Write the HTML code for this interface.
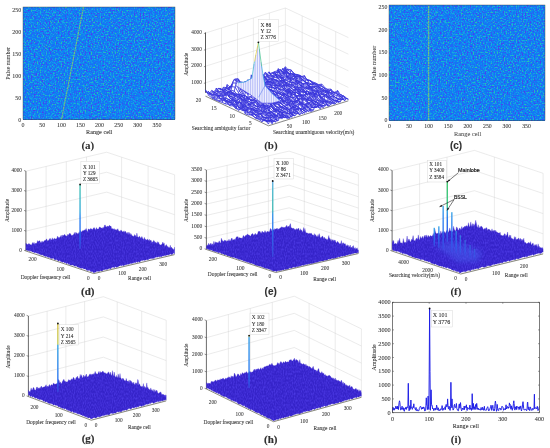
<!DOCTYPE html><html><head><meta charset="utf-8"><style>html,body{margin:0;padding:0;background:#fff}svg{display:block}</style></head><body>
<svg width="550" height="448" viewBox="0 0 550 448">
<defs>
<filter id="hm" x="0" y="0" width="100%" height="100%" color-interpolation-filters="sRGB">
<feTurbulence type="fractalNoise" baseFrequency="0.67" numOctaves="2" seed="3" result="n"/>
<feColorMatrix in="n" type="matrix" values="1 0 0 0 0  1 0 0 0 0  1 0 0 0 0  0 0 0 0 1"/>
<feComponentTransfer><feFuncR type="linear" slope="1.9" intercept="-0.45"/><feFuncG type="linear" slope="1.9" intercept="-0.45"/><feFuncB type="linear" slope="1.9" intercept="-0.45"/></feComponentTransfer>
<feComponentTransfer>
<feFuncR type="table" tableValues="0.30 0.25 0.15 0.09 0.07 0.07 0.07 0.08 0.10 0.18"/>
<feFuncG type="table" tableValues="0.24 0.30 0.40 0.45 0.48 0.52 0.57 0.63 0.70 0.76"/>
<feFuncB type="table" tableValues="0.93 0.95 0.96 0.96 0.96 0.95 0.93 0.90 0.84 0.66"/>
</feComponentTransfer>
<feGaussianBlur stdDeviation="0.5"/>
</filter>
<filter id="sf" x="0" y="0" width="100%" height="100%" color-interpolation-filters="sRGB">
<feTurbulence type="fractalNoise" baseFrequency="0.9 0.45" numOctaves="1" seed="5" result="n"/>
<feColorMatrix in="n" type="matrix" values="1.9 0 0 0 -0.7  1.9 0 0 0 -0.7  1.9 0 0 0 -0.7  0 0 0 0 1"/>
<feComponentTransfer>
<feFuncR type="table" tableValues="0.21 0.26 0.31"/>
<feFuncG type="table" tableValues="0.14 0.185 0.25"/>
<feFuncB type="table" tableValues="0.79 0.85 0.91"/>
</feComponentTransfer>
<feComposite in2="SourceGraphic" operator="in"/>
</filter>
<filter id="bl" x="-50%" y="-50%" width="200%" height="200%"><feGaussianBlur stdDeviation="2.5"/></filter>
</defs>
<rect width="550" height="448" fill="#fff"/>
<rect x="23" y="7" width="152" height="112.5" filter="url(#hm)" fill="#1e78f0"/>
<polyline points="61.5,119.5 83.5,7" fill="none" stroke="#78c878" stroke-width="1.15" stroke-dasharray="2.6 0.6 1.4 0.5" opacity="0.9"/>
<rect x="23" y="7" width="152" height="112.5" fill="none" stroke="#3a3a3a" stroke-width="0.4"/>
<text x="23.1" y="126.9" font-size="6.0" text-anchor="middle" font-family="'Liberation Serif','Times New Roman',serif" font-weight="normal" fill="#303030" stroke="#303030" stroke-width="0.06">0</text>
<text x="42.2" y="126.9" font-size="6.0" text-anchor="middle" font-family="'Liberation Serif','Times New Roman',serif" font-weight="normal" fill="#303030" stroke="#303030" stroke-width="0.06">50</text>
<text x="61.4" y="126.9" font-size="6.0" text-anchor="middle" font-family="'Liberation Serif','Times New Roman',serif" font-weight="normal" fill="#303030" stroke="#303030" stroke-width="0.06">100</text>
<text x="80.5" y="126.9" font-size="6.0" text-anchor="middle" font-family="'Liberation Serif','Times New Roman',serif" font-weight="normal" fill="#303030" stroke="#303030" stroke-width="0.06">150</text>
<text x="99.6" y="126.9" font-size="6.0" text-anchor="middle" font-family="'Liberation Serif','Times New Roman',serif" font-weight="normal" fill="#303030" stroke="#303030" stroke-width="0.06">200</text>
<text x="118.7" y="126.9" font-size="6.0" text-anchor="middle" font-family="'Liberation Serif','Times New Roman',serif" font-weight="normal" fill="#303030" stroke="#303030" stroke-width="0.06">250</text>
<text x="137.8" y="126.9" font-size="6.0" text-anchor="middle" font-family="'Liberation Serif','Times New Roman',serif" font-weight="normal" fill="#303030" stroke="#303030" stroke-width="0.06">300</text>
<text x="157" y="126.9" font-size="6.0" text-anchor="middle" font-family="'Liberation Serif','Times New Roman',serif" font-weight="normal" fill="#303030" stroke="#303030" stroke-width="0.06">350</text>
<text x="21.3" y="121.5" font-size="6.0" text-anchor="end" font-family="'Liberation Serif','Times New Roman',serif" font-weight="normal" fill="#303030" stroke="#303030" stroke-width="0.06">0</text>
<text x="21.3" y="99.5" font-size="6.0" text-anchor="end" font-family="'Liberation Serif','Times New Roman',serif" font-weight="normal" fill="#303030" stroke="#303030" stroke-width="0.06">50</text>
<text x="21.3" y="77.5" font-size="6.0" text-anchor="end" font-family="'Liberation Serif','Times New Roman',serif" font-weight="normal" fill="#303030" stroke="#303030" stroke-width="0.06">100</text>
<text x="21.3" y="55.6" font-size="6.0" text-anchor="end" font-family="'Liberation Serif','Times New Roman',serif" font-weight="normal" fill="#303030" stroke="#303030" stroke-width="0.06">150</text>
<text x="21.3" y="33.6" font-size="6.0" text-anchor="end" font-family="'Liberation Serif','Times New Roman',serif" font-weight="normal" fill="#303030" stroke="#303030" stroke-width="0.06">200</text>
<text x="21.3" y="11.6" font-size="6.0" text-anchor="end" font-family="'Liberation Serif','Times New Roman',serif" font-weight="normal" fill="#303030" stroke="#303030" stroke-width="0.06">250</text>
<text x="99.2" y="134.2" font-size="6.2" text-anchor="middle" font-family="'Liberation Serif','Times New Roman',serif" font-weight="normal" fill="#303030" stroke="#303030" stroke-width="0.06">Range cell</text>
<text x="7.6" y="65.3" font-size="6.0" text-anchor="middle" font-family="'Liberation Serif','Times New Roman',serif" font-weight="normal" fill="#303030" stroke="#303030" stroke-width="0.06" transform="rotate(-90 7.6 63.3)">Pulse number</text>
<text x="87.8" y="149.1" font-size="11" text-anchor="middle" font-family="'Liberation Serif','Times New Roman',serif" font-weight="bold" fill="#303030" stroke="#303030" stroke-width="0.06">(a)</text>
<rect x="389" y="5" width="156" height="115.5" filter="url(#hm)" fill="#1e78f0"/>
<polyline points="428.6,120.5 428.6,5" fill="none" stroke="#78c878" stroke-width="1.4" stroke-dasharray="2.6 0.6 1.4 0.5" opacity="0.9"/>
<rect x="389" y="5" width="156" height="115.5" fill="none" stroke="#3a3a3a" stroke-width="0.4"/>
<text x="389.5" y="128.2" font-size="5.8" text-anchor="middle" font-family="'Liberation Serif','Times New Roman',serif" font-weight="normal" fill="#303030" stroke="#303030" stroke-width="0.06">0</text>
<text x="409.1" y="128.2" font-size="5.8" text-anchor="middle" font-family="'Liberation Serif','Times New Roman',serif" font-weight="normal" fill="#303030" stroke="#303030" stroke-width="0.06">50</text>
<text x="428.6" y="128.2" font-size="5.8" text-anchor="middle" font-family="'Liberation Serif','Times New Roman',serif" font-weight="normal" fill="#303030" stroke="#303030" stroke-width="0.06">100</text>
<text x="448.2" y="128.2" font-size="5.8" text-anchor="middle" font-family="'Liberation Serif','Times New Roman',serif" font-weight="normal" fill="#303030" stroke="#303030" stroke-width="0.06">150</text>
<text x="467.8" y="128.2" font-size="5.8" text-anchor="middle" font-family="'Liberation Serif','Times New Roman',serif" font-weight="normal" fill="#303030" stroke="#303030" stroke-width="0.06">200</text>
<text x="487.4" y="128.2" font-size="5.8" text-anchor="middle" font-family="'Liberation Serif','Times New Roman',serif" font-weight="normal" fill="#303030" stroke="#303030" stroke-width="0.06">250</text>
<text x="506.9" y="128.2" font-size="5.8" text-anchor="middle" font-family="'Liberation Serif','Times New Roman',serif" font-weight="normal" fill="#303030" stroke="#303030" stroke-width="0.06">300</text>
<text x="526.5" y="128.2" font-size="5.8" text-anchor="middle" font-family="'Liberation Serif','Times New Roman',serif" font-weight="normal" fill="#303030" stroke="#303030" stroke-width="0.06">350</text>
<text x="387.3" y="122.2" font-size="5.8" text-anchor="end" font-family="'Liberation Serif','Times New Roman',serif" font-weight="normal" fill="#303030" stroke="#303030" stroke-width="0.06">0</text>
<text x="387.3" y="99.6" font-size="5.8" text-anchor="end" font-family="'Liberation Serif','Times New Roman',serif" font-weight="normal" fill="#303030" stroke="#303030" stroke-width="0.06">50</text>
<text x="387.3" y="77" font-size="5.8" text-anchor="end" font-family="'Liberation Serif','Times New Roman',serif" font-weight="normal" fill="#303030" stroke="#303030" stroke-width="0.06">100</text>
<text x="387.3" y="54.4" font-size="5.8" text-anchor="end" font-family="'Liberation Serif','Times New Roman',serif" font-weight="normal" fill="#303030" stroke="#303030" stroke-width="0.06">150</text>
<text x="387.3" y="31.8" font-size="5.8" text-anchor="end" font-family="'Liberation Serif','Times New Roman',serif" font-weight="normal" fill="#303030" stroke="#303030" stroke-width="0.06">200</text>
<text x="387.3" y="9.2" font-size="5.8" text-anchor="end" font-family="'Liberation Serif','Times New Roman',serif" font-weight="normal" fill="#303030" stroke="#303030" stroke-width="0.06">250</text>
<text x="467.6" y="135.7" font-size="6.4" text-anchor="middle" font-family="'Liberation Serif','Times New Roman',serif" font-weight="normal" fill="#555" stroke="#555" stroke-width="0.06">Range cell</text>
<text x="373.7" y="65" font-size="6.3" text-anchor="middle" font-family="'Liberation Serif','Times New Roman',serif" font-weight="normal" fill="#303030" stroke="#303030" stroke-width="0.06" transform="rotate(-90 373.7 62.9)">Pulse number</text>
<text x="456" y="148.6" font-size="10" text-anchor="middle" font-family="'Liberation Sans',Arial,sans-serif" font-weight="bold" fill="#303030" stroke="#303030" stroke-width="0.1">(c)</text>
<polyline points="25.9,231.1 106.7,212.1 174.6,234.7" fill="none" stroke="#d2d2d2" stroke-width="0.45"/>
<polyline points="25.9,211.1 106.7,192.1 174.6,214.7" fill="none" stroke="#d2d2d2" stroke-width="0.45"/>
<polyline points="25.9,191.2 106.7,172.2 174.6,194.8" fill="none" stroke="#d2d2d2" stroke-width="0.45"/>
<polyline points="25.9,171.2 106.7,152.2 174.6,174.8" fill="none" stroke="#d2d2d2" stroke-width="0.45"/>
<line x1="46.1" y1="246.2" x2="46.1" y2="166.4" stroke="#d2d2d2" stroke-width="0.45"/>
<line x1="66.3" y1="241.5" x2="66.3" y2="161.7" stroke="#d2d2d2" stroke-width="0.45"/>
<line x1="86.5" y1="236.8" x2="86.5" y2="156.9" stroke="#d2d2d2" stroke-width="0.45"/>
<line x1="174.6" y1="254.6" x2="174.6" y2="174.8" stroke="#d2d2d2" stroke-width="0.45"/>
<line x1="148.1" y1="245.8" x2="148.1" y2="166" stroke="#d2d2d2" stroke-width="0.45"/>
<line x1="121.6" y1="237" x2="121.6" y2="157.2" stroke="#d2d2d2" stroke-width="0.45"/>
<line x1="114" y1="268.9" x2="46.1" y2="246.2" stroke="#d2d2d2" stroke-width="0.45"/>
<line x1="134.2" y1="264.1" x2="66.3" y2="241.5" stroke="#d2d2d2" stroke-width="0.45"/>
<line x1="154.4" y1="259.4" x2="86.5" y2="236.8" stroke="#d2d2d2" stroke-width="0.45"/>
<line x1="93.8" y1="273.6" x2="174.6" y2="254.6" stroke="#d2d2d2" stroke-width="0.45"/>
<line x1="67.3" y1="264.8" x2="148.1" y2="245.8" stroke="#d2d2d2" stroke-width="0.45"/>
<line x1="40.8" y1="256" x2="121.6" y2="237" stroke="#d2d2d2" stroke-width="0.45"/>
<line x1="25.9" y1="251" x2="25.9" y2="171.2" stroke="#3a3a3a" stroke-width="0.75"/>
<line x1="24.1" y1="250.3" x2="25.9" y2="251" stroke="#3a3a3a" stroke-width="0.55"/>
<text x="22" y="251.8" font-size="5.3" text-anchor="end" font-family="'Liberation Serif','Times New Roman',serif" font-weight="normal" fill="#303030" stroke="#303030" stroke-width="0.06">0</text>
<line x1="24.1" y1="230.4" x2="25.9" y2="231.1" stroke="#3a3a3a" stroke-width="0.55"/>
<text x="22" y="231.9" font-size="5.3" text-anchor="end" font-family="'Liberation Serif','Times New Roman',serif" font-weight="normal" fill="#303030" stroke="#303030" stroke-width="0.06">1000</text>
<line x1="24.1" y1="210.4" x2="25.9" y2="211.1" stroke="#3a3a3a" stroke-width="0.55"/>
<text x="22" y="211.9" font-size="5.3" text-anchor="end" font-family="'Liberation Serif','Times New Roman',serif" font-weight="normal" fill="#303030" stroke="#303030" stroke-width="0.06">2000</text>
<line x1="24.1" y1="190.5" x2="25.9" y2="191.2" stroke="#3a3a3a" stroke-width="0.55"/>
<text x="22" y="192" font-size="5.3" text-anchor="end" font-family="'Liberation Serif','Times New Roman',serif" font-weight="normal" fill="#303030" stroke="#303030" stroke-width="0.06">3000</text>
<line x1="24.1" y1="170.5" x2="25.9" y2="171.2" stroke="#3a3a3a" stroke-width="0.55"/>
<text x="22" y="172" font-size="5.3" text-anchor="end" font-family="'Liberation Serif','Times New Roman',serif" font-weight="normal" fill="#303030" stroke="#303030" stroke-width="0.06">4000</text>
<polygon points="25.9,250.2 26.5,249.9 27.1,249.9 27.8,250.9 28.4,250.9 29,250.1 29.6,251.5 30.2,251.6 30.8,250.7 31.5,251.3 32.1,251.9 32.7,251.9 33.3,251.9 33.9,252.6 34.5,253 35.2,252.3 35.8,252.7 36.4,253.1 37,252.9 37.6,253.5 38.2,253.1 38.9,254.4 39.5,254.1 40.1,254.4 40.7,254.8 41.3,254.7 41.9,255.3 42.6,254.8 43.2,254.9 43.8,256.1 44.4,255.9 45,256.3 45.7,256.8 46.3,255.9 46.9,256.7 47.5,257.3 48.1,256.8 48.7,257.7 49.4,256.9 50,258 50.6,258.5 51.2,258.5 51.8,258.5 52.4,258.5 53.1,258.1 53.7,258.6 54.3,259.3 54.9,260 55.5,260 56.1,259 56.8,260 57.4,259.9 58,260.9 58.6,261.2 59.2,260.3 59.8,260.8 60.5,261.4 61.1,261.6 61.7,262.1 62.3,262.2 62.9,262.6 63.6,261.7 64.2,262.4 64.8,263.1 65.4,262.5 66,263.4 66.6,263.8 67.3,263.3 67.9,263.1 68.5,264.5 69.1,263.6 69.7,264.7 70.3,265 71,265.3 71.6,265.1 72.2,264.8 72.8,265.3 73.4,265 74,266.1 74.7,266.1 75.3,266.4 75.9,265.6 76.5,265.9 77.1,266.9 77.8,267 78.4,267.4 79,267 79.6,268.1 80.2,268.3 80.8,268.1 81.5,268.5 82.1,267.9 82.7,268.2 83.3,268.7 83.9,268.7 84.5,268.9 85.2,269 85.8,269 86.4,270.3 87,269.8 87.6,270.7 88.2,270.5 88.9,270.2 89.5,270.3 90.1,270.7 90.7,271.8 91.3,271.6 91.9,272.1 92.6,271.2 93.2,272.5 93.8,272.7 94.5,272.4 95.3,272.1 96,272.3 96.7,271.1 97.5,271.2 98.2,271.7 98.9,271 99.7,271.4 100.4,270.5 101.1,270.9 101.9,271 102.6,270.7 103.3,269.9 104.1,269.6 104.8,269.9 105.6,269.3 106.3,269.5 107,269.6 107.8,269.2 108.5,268.9 109.2,268.1 110,269 110.7,268.8 111.4,268 112.2,267.3 112.9,267.2 113.6,267.3 114.4,268 115.1,266.8 115.8,266.8 116.6,267.4 117.3,266.8 118,267.2 118.8,266 119.5,265.9 120.2,265.6 121,265.5 121.7,266 122.4,265.1 123.2,265.7 123.9,265.7 124.7,265.1 125.4,264.8 126.1,264.9 126.9,264.3 127.6,264.2 128.3,264.5 129.1,263.8 129.8,264 130.5,263.3 131.3,263.7 132,262.9 132.7,263.2 133.5,262.9 134.2,262.5 134.9,262.6 135.7,262.7 136.4,261.6 137.1,262.6 137.9,262.1 138.6,261.6 139.3,262.2 140.1,261.8 140.8,260.8 141.5,260.6 142.3,260.7 143,260.1 143.7,260.2 144.5,260.6 145.2,260 146,260.2 146.7,259.5 147.4,259.8 148.2,259.9 148.9,258.8 149.6,258.9 150.4,258.6 151.1,258.7 151.8,258.2 152.6,258.5 153.3,258.2 154,258.7 154.8,257.8 155.5,257.3 156.2,257.3 157,257 157.7,257.2 158.4,256.5 159.2,257.4 159.9,256.2 160.6,256.7 161.4,256.9 162.1,256 162.8,256.1 163.6,255.9 164.3,255.2 165.1,256 165.8,255.2 166.5,255.3 167.3,254.9 168,254.8 168.7,255.1 169.5,254.4 170.2,253.8 170.9,254.6 171.7,254.6 172.4,254.4 173.1,253.6 173.9,252.8 174.6,253.9 174.6,247.1 174,249.8 173.4,249.4 172.7,248.3 172.1,248.9 171.5,247.1 170.9,248.1 170.3,245.2 169.7,247.8 169,247.4 168.4,247.3 167.8,246.2 167.2,246.7 166.6,244.8 166,244.7 165.3,246.2 164.7,246.2 164.1,242.9 163.5,244.2 162.9,242 162.3,243.6 161.6,244.4 161,244.9 160.4,244.9 159.8,244.6 159.2,243.9 158.6,241.9 157.9,243.5 157.3,241.6 156.7,243.6 156.1,242.6 155.5,242.2 154.8,242.2 154.2,240.8 153.6,240.4 153,241.9 152.4,242 151.8,242.5 151.1,240.2 150.5,240.3 149.9,241.2 149.3,239.3 148.7,240.3 148.1,240.5 147.4,238.9 146.8,240.1 146.2,240 145.6,239.2 145,239.6 144.4,237.3 143.7,239.3 143.1,239.6 142.5,237.9 141.9,236.4 141.3,237.4 140.6,238.5 140,236.7 139.4,236.2 138.8,237.3 138.2,237.2 137.6,236.9 136.9,233.1 136.3,237.3 135.7,235.3 135.1,236.2 134.5,234.5 133.9,236.5 133.2,236.3 132.6,236 132,235.6 131.4,234.4 130.8,233.4 130.2,235.3 129.5,232.5 128.9,234.5 128.3,232.2 127.7,233.8 127.1,232.2 126.5,233.8 125.8,231.9 125.2,231.1 124.6,232.6 124,230.7 123.4,231.7 122.7,232.1 122.1,231.3 121.5,230.6 120.9,229.9 120.3,231.3 119.7,231.1 119,231.5 118.4,230.3 117.8,228.7 117.2,229.5 116.6,230.6 116,229.3 115.3,230.1 114.7,229.6 114.1,228.5 113.5,229.2 112.9,228.9 112.3,228.4 111.6,228.7 111,226.1 110.4,226.3 109.8,225.6 109.2,225.6 108.6,226.8 107.9,226.1 107.3,226.2 106.7,227.5 106.7,226.5 106,227.3 105.2,224.9 104.5,225.2 103.8,228 103,227.2 102.3,228.5 101.6,228.1 100.8,228 100.1,226.9 99.4,227 98.6,229.1 97.9,229 97.2,229.2 96.4,227.6 95.7,230 94.9,228.8 94.2,227.6 93.5,228 92.7,229.7 92,228.8 91.3,229.1 90.5,228.4 89.8,230.1 89.1,229.1 88.3,228.9 87.6,231.8 86.9,230.8 86.1,228.4 85.4,229.9 84.7,229.8 83.9,230.7 83.2,230.5 82.5,230.7 81.7,231.9 81,231.7 80.3,230.5 79.5,232.7 78.8,232.4 78.1,234.1 77.3,233.4 76.6,233.1 75.8,232.3 75.1,234.8 74.4,232.4 73.6,234.8 72.9,234.8 72.2,235.6 71.4,235.4 70.7,234 70,233.3 69.2,233.7 68.5,235.2 67.8,234.3 67,236.3 66.3,236 65.6,235.8 64.8,234.5 64.1,234.8 63.4,235.8 62.6,235.1 61.9,237.8 61.2,235.2 60.4,236.6 59.7,238 59,236.9 58.2,238 57.5,236 56.8,239 56,238.5 55.3,239.3 54.5,238.2 53.8,238.8 53.1,239.9 52.3,237.8 51.6,239.9 50.9,239.8 50.1,238.2 49.4,239.3 48.7,240 47.9,241.2 47.2,240.2 46.5,238.8 45.7,240.5 45,240.3 44.3,240.8 43.5,241.7 42.8,242.5 42.1,240.9 41.3,242.4 40.6,242.8 39.9,240.9 39.1,240.7 38.4,241.8 37.7,240.6 36.9,242.7 36.2,243.5 35.4,243.3 34.7,244.3 34,242.3 33.2,244.1 32.5,242.5 31.8,244.7 31,244.8 30.3,244.8 29.6,243.9 28.8,243.4 28.1,244.2 27.4,244.6 26.6,244 25.9,243.2" fill="#4530d8" stroke="#4530d8" stroke-width="0.3" stroke-linejoin="round" filter="url(#sf)"/>
<line x1="93.8" y1="273.6" x2="25.9" y2="251" stroke="#6e6e60" stroke-width="0.8"/>
<line x1="93.8" y1="273.6" x2="174.6" y2="254.6" stroke="#6e6e60" stroke-width="0.8"/>
<defs><linearGradient id="pk801" x1="0" y1="0" x2="0" y2="1"><stop offset="0" stop-color="#40c4ae"/><stop offset="0.42" stop-color="#2aa6da"/><stop offset="0.5" stop-color="#1d80f0"/><stop offset="0.85" stop-color="#2462f0"/><stop offset="1" stop-color="#3a48e0"/></linearGradient></defs>
<rect x="79.4" y="184.5" width="1.3" height="64.5" fill="url(#pk801)"/>
<rect x="80.9" y="161.3" width="18.8" height="22.2" fill="#fff" fill-opacity="0.9" stroke="#d0d0d0" stroke-width="0.4"/>
<text x="82.9" y="168.8" font-size="5.2" text-anchor="start" font-family="'Liberation Serif','Times New Roman',serif" font-weight="normal" fill="#222" stroke="#222" stroke-width="0.06">X 101</text>
<text x="82.9" y="174.8" font-size="5.2" text-anchor="start" font-family="'Liberation Serif','Times New Roman',serif" font-weight="normal" fill="#222" stroke="#222" stroke-width="0.06">Y 129</text>
<text x="82.9" y="180.8" font-size="5.2" text-anchor="start" font-family="'Liberation Serif','Times New Roman',serif" font-weight="normal" fill="#222" stroke="#222" stroke-width="0.06">Z 3665</text>
<circle cx="80.1" cy="184.5" r="0.9" fill="#111"/>
<text x="32.6" y="261" font-size="5.3" text-anchor="middle" font-family="'Liberation Serif','Times New Roman',serif" font-weight="normal" fill="#303030" stroke="#303030" stroke-width="0.06">200</text>
<text x="60.5" y="271.1" font-size="5.3" text-anchor="middle" font-family="'Liberation Serif','Times New Roman',serif" font-weight="normal" fill="#303030" stroke="#303030" stroke-width="0.06">100</text>
<text x="88.3" y="279.9" font-size="5.3" text-anchor="middle" font-family="'Liberation Serif','Times New Roman',serif" font-weight="normal" fill="#303030" stroke="#303030" stroke-width="0.06">0</text>
<text x="99.2" y="279.9" font-size="5.3" text-anchor="middle" font-family="'Liberation Serif','Times New Roman',serif" font-weight="normal" fill="#303030" stroke="#303030" stroke-width="0.06">0</text>
<text x="122.3" y="275.3" font-size="5.3" text-anchor="middle" font-family="'Liberation Serif','Times New Roman',serif" font-weight="normal" fill="#303030" stroke="#303030" stroke-width="0.06">100</text>
<text x="142.8" y="270.8" font-size="5.3" text-anchor="middle" font-family="'Liberation Serif','Times New Roman',serif" font-weight="normal" fill="#303030" stroke="#303030" stroke-width="0.06">200</text>
<text x="163.2" y="265.9" font-size="5.3" text-anchor="middle" font-family="'Liberation Serif','Times New Roman',serif" font-weight="normal" fill="#303030" stroke="#303030" stroke-width="0.06">300</text>
<text x="45.5" y="278.9" font-size="5.4" text-anchor="middle" font-family="'Liberation Serif','Times New Roman',serif" font-weight="normal" fill="#303030" stroke="#303030" stroke-width="0.06">Doppler frequency cell</text>
<text x="139.5" y="279.6" font-size="5.4" text-anchor="middle" font-family="'Liberation Serif','Times New Roman',serif" font-weight="normal" fill="#303030" stroke="#303030" stroke-width="0.06">Range cell</text>
<text x="7.4" y="212.3" font-size="5.4" text-anchor="middle" font-family="'Liberation Serif','Times New Roman',serif" font-weight="normal" fill="#303030" stroke="#303030" stroke-width="0.06" transform="rotate(-90 7.4 210.5)">Amplitude</text>
<text x="87.8" y="295.4" font-size="11" text-anchor="middle" font-family="'Liberation Serif','Times New Roman',serif" font-weight="bold" fill="#303030" stroke="#303030" stroke-width="0.18">(d)</text>
<polyline points="206.4,238.2 289.1,219.2 358.4,242.2" fill="none" stroke="#d2d2d2" stroke-width="0.45"/>
<polyline points="206.4,226.8 289.1,207.8 358.4,230.8" fill="none" stroke="#d2d2d2" stroke-width="0.45"/>
<polyline points="206.4,215.4 289.1,196.4 358.4,219.4" fill="none" stroke="#d2d2d2" stroke-width="0.45"/>
<polyline points="206.4,204.1 289.1,185.1 358.4,208.1" fill="none" stroke="#d2d2d2" stroke-width="0.45"/>
<polyline points="206.4,192.8 289.1,173.8 358.4,196.8" fill="none" stroke="#d2d2d2" stroke-width="0.45"/>
<polyline points="206.4,181.4 289.1,162.4 358.4,185.4" fill="none" stroke="#d2d2d2" stroke-width="0.45"/>
<polyline points="206.4,170.1 289.1,151.1 358.4,174.1" fill="none" stroke="#d2d2d2" stroke-width="0.45"/>
<line x1="227.1" y1="244.8" x2="227.1" y2="165.3" stroke="#d2d2d2" stroke-width="0.45"/>
<line x1="247.7" y1="240" x2="247.7" y2="160.6" stroke="#d2d2d2" stroke-width="0.45"/>
<line x1="268.4" y1="235.2" x2="268.4" y2="155.8" stroke="#d2d2d2" stroke-width="0.45"/>
<line x1="358.4" y1="253.5" x2="358.4" y2="174.1" stroke="#d2d2d2" stroke-width="0.45"/>
<line x1="331.4" y1="244.5" x2="331.4" y2="165.1" stroke="#d2d2d2" stroke-width="0.45"/>
<line x1="304.3" y1="235.6" x2="304.3" y2="156.1" stroke="#d2d2d2" stroke-width="0.45"/>
<line x1="296.4" y1="267.8" x2="227.1" y2="244.8" stroke="#d2d2d2" stroke-width="0.45"/>
<line x1="317" y1="263" x2="247.7" y2="240" stroke="#d2d2d2" stroke-width="0.45"/>
<line x1="337.7" y1="258.2" x2="268.4" y2="235.2" stroke="#d2d2d2" stroke-width="0.45"/>
<line x1="275.7" y1="272.5" x2="358.4" y2="253.5" stroke="#d2d2d2" stroke-width="0.45"/>
<line x1="248.7" y1="263.5" x2="331.4" y2="244.5" stroke="#d2d2d2" stroke-width="0.45"/>
<line x1="221.6" y1="254.6" x2="304.3" y2="235.6" stroke="#d2d2d2" stroke-width="0.45"/>
<line x1="206.4" y1="249.5" x2="206.4" y2="170.1" stroke="#3a3a3a" stroke-width="0.75"/>
<line x1="204.6" y1="248.8" x2="206.4" y2="249.5" stroke="#3a3a3a" stroke-width="0.55"/>
<text x="202.2" y="250.4" font-size="5.5" text-anchor="end" font-family="'Liberation Serif','Times New Roman',serif" font-weight="normal" fill="#303030" stroke="#303030" stroke-width="0.06">0</text>
<line x1="204.6" y1="237.5" x2="206.4" y2="238.2" stroke="#3a3a3a" stroke-width="0.55"/>
<text x="202.2" y="239.1" font-size="5.5" text-anchor="end" font-family="'Liberation Serif','Times New Roman',serif" font-weight="normal" fill="#303030" stroke="#303030" stroke-width="0.06">500</text>
<line x1="204.6" y1="226.1" x2="206.4" y2="226.8" stroke="#3a3a3a" stroke-width="0.55"/>
<text x="202.2" y="227.7" font-size="5.5" text-anchor="end" font-family="'Liberation Serif','Times New Roman',serif" font-weight="normal" fill="#303030" stroke="#303030" stroke-width="0.06">1000</text>
<line x1="204.6" y1="214.8" x2="206.4" y2="215.4" stroke="#3a3a3a" stroke-width="0.55"/>
<text x="202.2" y="216.4" font-size="5.5" text-anchor="end" font-family="'Liberation Serif','Times New Roman',serif" font-weight="normal" fill="#303030" stroke="#303030" stroke-width="0.06">1500</text>
<line x1="204.6" y1="203.4" x2="206.4" y2="204.1" stroke="#3a3a3a" stroke-width="0.55"/>
<text x="202.2" y="205" font-size="5.5" text-anchor="end" font-family="'Liberation Serif','Times New Roman',serif" font-weight="normal" fill="#303030" stroke="#303030" stroke-width="0.06">2000</text>
<line x1="204.6" y1="192.1" x2="206.4" y2="192.8" stroke="#3a3a3a" stroke-width="0.55"/>
<text x="202.2" y="193.7" font-size="5.5" text-anchor="end" font-family="'Liberation Serif','Times New Roman',serif" font-weight="normal" fill="#303030" stroke="#303030" stroke-width="0.06">2500</text>
<line x1="204.6" y1="180.7" x2="206.4" y2="181.4" stroke="#3a3a3a" stroke-width="0.55"/>
<text x="202.2" y="182.3" font-size="5.5" text-anchor="end" font-family="'Liberation Serif','Times New Roman',serif" font-weight="normal" fill="#303030" stroke="#303030" stroke-width="0.06">3000</text>
<line x1="204.6" y1="169.4" x2="206.4" y2="170.1" stroke="#3a3a3a" stroke-width="0.55"/>
<text x="202.2" y="171" font-size="5.5" text-anchor="end" font-family="'Liberation Serif','Times New Roman',serif" font-weight="normal" fill="#303030" stroke="#303030" stroke-width="0.06">3500</text>
<polygon points="206.4,248.8 207,248.4 207.7,249.3 208.3,249.5 208.9,249.6 209.6,249.9 210.2,249.7 210.8,250.4 211.4,249.9 212.1,250.2 212.7,251.1 213.3,250.9 214,251.5 214.6,251.5 215.2,251.6 215.8,251.8 216.5,252 217.1,251.8 217.7,252.6 218.4,252.9 219,252.6 219.6,252.6 220.3,252.8 220.9,253.1 221.5,254 222.2,253.4 222.8,253.9 223.4,253.9 224,254.5 224.7,254.9 225.3,254.6 225.9,254.9 226.6,255 227.2,255.8 227.8,256 228.4,255.7 229.1,256.6 229.7,255.9 230.3,256.9 231,256.7 231.6,257 232.2,257.3 232.9,257.7 233.5,257.3 234.1,257.4 234.8,257.8 235.4,258.1 236,258.2 236.6,258.6 237.3,258.8 237.9,258.7 238.5,259.5 239.2,259.7 239.8,259.3 240.4,259.5 241.1,260.1 241.7,260 242.3,260.3 242.9,260.3 243.6,261.3 244.2,260.8 244.8,261.4 245.5,261.6 246.1,261.6 246.7,261.9 247.3,262.2 248,262.6 248.6,262.2 249.2,262.5 249.9,263.4 250.5,263.3 251.1,263.2 251.8,263.3 252.4,263.4 253,264.3 253.6,263.9 254.3,264.3 254.9,265.1 255.5,265.2 256.2,265.4 256.8,265.7 257.4,265.4 258.1,265.9 258.7,265.8 259.3,266.5 259.9,266 260.6,266.4 261.2,266.5 261.8,266.9 262.5,267.2 263.1,267.7 263.7,267.2 264.4,268.2 265,268 265.6,268.6 266.2,268.8 266.9,268.5 267.5,268.5 268.1,269.1 268.8,269 269.4,269.2 270,269.7 270.7,269.7 271.3,270.3 271.9,270.7 272.6,270.8 273.2,271.2 273.8,271.4 274.4,271 275.1,271 275.7,271.2 276.5,271.8 277.2,271.1 278,270.8 278.7,270.7 279.5,270.7 280.2,270.6 281,270.2 281.7,270.4 282.5,269.8 283.2,270.1 284,270.1 284.7,269.1 285.5,269.7 286.2,269.5 287,269.4 287.7,269.3 288.5,269 289.2,268.1 290,268.1 290.7,268.2 291.5,268.4 292.2,267.5 293,267.6 293.7,267.1 294.5,267.3 295.2,267.5 296,267.3 296.8,266.5 297.5,266.8 298.3,266.7 299,266.3 299.8,266.3 300.5,266.1 301.3,265.5 302,265.6 302.8,264.9 303.5,265.6 304.3,265.2 305,264.5 305.8,264.7 306.5,264.3 307.3,264.4 308,264.3 308.8,263.7 309.5,264 310.3,263.6 311,263.4 311.8,263.7 312.5,263.5 313.3,263.2 314,263.2 314.8,262.5 315.5,262.4 316.3,262.4 317,262.2 317.8,262.3 318.6,261.8 319.3,261.3 320.1,261.8 320.8,261.1 321.6,260.9 322.3,261.1 323.1,260.9 323.8,260.8 324.6,260.3 325.3,260.3 326.1,260.4 326.8,260 327.6,259.9 328.3,259.1 329.1,259.2 329.8,259.2 330.6,259 331.3,258.7 332.1,258.2 332.8,258.6 333.6,258.7 334.3,258.4 335.1,258.4 335.8,258.1 336.6,257.5 337.3,257.7 338.1,257 338.9,256.7 339.6,257.3 340.4,256.5 341.1,256.4 341.9,256 342.6,256.5 343.4,255.8 344.1,256 344.9,256 345.6,255.8 346.4,255 347.1,255.2 347.9,255.1 348.6,254.5 349.4,254.4 350.1,254.1 350.9,254.8 351.6,253.7 352.4,253.8 353.1,253.4 353.9,253.4 354.6,253.1 355.4,252.9 356.1,253 356.9,253.3 357.6,252.6 358.4,253 358.4,249.9 357.8,249.8 357.1,247.8 356.5,248.5 355.9,249.5 355.2,247.5 354.6,248.3 354,248.7 353.4,245.6 352.7,246.2 352.1,248.4 351.5,246.9 350.8,247.8 350.2,245.1 349.6,246.4 348.9,247.3 348.3,245.3 347.7,246 347.1,244.6 346.4,246.2 345.8,245.4 345.2,243.6 344.5,244.1 343.9,243.6 343.3,242.7 342.6,243.2 342,245 341.4,240.6 340.8,243 340.1,244 339.5,244 338.9,242.6 338.2,242.7 337.6,241.2 337,242.1 336.3,243.2 335.7,241.5 335.1,240.1 334.5,240.1 333.8,241.6 333.2,239.8 332.6,240.4 331.9,239.2 331.3,241.5 330.7,240 330,238.4 329.4,238.5 328.8,235.5 328.2,238.3 327.5,239.8 326.9,239.9 326.3,238.8 325.6,238.7 325,239.1 324.4,237 323.8,239 323.1,237 322.5,236.1 321.9,236.6 321.2,237.5 320.6,237.9 320,236.8 319.3,233.6 318.7,237.2 318.1,234.5 317.4,236.8 316.8,236.4 316.2,236.1 315.6,234.5 314.9,236 314.3,233.6 313.7,235.6 313,235.1 312.4,235 311.8,234.1 311.1,232.9 310.5,233.6 309.9,233.9 309.3,232.9 308.6,233.8 308,233.6 307.4,233 306.7,232.9 306.1,232.7 305.5,231.4 304.9,228.4 304.2,231.4 303.6,227.5 303,231.7 302.3,231.7 301.7,229.8 301.1,231 300.4,228.7 299.8,231 299.2,230.1 298.6,228 297.9,228.8 297.3,229.8 296.7,228.4 296,229.7 295.4,229.4 294.8,229.4 294.1,228.8 293.5,228.2 292.9,228.2 292.2,228.5 291.6,227.8 291,227.8 290.4,223.6 289.7,225.3 289.1,226.7 289.1,227.4 288.3,226 287.6,227.5 286.8,225.3 286.1,226.2 285.3,227.2 284.6,227.6 283.8,227.2 283.1,227.8 282.3,227.1 281.6,226.8 280.8,228 280.1,227.7 279.3,229.1 278.6,228.9 277.8,229.6 277.1,228.1 276.3,229 275.6,229.3 274.8,228.6 274.1,229.9 273.3,229.6 272.6,231 271.8,231.1 271.1,229.1 270.3,228.6 269.6,231.8 268.8,231.5 268,232.2 267.3,231 266.5,232.5 265.8,232.5 265,230.6 264.3,232.4 263.5,232.6 262.8,231.8 262,231.2 261.3,233.5 260.5,232.4 259.8,231 259,231.8 258.3,231.3 257.5,234.1 256.8,234.6 256,234.8 255.3,233.3 254.5,234.5 253.8,235.5 253,234 252.3,233.5 251.5,234.3 250.8,236.1 250,236.2 249.3,235.1 248.5,235.1 247.7,234.2 247,234.4 246.2,235.6 245.5,235.5 244.7,237.2 244,236.1 243.2,235.6 242.5,238.2 241.7,238.2 241,237.9 240.2,237.9 239.5,237.5 238.7,238.7 238,236.6 237.2,237.1 236.5,236.8 235.7,238.5 235,239.9 234.2,239.1 233.5,239.7 232.7,240.4 232,238 231.2,238.8 230.5,240.7 229.7,241.1 229,239.2 228.2,241.2 227.5,240.6 226.7,241.7 225.9,240.2 225.2,241.1 224.4,239.9 223.7,241.6 222.9,241.2 222.2,240.3 221.4,238.2 220.7,243.2 219.9,242.4 219.2,240.8 218.4,242.7 217.7,243.1 216.9,242.1 216.2,242.9 215.4,241.7 214.7,244.4 213.9,241.3 213.2,244.9 212.4,243.7 211.7,244.9 210.9,243.1 210.2,244.3 209.4,245 208.7,243.2 207.9,245.5 207.2,244.9 206.4,246.2" fill="#4530d8" stroke="#4530d8" stroke-width="0.3" stroke-linejoin="round" filter="url(#sf)"/>
<line x1="275.7" y1="272.5" x2="206.4" y2="249.5" stroke="#6e6e60" stroke-width="0.8"/>
<line x1="275.7" y1="272.5" x2="358.4" y2="253.5" stroke="#6e6e60" stroke-width="0.8"/>
<defs><linearGradient id="pk2727" x1="0" y1="0" x2="0" y2="1"><stop offset="0" stop-color="#5aa8e2"/><stop offset="0.12" stop-color="#44b4cc"/><stop offset="0.38" stop-color="#3cb8b0"/><stop offset="0.44" stop-color="#2c92e6"/><stop offset="0.6" stop-color="#2a78f0"/><stop offset="1" stop-color="#3a48e0"/></linearGradient></defs>
<rect x="272.1" y="181" width="1.3" height="76" fill="url(#pk2727)"/>
<rect x="274" y="158.2" width="19.2" height="20.8" fill="#fff" fill-opacity="0.9" stroke="#d0d0d0" stroke-width="0.4"/>
<text x="275.9" y="164.8" font-size="5.2" text-anchor="start" font-family="'Liberation Serif','Times New Roman',serif" font-weight="normal" fill="#222" stroke="#222" stroke-width="0.06">X 100</text>
<text x="275.9" y="170.8" font-size="5.2" text-anchor="start" font-family="'Liberation Serif','Times New Roman',serif" font-weight="normal" fill="#222" stroke="#222" stroke-width="0.06">Y 86</text>
<text x="275.9" y="177.2" font-size="5.2" text-anchor="start" font-family="'Liberation Serif','Times New Roman',serif" font-weight="normal" fill="#222" stroke="#222" stroke-width="0.06">Z 3471</text>
<circle cx="272.7" cy="181" r="0.9" fill="#111"/>
<text x="212.8" y="261.4" font-size="5.5" text-anchor="middle" font-family="'Liberation Serif','Times New Roman',serif" font-weight="normal" fill="#303030" stroke="#303030" stroke-width="0.06">200</text>
<text x="240.4" y="270.3" font-size="5.5" text-anchor="middle" font-family="'Liberation Serif','Times New Roman',serif" font-weight="normal" fill="#303030" stroke="#303030" stroke-width="0.06">100</text>
<text x="269.8" y="278.1" font-size="5.5" text-anchor="middle" font-family="'Liberation Serif','Times New Roman',serif" font-weight="normal" fill="#303030" stroke="#303030" stroke-width="0.06">0</text>
<text x="280.5" y="278.6" font-size="5.5" text-anchor="middle" font-family="'Liberation Serif','Times New Roman',serif" font-weight="normal" fill="#303030" stroke="#303030" stroke-width="0.06">0</text>
<text x="304" y="274.6" font-size="5.5" text-anchor="middle" font-family="'Liberation Serif','Times New Roman',serif" font-weight="normal" fill="#303030" stroke="#303030" stroke-width="0.06">100</text>
<text x="325" y="269.5" font-size="5.5" text-anchor="middle" font-family="'Liberation Serif','Times New Roman',serif" font-weight="normal" fill="#303030" stroke="#303030" stroke-width="0.06">200</text>
<text x="345.9" y="265" font-size="5.5" text-anchor="middle" font-family="'Liberation Serif','Times New Roman',serif" font-weight="normal" fill="#303030" stroke="#303030" stroke-width="0.06">300</text>
<text x="232.7" y="276.4" font-size="5.4" text-anchor="middle" font-family="'Liberation Serif','Times New Roman',serif" font-weight="normal" fill="#303030" stroke="#303030" stroke-width="0.06">Doppler frequency cell</text>
<text x="324.6" y="281.3" font-size="5.4" text-anchor="middle" font-family="'Liberation Serif','Times New Roman',serif" font-weight="normal" fill="#303030" stroke="#303030" stroke-width="0.06">Range cell</text>
<text x="186.2" y="212.2" font-size="5.4" text-anchor="middle" font-family="'Liberation Serif','Times New Roman',serif" font-weight="normal" fill="#303030" stroke="#303030" stroke-width="0.06" transform="rotate(-90 186.2 210.4)">Amplitude</text>
<text x="270.7" y="295.1" font-size="10" text-anchor="middle" font-family="'Liberation Sans',Arial,sans-serif" font-weight="bold" fill="#303030" stroke="#303030" stroke-width="0.1">(e)</text>
<polyline points="28.4,376.5 103.4,357.2 166.2,380.8" fill="none" stroke="#d2d2d2" stroke-width="0.45"/>
<polyline points="28.4,356.3 103.4,337 166.2,360.6" fill="none" stroke="#d2d2d2" stroke-width="0.45"/>
<polyline points="28.4,336.2 103.4,316.9 166.2,340.4" fill="none" stroke="#d2d2d2" stroke-width="0.45"/>
<polyline points="28.4,316 103.4,296.7 166.2,320.3" fill="none" stroke="#d2d2d2" stroke-width="0.45"/>
<line x1="47.1" y1="391.8" x2="47.1" y2="311.2" stroke="#d2d2d2" stroke-width="0.45"/>
<line x1="65.9" y1="386.9" x2="65.9" y2="306.4" stroke="#d2d2d2" stroke-width="0.45"/>
<line x1="84.6" y1="382.1" x2="84.6" y2="301.5" stroke="#d2d2d2" stroke-width="0.45"/>
<line x1="166.2" y1="400.9" x2="166.2" y2="320.3" stroke="#d2d2d2" stroke-width="0.45"/>
<line x1="141.7" y1="391.7" x2="141.7" y2="311.1" stroke="#d2d2d2" stroke-width="0.45"/>
<line x1="117.2" y1="382.5" x2="117.2" y2="301.9" stroke="#d2d2d2" stroke-width="0.45"/>
<line x1="110" y1="415.4" x2="47.1" y2="391.8" stroke="#d2d2d2" stroke-width="0.45"/>
<line x1="128.7" y1="410.5" x2="65.9" y2="386.9" stroke="#d2d2d2" stroke-width="0.45"/>
<line x1="147.4" y1="405.7" x2="84.6" y2="382.1" stroke="#d2d2d2" stroke-width="0.45"/>
<line x1="91.2" y1="420.2" x2="166.2" y2="400.9" stroke="#d2d2d2" stroke-width="0.45"/>
<line x1="66.7" y1="411" x2="141.7" y2="391.7" stroke="#d2d2d2" stroke-width="0.45"/>
<line x1="42.2" y1="401.8" x2="117.2" y2="382.5" stroke="#d2d2d2" stroke-width="0.45"/>
<line x1="28.4" y1="396.6" x2="28.4" y2="316" stroke="#3a3a3a" stroke-width="0.75"/>
<line x1="26.6" y1="395.9" x2="28.4" y2="396.6" stroke="#3a3a3a" stroke-width="0.55"/>
<text x="24.6" y="397.4" font-size="5.3" text-anchor="end" font-family="'Liberation Serif','Times New Roman',serif" font-weight="normal" fill="#303030" stroke="#303030" stroke-width="0.06">0</text>
<line x1="26.6" y1="375.8" x2="28.4" y2="376.5" stroke="#3a3a3a" stroke-width="0.55"/>
<text x="24.6" y="377.3" font-size="5.3" text-anchor="end" font-family="'Liberation Serif','Times New Roman',serif" font-weight="normal" fill="#303030" stroke="#303030" stroke-width="0.06">1000</text>
<line x1="26.6" y1="355.6" x2="28.4" y2="356.3" stroke="#3a3a3a" stroke-width="0.55"/>
<text x="24.6" y="357.1" font-size="5.3" text-anchor="end" font-family="'Liberation Serif','Times New Roman',serif" font-weight="normal" fill="#303030" stroke="#303030" stroke-width="0.06">2000</text>
<line x1="26.6" y1="335.5" x2="28.4" y2="336.2" stroke="#3a3a3a" stroke-width="0.55"/>
<text x="24.6" y="337" font-size="5.3" text-anchor="end" font-family="'Liberation Serif','Times New Roman',serif" font-weight="normal" fill="#303030" stroke="#303030" stroke-width="0.06">3000</text>
<line x1="26.6" y1="315.3" x2="28.4" y2="316" stroke="#3a3a3a" stroke-width="0.55"/>
<text x="24.6" y="316.8" font-size="5.3" text-anchor="end" font-family="'Liberation Serif','Times New Roman',serif" font-weight="normal" fill="#303030" stroke="#303030" stroke-width="0.06">4000</text>
<polygon points="28.4,394.8 29,395 29.5,395.3 30.1,396.2 30.7,396.7 31.3,395.7 31.8,396.4 32.4,397.4 33,396.4 33.5,396.5 34.1,397.7 34.7,397.2 35.3,398.4 35.8,398.1 36.4,397.8 37,398.6 37.5,398.7 38.1,399.4 38.7,398.7 39.2,399.3 39.8,399.9 40.4,399.4 41,399.3 41.5,400.1 42.1,400.1 42.7,399.9 43.2,401.5 43.8,400.9 44.4,400.6 45,402 45.5,402.1 46.1,401.8 46.7,401.8 47.2,402.3 47.8,402.5 48.4,403.4 49,402.7 49.5,403.4 50.1,404 50.7,403 51.2,403.6 51.8,404.1 52.4,403.9 52.9,404.5 53.5,405.2 54.1,404.8 54.7,404.8 55.2,405 55.8,405.5 56.4,405.2 56.9,405.4 57.5,405.7 58.1,406.6 58.7,406.9 59.2,406.8 59.8,406.8 60.4,407.7 60.9,407.4 61.5,407.8 62.1,408.6 62.7,408.2 63.2,408.5 63.8,407.9 64.4,409.4 64.9,408.4 65.5,408.6 66.1,409.3 66.7,410 67.2,409.4 67.8,410.5 68.4,410.5 68.9,410.3 69.5,410.8 70.1,411 70.6,411.4 71.2,412 71.8,411.7 72.4,411.3 72.9,411.5 73.5,412.8 74.1,412.3 74.6,412.8 75.2,413 75.8,412.4 76.4,412.9 76.9,413.5 77.5,413.7 78.1,413.4 78.6,414.3 79.2,414 79.8,414.2 80.4,414.5 80.9,415 81.5,415 82.1,415 82.6,415.9 83.2,415.5 83.8,416.1 84.3,416.2 84.9,416.5 85.5,416.9 86.1,416.6 86.6,417.3 87.2,417.8 87.8,417.2 88.3,417.9 88.9,417.9 89.5,417.6 90.1,418.2 90.6,418.6 91.2,418.8 91.9,419 92.6,418.2 93.2,417.7 93.9,417.9 94.6,417.6 95.3,418 96,417.9 96.7,417.6 97.3,417.3 98,416.6 98.7,417 99.4,417.2 100.1,416.5 100.7,416.7 101.4,416 102.1,416.3 102.8,415.3 103.5,415.8 104.2,415.4 104.8,415.2 105.5,415.3 106.2,414.3 106.9,415.4 107.6,414.3 108.2,414.8 108.9,414.9 109.6,414.5 110.3,413.6 111,413.2 111.7,413.2 112.3,413.7 113,413.2 113.7,413.6 114.4,413 115.1,413 115.7,413.2 116.4,412.6 117.1,411.6 117.8,412 118.5,412.1 119.2,412.2 119.8,410.9 120.5,411.9 121.2,411.8 121.9,411.5 122.6,410.4 123.2,410 123.9,411 124.6,410.1 125.3,409.9 126,409.9 126.7,410.4 127.3,409.3 128,409.5 128.7,408.6 129.4,408.4 130.1,408.7 130.7,409.2 131.4,408.7 132.1,408.1 132.8,407.6 133.5,408.1 134.2,408 134.8,407.5 135.5,407 136.2,407.7 136.9,407 137.6,406.8 138.2,406.8 138.9,406.8 139.6,405.8 140.3,405.8 141,406.5 141.7,406.5 142.3,406 143,405.6 143.7,405.8 144.4,405.4 145.1,404.7 145.7,404.5 146.4,404.2 147.1,404 147.8,404.5 148.5,404.1 149.2,403.6 149.8,403.6 150.5,403.5 151.2,403 151.9,402.6 152.6,402.5 153.2,403.2 153.9,403.2 154.6,402.8 155.3,402 156,402.4 156.7,401.7 157.3,401.7 158,401 158.7,402 159.4,400.9 160.1,401.7 160.7,400.8 161.4,400.7 162.1,400.9 162.8,400.7 163.5,400.4 164.2,400.1 164.8,400.4 165.5,399.8 166.2,400.1 166.2,395.3 165.6,395.5 165.1,394.7 164.5,395.5 163.9,395.1 163.3,394.3 162.8,394.8 162.2,394 161.6,394.4 161.1,392.6 160.5,391.8 159.9,392.9 159.3,392.6 158.8,393.6 158.2,393.3 157.6,392.4 157.1,390.8 156.5,390 155.9,391.7 155.4,391.3 154.8,389.6 154.2,391.8 153.6,391.2 153.1,389.3 152.5,391 151.9,390.3 151.4,390 150.8,387.9 150.2,390.3 149.6,389.9 149.1,388.9 148.5,389 147.9,387.3 147.4,388 146.8,382.9 146.2,387.4 145.6,387.3 145.1,388.5 144.5,386.2 143.9,387.9 143.4,383.6 142.8,386.4 142.2,386.6 141.7,387.1 141.1,386.1 140.5,386.6 139.9,384.8 139.4,383.7 138.8,385.2 138.2,380.2 137.7,379.4 137.1,385 136.5,382.8 135.9,384.4 135.4,382.7 134.8,384.3 134.2,384.4 133.7,382.1 133.1,383.9 132.5,382.7 131.9,382.4 131.4,381.3 130.8,381.6 130.2,380.2 129.7,382.7 129.1,379.9 128.5,382.1 127.9,381 127.4,381.5 126.8,380.6 126.2,378.4 125.7,381.1 125.1,380.5 124.5,380.7 124,379.8 123.4,378.8 122.8,378.1 122.2,379.6 121.7,379.4 121.1,378.3 120.5,377.8 120,373.5 119.4,378.1 118.8,377.2 118.2,373.9 117.7,377.3 117.1,377.4 116.5,375.4 116,377.5 115.4,376.7 114.8,376.1 114.2,372 113.7,375.7 113.1,375.6 112.5,370.7 112,374.3 111.4,375.8 110.8,374 110.3,372 109.7,374.5 109.1,373.2 108.5,371.8 108,372.4 107.4,373.6 106.8,374.1 106.3,373.5 105.7,373.6 105.1,372.6 104.5,372.9 104,373 103.4,371.5 103.4,372.6 102.7,371.2 102,371.8 101.4,372.5 100.7,372.4 100,371.3 99.3,373.8 98.6,371.5 97.9,373.7 97.3,374.2 96.6,373.7 95.9,373.6 95.2,371.4 94.5,373.6 93.9,374.7 93.2,373.6 92.5,374.4 91.8,374.1 91.1,375.6 90.4,373.9 89.8,373.9 89.1,375.2 88.4,376.5 87.7,376.8 87,376.9 86.4,374 85.7,375.4 85,376.9 84.3,376.2 83.6,375.1 82.9,377.8 82.3,377.8 81.6,374.7 80.9,377 80.2,374.4 79.5,378.9 78.9,377.9 78.2,379.1 77.5,376 76.8,377.6 76.1,377.4 75.4,379.7 74.8,380.1 74.1,378.1 73.4,377.3 72.7,379.2 72,379.4 71.4,378.8 70.7,381.1 70,379.7 69.3,380.6 68.6,379.6 67.9,381.7 67.3,381.8 66.6,381.9 65.9,381.8 65.2,381.2 64.5,381.2 63.9,379.2 63.2,380.3 62.5,381.3 61.8,383.3 61.1,383.7 60.4,381.8 59.8,383.2 59.1,380.2 58.4,379.5 57.7,383.6 57,383.1 56.4,383.9 55.7,384.3 55,383.8 54.3,384.2 53.6,382.9 52.9,384.6 52.3,385.6 51.6,384.5 50.9,385.3 50.2,386.4 49.5,384.5 48.9,385.6 48.2,387 47.5,386.1 46.8,387.1 46.1,384.7 45.4,386 44.8,386.7 44.1,386.9 43.4,387.1 42.7,387.4 42,387.8 41.4,386.1 40.7,387.1 40,388.7 39.3,387.7 38.6,387.9 37.9,388.7 37.3,387 36.6,387.2 35.9,389.8 35.2,390.2 34.5,389.8 33.9,387.8 33.2,387.6 32.5,389.7 31.8,390 31.1,387.9 30.4,391.2 29.8,391.6 29.1,391.8 28.4,389.9" fill="#4530d8" stroke="#4530d8" stroke-width="0.3" stroke-linejoin="round" filter="url(#sf)"/>
<line x1="91.2" y1="420.2" x2="28.4" y2="396.6" stroke="#6e6e60" stroke-width="0.8"/>
<line x1="91.2" y1="420.2" x2="166.2" y2="400.9" stroke="#6e6e60" stroke-width="0.8"/>
<defs><linearGradient id="pk579" x1="0" y1="0" x2="0" y2="1"><stop offset="0" stop-color="#d8c040"/><stop offset="0.3" stop-color="#c0c850"/><stop offset="0.32" stop-color="#2a9ee0"/><stop offset="0.8" stop-color="#2070f0"/><stop offset="1" stop-color="#3a48e0"/></linearGradient></defs>
<rect x="57.2" y="323.5" width="1.3" height="68.5" fill="url(#pk579)"/>
<rect x="59.6" y="324.7" width="19" height="20.3" fill="#fff" fill-opacity="0.9" stroke="#d0d0d0" stroke-width="0.4"/>
<text x="60.8" y="331.2" font-size="5.2" text-anchor="start" font-family="'Liberation Serif','Times New Roman',serif" font-weight="normal" fill="#222" stroke="#222" stroke-width="0.06">X 100</text>
<text x="60.8" y="337.6" font-size="5.2" text-anchor="start" font-family="'Liberation Serif','Times New Roman',serif" font-weight="normal" fill="#222" stroke="#222" stroke-width="0.06">Y 214</text>
<text x="60.8" y="343.8" font-size="5.2" text-anchor="start" font-family="'Liberation Serif','Times New Roman',serif" font-weight="normal" fill="#222" stroke="#222" stroke-width="0.06">Z 3565</text>
<circle cx="57.9" cy="323.5" r="0.9" fill="#111"/>
<text x="34.5" y="408.7" font-size="5.3" text-anchor="middle" font-family="'Liberation Serif','Times New Roman',serif" font-weight="normal" fill="#303030" stroke="#303030" stroke-width="0.06">200</text>
<text x="58.7" y="417.3" font-size="5.3" text-anchor="middle" font-family="'Liberation Serif','Times New Roman',serif" font-weight="normal" fill="#303030" stroke="#303030" stroke-width="0.06">100</text>
<text x="85.8" y="426.5" font-size="5.3" text-anchor="middle" font-family="'Liberation Serif','Times New Roman',serif" font-weight="normal" fill="#303030" stroke="#303030" stroke-width="0.06">0</text>
<text x="96.2" y="426.5" font-size="5.3" text-anchor="middle" font-family="'Liberation Serif','Times New Roman',serif" font-weight="normal" fill="#303030" stroke="#303030" stroke-width="0.06">0</text>
<text x="118.7" y="421.8" font-size="5.3" text-anchor="middle" font-family="'Liberation Serif','Times New Roman',serif" font-weight="normal" fill="#303030" stroke="#303030" stroke-width="0.06">100</text>
<text x="136.8" y="417" font-size="5.3" text-anchor="middle" font-family="'Liberation Serif','Times New Roman',serif" font-weight="normal" fill="#303030" stroke="#303030" stroke-width="0.06">200</text>
<text x="155.8" y="412.3" font-size="5.3" text-anchor="middle" font-family="'Liberation Serif','Times New Roman',serif" font-weight="normal" fill="#303030" stroke="#303030" stroke-width="0.06">300</text>
<text x="51" y="423.5" font-size="5.4" text-anchor="middle" font-family="'Liberation Serif','Times New Roman',serif" font-weight="normal" fill="#303030" stroke="#303030" stroke-width="0.06">Doppler frequency cell</text>
<text x="139.4" y="429.2" font-size="5.4" text-anchor="middle" font-family="'Liberation Serif','Times New Roman',serif" font-weight="normal" fill="#303030" stroke="#303030" stroke-width="0.06">Range cell</text>
<text x="7.8" y="358.8" font-size="5.4" text-anchor="middle" font-family="'Liberation Serif','Times New Roman',serif" font-weight="normal" fill="#303030" stroke="#303030" stroke-width="0.06" transform="rotate(-90 7.8 357)">Amplitude</text>
<text x="88.1" y="442.2" font-size="11" text-anchor="middle" font-family="'Liberation Serif','Times New Roman',serif" font-weight="bold" fill="#303030" stroke="#303030" stroke-width="0.18">(g)</text>
<polyline points="206.4,371.9 294.3,347.5 361.4,380.2" fill="none" stroke="#d2d2d2" stroke-width="0.45"/>
<polyline points="206.4,354.8 294.3,330.4 361.4,363.1" fill="none" stroke="#d2d2d2" stroke-width="0.45"/>
<polyline points="206.4,337.7 294.3,313.3 361.4,346" fill="none" stroke="#d2d2d2" stroke-width="0.45"/>
<polyline points="206.4,320.6 294.3,296.2 361.4,328.9" fill="none" stroke="#d2d2d2" stroke-width="0.45"/>
<line x1="228.4" y1="382.9" x2="228.4" y2="314.5" stroke="#d2d2d2" stroke-width="0.45"/>
<line x1="250.3" y1="376.8" x2="250.3" y2="308.4" stroke="#d2d2d2" stroke-width="0.45"/>
<line x1="272.3" y1="370.7" x2="272.3" y2="302.3" stroke="#d2d2d2" stroke-width="0.45"/>
<line x1="361.4" y1="397.3" x2="361.4" y2="328.9" stroke="#d2d2d2" stroke-width="0.45"/>
<line x1="335.2" y1="384.5" x2="335.2" y2="316.1" stroke="#d2d2d2" stroke-width="0.45"/>
<line x1="309.1" y1="371.8" x2="309.1" y2="303.4" stroke="#d2d2d2" stroke-width="0.45"/>
<line x1="295.5" y1="415.6" x2="228.4" y2="382.9" stroke="#d2d2d2" stroke-width="0.45"/>
<line x1="317.4" y1="409.5" x2="250.3" y2="376.8" stroke="#d2d2d2" stroke-width="0.45"/>
<line x1="339.4" y1="403.4" x2="272.3" y2="370.7" stroke="#d2d2d2" stroke-width="0.45"/>
<line x1="273.5" y1="421.7" x2="361.4" y2="397.3" stroke="#d2d2d2" stroke-width="0.45"/>
<line x1="247.3" y1="408.9" x2="335.2" y2="384.5" stroke="#d2d2d2" stroke-width="0.45"/>
<line x1="221.2" y1="396.2" x2="309.1" y2="371.8" stroke="#d2d2d2" stroke-width="0.45"/>
<line x1="206.4" y1="389" x2="206.4" y2="320.6" stroke="#3a3a3a" stroke-width="0.75"/>
<line x1="204.6" y1="388.3" x2="206.4" y2="389" stroke="#3a3a3a" stroke-width="0.55"/>
<text x="202.7" y="389.8" font-size="5.3" text-anchor="end" font-family="'Liberation Serif','Times New Roman',serif" font-weight="normal" fill="#303030" stroke="#303030" stroke-width="0.06">0</text>
<line x1="204.6" y1="371.2" x2="206.4" y2="371.9" stroke="#3a3a3a" stroke-width="0.55"/>
<text x="202.7" y="372.7" font-size="5.3" text-anchor="end" font-family="'Liberation Serif','Times New Roman',serif" font-weight="normal" fill="#303030" stroke="#303030" stroke-width="0.06">1000</text>
<line x1="204.6" y1="354.1" x2="206.4" y2="354.8" stroke="#3a3a3a" stroke-width="0.55"/>
<text x="202.7" y="355.6" font-size="5.3" text-anchor="end" font-family="'Liberation Serif','Times New Roman',serif" font-weight="normal" fill="#303030" stroke="#303030" stroke-width="0.06">2000</text>
<line x1="204.6" y1="337" x2="206.4" y2="337.7" stroke="#3a3a3a" stroke-width="0.55"/>
<text x="202.7" y="338.5" font-size="5.3" text-anchor="end" font-family="'Liberation Serif','Times New Roman',serif" font-weight="normal" fill="#303030" stroke="#303030" stroke-width="0.06">3000</text>
<line x1="204.6" y1="319.9" x2="206.4" y2="320.6" stroke="#3a3a3a" stroke-width="0.55"/>
<text x="202.7" y="321.4" font-size="5.3" text-anchor="end" font-family="'Liberation Serif','Times New Roman',serif" font-weight="normal" fill="#303030" stroke="#303030" stroke-width="0.06">4000</text>
<polygon points="206.4,387.4 207,388.3 207.6,388.2 208.2,388.3 208.8,388.8 209.4,389.2 210.1,389.3 210.7,389.6 211.3,390.2 211.9,390.4 212.5,390.5 213.1,391.6 213.7,391.2 214.3,391.4 214.9,392.1 215.6,392.3 216.2,392.9 216.8,392.7 217.4,392.6 218,393.7 218.6,393.8 219.2,393.6 219.8,394.3 220.4,394.7 221,394.7 221.7,395.8 222.3,395.9 222.9,395.4 223.5,396.5 224.1,397 224.7,396.2 225.3,396.7 225.9,396.7 226.5,397.3 227.1,397.4 227.8,398.4 228.4,398.2 229,399.2 229.6,398.7 230.2,399.1 230.8,400.1 231.4,400.4 232,400.7 232.6,400.2 233.2,400.7 233.9,401.4 234.5,401.3 235.1,401.5 235.7,401.8 236.3,401.8 236.9,402.2 237.5,403 238.1,403.8 238.7,403.9 239.3,404.4 239.9,403.8 240.6,404.1 241.2,405.1 241.8,404.5 242.4,405.6 243,405.7 243.6,405.8 244.2,405.6 244.8,406.1 245.4,407.3 246.1,406.7 246.7,407.8 247.3,407.4 247.9,407.8 248.5,408.7 249.1,409.1 249.7,408.4 250.3,409.8 250.9,409.9 251.5,409.2 252.2,409.9 252.8,410.3 253.4,410.7 254,410.9 254.6,411.3 255.2,412.1 255.8,412.2 256.4,412.4 257,412.5 257.6,412.9 258.2,412.8 258.9,413 259.5,413.3 260.1,414 260.7,414.4 261.3,415.1 261.9,415 262.5,414.8 263.1,415.6 263.7,416 264.4,416.4 265,416.2 265.6,416.6 266.2,417.5 266.8,417.5 267.4,418 268,418.2 268.6,418.4 269.2,418.9 269.8,418.1 270.4,418.9 271.1,419.8 271.7,419.6 272.3,420 272.9,420.6 273.5,420.9 274.3,420.4 275.1,420 275.9,420.3 276.7,419.1 277.5,419.4 278.3,419.7 279.1,418.7 279.9,418.2 280.7,419.1 281.5,418.1 282.3,417.7 283.1,417.9 283.9,418.1 284.7,417.1 285.5,417.4 286.3,417.2 287.1,416.4 287.9,417.1 288.7,416.6 289.5,415.6 290.3,416.3 291.1,416.1 291.9,415.9 292.7,415.2 293.5,415.1 294.3,414.7 295.1,414 295.9,414.6 296.7,413.7 297.5,413.7 298.3,413.5 299.1,414 299.9,413.7 300.7,413.4 301.5,412.8 302.3,412.7 303.1,412.5 303.9,411.6 304.7,411.8 305.5,411.8 306.3,411.3 307.1,410.7 307.9,411.3 308.7,410.9 309.5,410.9 310.3,410.3 311.1,410.5 311.9,410 312.7,409 313.5,408.9 314.3,409.8 315.1,409.1 315.9,408.4 316.7,408.1 317.4,408.5 318.2,407.9 319,407.5 319.8,407.8 320.6,407.9 321.4,406.8 322.2,406.7 323,406.7 323.8,406.2 324.6,405.7 325.4,406.4 326.2,406.5 327,405.5 327.8,405.8 328.6,404.8 329.4,404.7 330.2,404.8 331,404.2 331.8,403.8 332.6,403.8 333.4,404.1 334.2,403.7 335,403.9 335.8,403 336.6,403.2 337.4,403.2 338.2,402.9 339,402.5 339.8,401.7 340.6,402.4 341.4,402 342.2,401.7 343,400.8 343.8,401.4 344.6,400.2 345.4,400.2 346.2,400.4 347,399.9 347.8,399.7 348.6,399.3 349.4,399.7 350.2,398.8 351,398.7 351.8,399.2 352.6,399.1 353.4,398.1 354.2,397.7 355,397.7 355.8,397.3 356.6,398 357.4,396.7 358.2,397.1 359,396.9 359.8,396.2 360.6,396.2 361.4,396.2 361.4,393.2 360.8,390.2 360.2,391.3 359.6,391.2 359,389.5 358.3,391.8 357.7,389.5 357.1,390.1 356.5,389.3 355.9,388.2 355.3,389 354.7,389.8 354.1,388.9 353.5,389.2 352.9,388.6 352.2,386.7 351.6,386.7 351,386.5 350.4,387.9 349.8,384.9 349.2,386.3 348.6,385.9 348,386.4 347.4,385.5 346.8,385.5 346.1,384.6 345.5,385.4 344.9,383.5 344.3,382.9 343.7,384.4 343.1,381.9 342.5,384 341.9,381.4 341.3,380 340.7,382.2 340,381.2 339.4,381.2 338.8,380.7 338.2,380 337.6,380.5 337,380.8 336.4,379.7 335.8,379.9 335.2,378 334.6,379.2 333.9,379.6 333.3,377.8 332.7,378.7 332.1,377.6 331.5,378.1 330.9,377.1 330.3,376 329.7,375.5 329.1,375.3 328.5,375.7 327.8,375.7 327.2,376.5 326.6,375.7 326,375.9 325.4,374.6 324.8,374.9 324.2,374.8 323.6,372.9 323,373.5 322.4,373.1 321.8,371.6 321.1,373.3 320.5,373.1 319.9,372.5 319.3,371.8 318.7,368.6 318.1,369.1 317.5,371.1 316.9,371.4 316.3,370.4 315.6,370.1 315,370.1 314.4,369.7 313.8,368.8 313.2,366.3 312.6,367.5 312,368.8 311.4,368.2 310.8,367.4 310.2,367.3 309.5,366.3 308.9,367.6 308.3,366.3 307.7,365.8 307.1,365.9 306.5,365.7 305.9,363.9 305.3,365.7 304.7,364.6 304.1,364.2 303.4,363.5 302.8,364.4 302.2,364 301.6,363.7 301,363.5 300.4,362.9 299.8,359.6 299.2,362.5 298.6,362.6 298,360.4 297.3,360.4 296.7,360.1 296.1,359.3 295.5,361 294.9,359.6 294.3,358.1 294.3,359.7 293.5,359.5 292.7,360.9 291.9,361.1 291.1,359.4 290.3,360 289.5,360 288.7,362.1 287.9,362.1 287.1,361.7 286.3,362.6 285.5,361.1 284.7,363.2 283.9,361.8 283.1,362.2 282.3,363.8 281.5,362 280.7,361.6 279.9,362.9 279.1,364.8 278.3,362.9 277.5,362.7 276.7,365.1 275.9,365.2 275.1,365.5 274.3,365.8 273.5,365.6 272.7,365.1 271.9,363.2 271.1,364.8 270.3,364.8 269.5,364.2 268.7,366.1 267.9,365.5 267.1,366.3 266.3,366 265.5,366.7 264.7,366.7 263.9,367 263.1,369.2 262.3,367.7 261.5,369.7 260.7,367.7 259.9,369.6 259.1,369.4 258.3,368.4 257.5,369.1 256.7,369.4 255.9,369.1 255.1,371.1 254.3,369.1 253.5,370.6 252.7,372.1 251.9,371.9 251.1,372.4 250.3,371.7 249.6,371.5 248.8,372.3 248,373.4 247.2,372.7 246.4,371.6 245.6,373.1 244.8,372.6 244,373.4 243.2,373.7 242.4,372.6 241.6,375 240.8,373.4 240,375.7 239.2,375.8 238.4,374 237.6,373.9 236.8,376.2 236,376.7 235.2,374.6 234.4,373.1 233.6,377.4 232.8,376 232,377.5 231.2,375.7 230.4,378.3 229.6,377.2 228.8,376.7 228,377.9 227.2,377.7 226.4,378.7 225.6,378.1 224.8,379.6 224,379.2 223.2,378.1 222.4,378.7 221.6,379.3 220.8,378.7 220,380.4 219.2,379.6 218.4,380.3 217.6,379.8 216.8,381.6 216,380.2 215.2,380.3 214.4,381.2 213.6,381.8 212.8,381.8 212,381.4 211.2,381.5 210.4,383.9 209.6,383 208.8,383.8 208,382.8 207.2,384 206.4,382.6" fill="#4530d8" stroke="#4530d8" stroke-width="0.3" stroke-linejoin="round" filter="url(#sf)"/>
<line x1="273.5" y1="421.7" x2="206.4" y2="389" stroke="#6e6e60" stroke-width="0.8"/>
<line x1="273.5" y1="421.7" x2="361.4" y2="397.3" stroke="#6e6e60" stroke-width="0.8"/>
<defs><linearGradient id="pk2491" x1="0" y1="0" x2="0" y2="1"><stop offset="0" stop-color="#d8c838"/><stop offset="0.04" stop-color="#2a98e4"/><stop offset="0.5" stop-color="#2280ee"/><stop offset="0.85" stop-color="#2468ee"/><stop offset="1" stop-color="#3a48e0"/></linearGradient></defs>
<rect x="248.4" y="335.6" width="1.3" height="52.4" fill="url(#pk2491)"/>
<rect x="250" y="313.1" width="19" height="21.6" fill="#fff" fill-opacity="0.9" stroke="#d0d0d0" stroke-width="0.4"/>
<text x="251.7" y="319.2" font-size="5.2" text-anchor="start" font-family="'Liberation Serif','Times New Roman',serif" font-weight="normal" fill="#222" stroke="#222" stroke-width="0.06">X 102</text>
<text x="251.7" y="325.5" font-size="5.2" text-anchor="start" font-family="'Liberation Serif','Times New Roman',serif" font-weight="normal" fill="#222" stroke="#222" stroke-width="0.06">Y 180</text>
<text x="251.7" y="332.1" font-size="5.2" text-anchor="start" font-family="'Liberation Serif','Times New Roman',serif" font-weight="normal" fill="#222" stroke="#222" stroke-width="0.06">Z 3347</text>
<circle cx="249.1" cy="335.6" r="0.9" fill="#111"/>
<text x="212.8" y="403.7" font-size="5.3" text-anchor="middle" font-family="'Liberation Serif','Times New Roman',serif" font-weight="normal" fill="#303030" stroke="#303030" stroke-width="0.06">200</text>
<text x="239.6" y="416.1" font-size="5.3" text-anchor="middle" font-family="'Liberation Serif','Times New Roman',serif" font-weight="normal" fill="#303030" stroke="#303030" stroke-width="0.06">100</text>
<text x="268.1" y="428.2" font-size="5.3" text-anchor="middle" font-family="'Liberation Serif','Times New Roman',serif" font-weight="normal" fill="#303030" stroke="#303030" stroke-width="0.06">0</text>
<text x="278.6" y="429" font-size="5.3" text-anchor="middle" font-family="'Liberation Serif','Times New Roman',serif" font-weight="normal" fill="#303030" stroke="#303030" stroke-width="0.06">0</text>
<text x="304.1" y="422.6" font-size="5.3" text-anchor="middle" font-family="'Liberation Serif','Times New Roman',serif" font-weight="normal" fill="#303030" stroke="#303030" stroke-width="0.06">100</text>
<text x="325.9" y="416.2" font-size="5.3" text-anchor="middle" font-family="'Liberation Serif','Times New Roman',serif" font-weight="normal" fill="#303030" stroke="#303030" stroke-width="0.06">200</text>
<text x="347.7" y="410.4" font-size="5.3" text-anchor="middle" font-family="'Liberation Serif','Times New Roman',serif" font-weight="normal" fill="#303030" stroke="#303030" stroke-width="0.06">300</text>
<text x="228.4" y="423.6" font-size="5.4" text-anchor="middle" font-family="'Liberation Serif','Times New Roman',serif" font-weight="normal" fill="#303030" stroke="#303030" stroke-width="0.06">Doppler frequency cell</text>
<text x="325" y="430" font-size="5.4" text-anchor="middle" font-family="'Liberation Serif','Times New Roman',serif" font-weight="normal" fill="#303030" stroke="#303030" stroke-width="0.06">Range cell</text>
<text x="186.3" y="357" font-size="5.4" text-anchor="middle" font-family="'Liberation Serif','Times New Roman',serif" font-weight="normal" fill="#303030" stroke="#303030" stroke-width="0.06" transform="rotate(-90 186.3 355.2)">Amplitude</text>
<text x="270.8" y="442.8" font-size="11" text-anchor="middle" font-family="'Liberation Serif','Times New Roman',serif" font-weight="bold" fill="#303030" stroke="#303030" stroke-width="0.18">(h)</text>
<polyline points="205.5,82.8 285.4,57.8 348.4,87.4" fill="none" stroke="#d2d2d2" stroke-width="0.45"/>
<polyline points="205.5,66.2 285.4,41.2 348.4,70.8" fill="none" stroke="#d2d2d2" stroke-width="0.45"/>
<polyline points="205.5,49.6 285.4,24.6 348.4,54.2" fill="none" stroke="#d2d2d2" stroke-width="0.45"/>
<polyline points="205.5,33 285.4,8 348.4,37.6" fill="none" stroke="#d2d2d2" stroke-width="0.45"/>
<line x1="221.5" y1="91.2" x2="221.5" y2="28" stroke="#d2d2d2" stroke-width="0.45"/>
<line x1="237.5" y1="86.2" x2="237.5" y2="23" stroke="#d2d2d2" stroke-width="0.45"/>
<line x1="253.4" y1="81.2" x2="253.4" y2="18" stroke="#d2d2d2" stroke-width="0.45"/>
<line x1="269.4" y1="76.2" x2="269.4" y2="13" stroke="#d2d2d2" stroke-width="0.45"/>
<line x1="335.7" y1="94.8" x2="335.7" y2="31.6" stroke="#d2d2d2" stroke-width="0.45"/>
<line x1="318.9" y1="86.9" x2="318.9" y2="23.7" stroke="#d2d2d2" stroke-width="0.45"/>
<line x1="302.2" y1="79.1" x2="302.2" y2="15.9" stroke="#d2d2d2" stroke-width="0.45"/>
<line x1="285.4" y1="71.2" x2="285.4" y2="8" stroke="#d2d2d2" stroke-width="0.45"/>
<line x1="284.5" y1="120.8" x2="221.5" y2="91.2" stroke="#d2d2d2" stroke-width="0.45"/>
<line x1="300.5" y1="115.8" x2="237.5" y2="86.2" stroke="#d2d2d2" stroke-width="0.45"/>
<line x1="316.4" y1="110.8" x2="253.4" y2="81.2" stroke="#d2d2d2" stroke-width="0.45"/>
<line x1="332.4" y1="105.8" x2="269.4" y2="76.2" stroke="#d2d2d2" stroke-width="0.45"/>
<line x1="255.8" y1="119.8" x2="335.7" y2="94.8" stroke="#d2d2d2" stroke-width="0.45"/>
<line x1="239" y1="111.9" x2="318.9" y2="86.9" stroke="#d2d2d2" stroke-width="0.45"/>
<line x1="222.3" y1="104.1" x2="302.2" y2="79.1" stroke="#d2d2d2" stroke-width="0.45"/>
<line x1="205.5" y1="96.2" x2="285.4" y2="71.2" stroke="#d2d2d2" stroke-width="0.45"/>
<line x1="205.5" y1="92.8" x2="205.5" y2="32.5" stroke="#3a3a3a" stroke-width="0.85"/>
<line x1="203.9" y1="83.4" x2="205.5" y2="82.8" stroke="#3a3a3a" stroke-width="0.5"/>
<text x="201.9" y="83.8" font-size="5.3" text-anchor="end" font-family="'Liberation Serif','Times New Roman',serif" font-weight="normal" fill="#303030" stroke="#303030" stroke-width="0.06">1000</text>
<line x1="203.9" y1="66.8" x2="205.5" y2="66.2" stroke="#3a3a3a" stroke-width="0.5"/>
<text x="201.9" y="67.2" font-size="5.3" text-anchor="end" font-family="'Liberation Serif','Times New Roman',serif" font-weight="normal" fill="#303030" stroke="#303030" stroke-width="0.06">2000</text>
<line x1="203.9" y1="50.2" x2="205.5" y2="49.6" stroke="#3a3a3a" stroke-width="0.5"/>
<text x="201.9" y="50.6" font-size="5.3" text-anchor="end" font-family="'Liberation Serif','Times New Roman',serif" font-weight="normal" fill="#303030" stroke="#303030" stroke-width="0.06">3000</text>
<line x1="203.9" y1="33.6" x2="205.5" y2="33" stroke="#3a3a3a" stroke-width="0.5"/>
<text x="201.9" y="34" font-size="5.3" text-anchor="end" font-family="'Liberation Serif','Times New Roman',serif" font-weight="normal" fill="#303030" stroke="#303030" stroke-width="0.06">4000</text>
<path d="M205.5 89.9l.9 2.3 .9 .5 .9-1.5 .9 1.6 .9-.2 .9-1.1 .9-1.2 .9 1.5 .9 .4 .9-1.3 .9-.4 .9-2.5 .9 3.5 .9-3.3 .9 .4 .9-.2 .9 .3 .9 .8 .9-1.1 .9-1.3 .9 2 .9-.8 .8-.1 .9-3.6 .9 3.2 .9 .1 .9-1.2 .9-.3 .9-.3 .9-.2 .9-.1 .9-1.5 .9 .3 .9 .3 .9-1.4 .9-2.2 .9 3.4 .9-1.3 .9-1.7 .9 .3 .9 .3 .9 .3 .9-.1 .9-1.3 .9 1 .9-.7 .9-1.7 .9 1.9 .9-1.9 .9 .8 .9-5.7 .9 5.6 .9-.5 .9-.7 .9-1 .9-2.7 .9 2.3 .9-4.1 .9 4.5 .9-2.6 .9 2 .9-1.1 .9 .7 .9-2.9 .9 2.3 .9-4 .8-.4 .9 2.5 .9 .5 .9-2.9 .9-.5 .9 2.1 .9-.7 .9-.3 .9-.2 .9-.8 .9-.5 .9 1 .9 0 .9-1.6 .9-2.2 .9 2.8 .9 .4 .9-1.3 .9-.2 .9-2 .9 2.3 .9-.5 .9-3.6 3.3 4.4 -.9-1.8 -.9 1.9 -.9 1.1 -.9-4.6 -.9 5.6 -.9-1.4 -.9-.3 -.9-.2 -.9-1.7 -.9 2.7 -.9 .9 -.9-2.6 -.9 4.3 -.9 .4 -.9-1.3 -.8-1.6 -.9 4.1 -.9 .2 -.9-1.1 -.9 .9 -.9-1.4 -.9 1.8 -.9 1.1 -.9-2 -.9 2.8 -.9-0 -.9-1.4 -.9 1.6 -.9-.7 -.9-.7 -.9-.6 -.9 2.4 -.9-.8 -.9 .7 -.9 2.1 -.9-2.9 -.9 1.1 -.9 1.2 -.9 1 -.9-2.9 -.9 3.7 -.9-1.4 -.9-1 -.9 2.8 -.9 .4 -.9-.2 -.9-.3 -.9-.2 -.9 2.1 -.9-.5 -.9-.8 -.9 1.9 -.9-1.8 -.9-1.1 -.9 .7 -.9 1.3 -.9 2.2 -.9-1.8 -.9 2 -.8 1.3 -.9-1.5 -.9-.5 -.9 .5 -.9-.2 -.9 .6 -.9 1.5 -.9 1.6 -.9-.7 -.9-1.8 -.9 2.1 -.9 .2 -.9 1.6 -.9-1.6 -.9 .1 -.9-.7 -.9 2.3 -.9-.1 -.9 0 -.9 .5 -.9 1.5 -.9-.6 -.9-.2 -.9 1.1 -.9 1.1 -.9-.6 -.9 .6 -.9-.9 -.9-.2 -.9 1.6z" fill="#fff"/>
<path d="M208.8 95.5l-3.3-5.6M209.7 93.9l-3.3-1.7M210.6 94.1l-3.3-1.4M211.5 95l-3.3-3.8M212.4 94.4l-3.3-1.5M213.3 95l-3.3-2.4M214.2 94l-3.3-2.4M215.1 92.9l-3.3-2.5M216 93l-3.3-1.2M216.9 93.6l-3.3-1.4M217.8 92.2l-3.3-1.2M218.7 91.7l-3.3-1.1M219.6 91.6l-3.3-3.6M220.5 91.8l-3.3-.3M221.4 89.5l-3.3-1.2M222.3 90.2l-3.3-1.5M223.2 90l-3.3-1.5M224.1 91.6l-3.3-2.9M225 90l-3.3-.4M225.9 89.9l-3.3-1.4M226.8 87.7l-3.3-.5M227.7 89.5l-3.3-.4M228.6 90.2l-3.3-1.9M229.5 88.6l-3.3-.4M230.4 87.2l-3.3-2.6M231.3 86.5l-3.3 1.4M232.2 86.7l-3.3 1.1M233.1 86.2l-3.3 .5M234 86.7l-3.3-.3M234.9 88.3l-3.3-2.1M235.7 86.9l-3.3-1M236.6 84.9l-3.3 .8M237.5 86.7l-3.3-2.4M238.4 84.5l-3.3 .2M239.3 83.2l-3.3 1.7M240.2 82.6l-3.3 1M241.1 83.6l-3.3-2.3M242 85.5l-3.3-.7M242.9 83.5l-3.3-0M243.8 84.4l-3.3-2.7M244.7 84.9l-3.3-2.8M245.6 82.7l-3.3-.4M246.5 82.9l-3.3-.3M247.4 83.2l-3.3-.7M248.3 83.4l-3.3-2.2M249.2 83l-3.3-.8M250.1 80.2l-3.3 1.3M251 81.2l-3.3-1.4M251.9 82.6l-3.3-.9M252.8 78.9l-3.3 .9M253.7 81.8l-3.3-1.1M254.6 80.8l-3.3-5.9M255.5 79.6l-3.3 .9M256.4 78.5l-3.3 1.5M257.3 81.4l-3.3-2M258.2 79.3l-3.3-1M259.1 78.6l-3.3-3M260 79.4l-3.3-1.5M260.9 77l-3.3-3.2M261.8 77.7l-3.3 .7M262.7 78.3l-3.3-2.6M263.6 79l-3.3-1.3M264.5 77.5l-3.3-.9M265.4 78.8l-3.3-1.5M266.3 78.8l-3.3-4.4M267.2 76l-3.3 .8M268.1 78.1l-3.3-5.3M269 76.9l-3.3-4.5M269.9 75.1l-3.3-.3M270.8 76.5l-3.3-1.2M271.7 75.6l-3.3-3.2M272.6 76.7l-3.3-4.8M273.5 76.6l-3.3-2.5M274.4 72.4l-3.3 .9M275.2 74l-3.3-1M276.1 75.3l-3.3-2.5M277 74.9l-3.3-3M277.9 70.7l-3.3 .9M278.8 73.2l-3.3-.7M279.7 72.3l-3.3 .2M280.6 69.6l-3.3 1.3M281.5 71.3l-3.3-2.6M282.4 71.6l-3.3-0M283.3 71.8l-3.3 .1M284.2 73.2l-3.3-2.6M285.1 67.6l-3.3 2.8M286 72.2l-3.3-3.9M286.9 71.1l-3.3-.4M287.8 69.2l-3.3 .9M288.7 71l-3.3-4.4M205.5 89.9l.9 2.3M206.4 92.2l.9 .5M207.3 92.7l.9-1.5M208.2 91.2l.9 1.7M209.1 92.8l.9-.2M210 92.6l.9-1.1M210.9 91.5l.9-1.2M211.8 90.4l.9 1.4M212.7 91.8l.9 .4M213.6 92.2l.9-1.2M214.5 90.9l.9-.4M215.4 90.6l.9-2.6M216.3 88l.9 3.5M217.2 91.5l.9-3.2M218.1 88.3l.9 .4M219 88.6l.9-.2M219.9 88.5l.9 .2M220.8 88.7l.9 .9M221.7 89.6l.9-1.1M222.6 88.4l.9-1.3M223.5 87.2l.9 1.9M224.4 89.1l.9-.8M225.3 88.3l.9-.1M226.1 88.2l.9-3.6M227 84.6l.9 3.3M227.9 87.9l.9 0M228.8 87.9l.9-1.2M229.7 86.7l.9-.3M230.6 86.4l.9-.2M231.5 86.1l.9-.2M232.4 85.9l.9-.1M233.3 85.8l.9-1.5M234.2 84.3l.9 .4M235.1 84.7l.9 .2M236 84.9l.9-1.4M236.9 83.5l.9-2.2M237.8 81.3l.9 3.5M238.7 84.8l.9-1.3M239.6 83.4l.9-1.7M240.5 81.7l.9 .4M241.4 82.1l.9 .3M242.3 82.3l.9 .3M243.2 82.6l.9-.1M244.1 82.5l.9-1.3M245 81.2l.9 1M245.9 82.2l.9-.7M246.8 81.5l.9-1.7M247.7 79.9l.9 1.9M248.6 81.7l.9-2M249.5 79.8l.9 .9M250.4 80.7l.9-5.8M251.3 74.9l.9 5.6M252.2 80.5l.9-.5M253.1 80l.9-.7M254 79.4l.9-1.1M254.9 78.3l.9-2.7M255.8 75.6l.9 2.3M256.7 77.9l.9-4.1M257.6 73.8l.9 4.5M258.5 78.3l.9-2.6M259.4 75.7l.9 2.1M260.3 77.8l.9-1.1M261.2 76.6l.9 .7M262.1 77.3l.9-2.9M263 74.4l.9 2.4M263.9 76.8l.9-4M264.8 72.8l.9-.4M265.6 72.4l.9 2.4M266.5 74.8l.9 .5M267.4 75.3l.9-2.9M268.3 72.4l.9-.5M269.2 71.9l.9 2.2M270.1 74.1l.9-.8M271 73.3l.9-.3M271.9 73l.9-.2M272.8 72.9l.9-.9M273.7 72l.9-.4M274.6 71.5l.9 1M275.5 72.5l.9 .1M276.4 72.6l.9-1.6M277.3 70.9l.9-2.2M278.2 68.7l.9 2.8M279.1 71.5l.9 .4M280 71.9l.9-1.3M280.9 70.6l.9-.2M281.8 70.4l.9-2M282.7 68.4l.9 2.4M283.6 70.7l.9-.6M284.5 70.2l.9-3.5" stroke="#3834dc" stroke-width="0.85" fill="none"/>
<path d="M208.8 95.5l.9-1.6 .9 .2 .9 .9 .9-.6 .9 .6 .9-1.1 .9-1 .9 .1 .9 .6 .9-1.5 .9-.4 .9-.1 .9 .2 .9-2.3 .9 .6 .9-.1 .9 1.6 .9-1.6 .9-.1 .9-2.2 .9 1.8 .9 .7 .8-1.6 .9-1.4 .9-.7 .9 .2 .9-.5 .9 .5 .9 1.6 .9-1.4 .9-2 .9 1.8 .9-2.2 .9-1.3 .9-.6 .9 1 .9 1.8 .9-1.9 .9 .8 .9 .6 .9-2.2 .9 .2 .9 .3 .9 .2 .9-.4 .9-2.8 .9 1 .9 1.4 .9-3.7 .9 2.9 .9-1 .9-1.2 .9-1.1 .9 2.9 .9-2.1 .9-.7 .9 .8 .9-2.4 .9 .6 .9 .7 .9 .7 .9-1.5 .9 1.3 .9 0 .9-2.8 .9 2 .8-1.1 .9-1.8 .9 1.4 .9-.9 .9 1.1 .9-.2 .9-4.1 .9 1.6 .9 1.3 .9-.4 .9-4.2 .9 2.5 .9-.9 .9-2.7 .9 1.7 .9 .2 .9 .3 .9 1.4 .9-5.6 .9 4.6 .9-1.1 .9-1.9 .9 1.8 3.3 .5 -.9-1.6 -.9 3.8 -.9 .2 -.9 .2 -.9-1.3 -.9 2.1 -.9-4.3 -.9 4.5 -.9 .2 -.9-3.3 -.9 1.9 -.9 1.7 -.9-.9 -.9 2.2 -.9-1.6 -.8 2.3 -.9-1.5 -.9 .4 -.9-1.8 -.9 3 -.9 .9 -.9 .2 -.9 .4 -.9-.6 -.9 1.1 -.9 .4 -.9 .8 -.9 .3 -.9 .2 -.9-4.3 -.9 4.9 -.9-1.3 -.9-2.2 -.9 2.3 -.9 1.4 -.9-.6 -.9 1.6 -.9-2.8 -.9 2.9 -.9 .3 -.9-2.5 -.9 3.6 -.9-2.3 -.9 2.6 -.9-.4 -.9 .1 -.9 1.8 -.9-3.3 -.9 1.7 -.9 .1 -.9 2.2 -.9-.4 -.9 .8 -.9 .3 -.9-2.6 -.9 1.5 -.9 1.6 -.9 .5 -.9-2.1 -.8 1.7 -.9-3 -.9-3.1 -.9-2.5 -.9-.9 -.9 1.2 -.9 2.8 -.9 3.7 -.9 3.5 -.9 .5 -.9 2.1 -.9-1.4 -.9 1.5 -.9-.7 -.9 .7 -.9 .1 -.9 .6 -.9-2 -.9 2.4 -.9 .1 -.9 .1 -.9 1.6 -.9 .3 -.9-.1 -.9-1.1 -.9-0 -.9 1.3 -.9 1.2 -.9 .5 -.9 .3z" fill="#fff"/>
<path d="M212.1 98.2l-3.3-2.7M213 97.9l-3.3-4M213.9 97.4l-3.3-3.3M214.8 96.2l-3.3-1.2M215.7 94.9l-3.3-.5M216.6 94.9l-3.3 .1M217.5 96.1l-3.3-2.1M218.4 96.1l-3.3-3.3M219.3 95.8l-3.3-2.8M220.2 94.2l-3.3-.6M221.1 94.1l-3.3-1.9M222 94l-3.3-2.3M222.9 91.6l-3.3 0M223.8 93.7l-3.3-1.9M224.7 93l-3.3-3.6M225.6 92.9l-3.3-2.8M226.5 92.3l-3.3-2.3M227.4 92.9l-3.3-1.3M228.3 91.4l-3.3-1.4M229.2 92.8l-3.3-2.9M230.1 90.7l-3.3-3M231 90.2l-3.3-.8M231.9 86.7l-3.3 3.5M232.8 83l-3.3 5.6M233.7 80.2l-1.7 3.5M232 83.7l-1.7 3.5M234.6 79.1l-1.7 3.7M232.9 82.8l-1.7 3.7M235.5 79.9l-1.7 3.4M233.8 83.3l-1.7 3.4M236.4 82.4l-3.3 3.8M237.3 85.5l-3.3 1.2M238.2 88.5l-3.3-.3M239.1 86.8l-3.3 .2M240 88.9l-3.3-4M240.9 88.4l-3.3-1.7M241.8 86.8l-3.3-2.3M242.7 85.3l-3.3-2.1M243.6 87.9l-3.3-5.3M244.5 87.7l-3.3-4M245.3 86.8l-3.3-1.4M246.2 87.2l-3.3-3.7M247.1 85.1l-3.3-.7M248 84.9l-3.3 0M248.9 83.2l-3.3-.5M249.8 86.6l-3.3-3.7M250.7 84.7l-3.3-1.5M251.6 84.7l-3.3-1.2M252.5 85l-3.3-2M253.4 82.4l-3.3-2.2M254.3 84.7l-3.3-3.5M255.2 81.1l-3.3 1.5M256.1 83.6l-3.3-4.7M257 83.4l-3.3-1.6M257.9 80.4l-3.3 .4M258.8 83.3l-3.3-3.7M259.7 81.7l-3.3-3.1M260.6 82.2l-3.3-.8M261.5 80.8l-3.3-1.5M262.4 78.5l-3.3 .1M263.3 80.7l-3.3-1.3M264.2 82l-3.3-5M265.1 77.1l-3.3 .6M266 81.4l-3.3-3.1M266.9 81.2l-3.3-2.2M267.8 80.9l-3.3-3.4M268.7 80.1l-3.3-1.2M269.6 79.7l-3.3-.9M270.5 78.6l-3.3-2.6M271.4 79.2l-3.3-1.1M272.3 78.8l-3.3-1.9M273.2 78.6l-3.3-3.5M274.1 77.7l-3.3-1.2M275 74.7l-3.3 .9M275.9 76.5l-3.3 .2M276.8 76.1l-3.3 .4M277.7 77.6l-3.3-5.2M278.6 75.3l-3.3-1.3M279.5 77l-3.3-1.6M280.4 74.7l-3.3 .3M281.3 75.6l-3.3-4.9M282.2 73.9l-3.3-.7M283.1 72l-3.3 .3M284 75.3l-3.3-5.7M284.8 75.2l-3.3-3.8M285.7 70.6l-3.3 .9M286.6 74.9l-3.3-3M287.5 72.8l-3.3 .4M288.4 74.1l-3.3-6.5M289.3 73.9l-3.3-1.7M290.2 73.8l-3.3-2.6M291.1 69.9l-3.3-.7M292 71.5l-3.3-.4M208.8 95.5l.9-1.6M209.7 93.9l.9 .2M210.6 94.1l.9 .9M211.5 95l.9-.6M212.4 94.4l.9 .6M213.3 95l.9-1M214.2 94l.9-1.1M215.1 92.9l.9 .1M216 93l.9 .6M216.9 93.6l.9-1.4M217.8 92.2l.9-.5M218.7 91.7l.9-0M219.6 91.6l.9 .1M220.5 91.8l.9-2.3M221.4 89.5l.9 .7M222.3 90.2l.9-.2M223.2 90l.9 1.6M224.1 91.6l.9-1.6M225 90l.9-.1M225.9 89.9l.9-2.2M226.8 87.7l.9 1.8M227.7 89.5l.9 .7M228.6 90.2l.9-1.6M229.5 88.6l.9-1.4M230.4 87.2l.9-.7M231.3 86.5l.9 .2M232.2 86.7l.9-.5M233.1 86.2l.9 .5M234 86.7l.9 1.6M234.9 88.3l.9-1.3M235.7 86.9l.9-2M236.6 84.9l.9 1.8M237.5 86.7l.9-2.2M238.4 84.5l.9-1.3M239.3 83.2l.9-.6M240.2 82.6l.9 1M241.1 83.6l.9 1.8M242 85.5l.9-2M242.9 83.5l.9 .9M243.8 84.4l.9 .5M244.7 84.9l.9-2.2M245.6 82.7l.9 .2M246.5 82.9l.9 .3M247.4 83.2l.9 .3M248.3 83.4l.9-.4M249.2 83l.9-2.8M250.1 80.2l.9 1M251 81.2l.9 1.4M251.9 82.6l.9-3.7M252.8 78.9l.9 2.9M253.7 81.8l.9-1M254.6 80.8l.9-1.2M255.5 79.6l.9-1.1M256.4 78.5l.9 2.9M257.3 81.4l.9-2.1M258.2 79.3l.9-.7M259.1 78.6l.9 .8M260 79.4l.9-2.4M260.9 77l.9 .6M261.8 77.7l.9 .6M262.7 78.3l.9 .7M263.6 79l.9-1.5M264.5 77.5l.9 1.4M265.4 78.8l.9 0M266.3 78.8l.9-2.8M267.2 76l.9 2.1M268.1 78.1l.9-1.2M269 76.9l.9-1.8M269.9 75.1l.9 1.4M270.8 76.5l.9-.9M271.7 75.6l.9 1.1M272.6 76.7l.9-.2M273.5 76.6l.9-4.1M274.4 72.4l.9 1.6M275.2 74l.9 1.3M276.1 75.3l.9-.4M277 74.9l.9-4.3M277.9 70.7l.9 2.5M278.8 73.2l.9-.9M279.7 72.3l.9-2.7M280.6 69.6l.9 1.7M281.5 71.3l.9 .2M282.4 71.6l.9 .3M283.3 71.8l.9 1.4M284.2 73.2l.9-5.6M285.1 67.6l.9 4.6M286 72.2l.9-1.1M286.9 71.1l.9-1.9M287.8 69.2l.9 1.8" stroke="#3834dc" stroke-width="0.85" fill="none"/>
<path d="M212.1 98.2l.9-.3 .9-.5 .9-1.2 .9-1.3 .9 0 .9 1.2 .9 .1 .9-.4 .9-1.6 .9-.1 .9-.1 .9-2.4 .9 2.1 .9-.7 .9-.1 .9-.6 .9 .6 .9-1.5 .9 1.4 .9-2.1 .9-.4 .9-3.6 .8-3.7 .9-2.8 .9-1.1 .9 .8 .9 2.5 .9 3.2 .9 3 .9-1.8 .9 2.1 .9-.5 .9-1.6 .9-1.5 .9 2.6 .9-.2 .9-.9 .9 .4 .9-2.1 .9-.2 .9-1.7 .9 3.4 .9-1.9 .9-0 .9 .3 .9-2.6 .9 2.3 .9-3.6 .9 2.5 .9-.2 .9-3 .9 2.9 .9-1.6 .9 .6 .9-1.5 .9-2.3 .9 2.2 .9 1.3 .9-4.9 .9 4.3 .9-.2 .9-.3 .9-.8 .9-.4 .9-1.1 .9 .6 .8-.4 .9-.2 .9-.9 .9-2.9 .9 1.7 .9-.4 .9 1.5 .9-2.2 .9 1.6 .9-2.3 .9 .9 .9-1.6 .9-2 .9 3.3 .9-.1 .9-4.6 .9 4.3 .9-2.1 .9 1.3 .9-.2 .9-.1 .9-3.9 .9 1.6 3.3 2.8 -.9 .3 -.9-.5 -.9-.3 -.9-.1 -.9 .4 -.9 2.1 -.9-1.8 -.9 2.4 -.9-.4 -.9 0 -.9-3.9 -.9 2.3 -.9 2 -.9 .6 -.9-.5 -.8 2.3 -.9-3.2 -.9 2.1 -.9 .8 -.9-1.4 -.9 2.9 -.9-.6 -.9 .9 -.9-1.4 -.9 2.3 -.9-2.1 -.9 2.1 -.9 .1 -.9 0 -.9 .6 -.9 .3 -.9 .4 -.9 1.1 -.9-2.2 -.9 2.1 -.9-1.6 -.9 1.9 -.9 1.2 -.9-1.6 -.9 .1 -.9 .2 -.9 2.5 -.9-1.5 -.9-1.3 -.9 .9 -.9 .4 -.9 2 -.9 1.1 -.9-1.7 -.9 1.7 -.9-1.6 -.9 .5 -.9 .9 -.9-1.5 -.9 3.5 -.9-1.5 -.9 .4 -.9 .8 -.9 .6 -.8-1 -.9-3.3 -.9-3.6 -.9-2.8 -.9-1 -.9 1.2 -.9 3.1 -.9 4.1 -.9 4.1 -.9 2.4 -.9-1.2 -.9 1.4 -.9-3 -.9 4.4 -.9-3 -.9 2.3 -.9 .4 -.9 .3 -.9-.7 -.9 1.1 -.9 .4 -.9 .1 -.9 .2 -.9-.9 -.9 .5 -.9 1.9 -.9-1.7 -.9 2.1 -.9 1.2 -.9 .5z" fill="#fff"/>
<path d="M215.4 99.9l-3.3-1.7M216.3 99.4l-3.3-1.5M217.2 98.2l-3.3-.8M218.1 96.1l-3.3 .1M219 97.8l-3.3-2.9M219.9 95.9l-3.3-1M220.8 95.4l-3.3 .7M221.7 96.3l-3.3-.1M222.6 96l-3.3-.3M223.5 96l-3.3-1.8M224.4 95.6l-3.3-1.5M225.3 94.5l-3.3-.5M226.2 95.2l-3.3-3.6M227.1 94.9l-3.3-1.2M228 94.4l-3.3-1.4M228.9 92.2l-3.3 .7M229.8 95.1l-3.3-2.9M230.7 90.8l-3.3 2.1M231.6 93.8l-3.3-2.4M232.5 92.4l-3.3 .3M233.4 93.6l-3.3-3M234.3 91.1l-3.3-.9M235.2 87.1l-3.3-.4M236.1 83l-3.3-0M237 79.9l-3.3 .2M237.9 78.7l-3.3 .3M238.8 79.7l-3.3 .2M239.7 82.5l-3.3-.1M240.6 86.1l-3.3-.5M241.5 89.4l-3.3-.9M242.4 90.4l-3.3-3.6M243.3 89.8l-3.3-.9M244.2 89l-3.3-.6M245.1 88.6l-3.3-1.8M246 90.1l-3.3-4.8M246.9 86.6l-3.3 1.3M247.8 88.1l-3.3-.4M248.7 87.2l-3.3-.4M249.6 86.7l-3.3 .5M250.5 88.3l-3.3-3.2M251.4 86.5l-3.3-1.7M252.3 88.3l-3.3-5M253.2 87.2l-3.3-.6M254.1 85.2l-3.3-.5M254.9 84.8l-3.3-.1M255.8 83.9l-3.3 1.1M256.7 85.2l-3.3-2.7M257.6 86.7l-3.3-1.9M258.5 84.2l-3.3-3.1M259.4 83.9l-3.3-.3M260.3 83.9l-3.3-.5M261.2 85.5l-3.3-5.1M262.1 84.3l-3.3-1M263 82.4l-3.3-.7M263.9 84l-3.3-1.8M264.8 81.9l-3.3-1.1M265.7 84.1l-3.3-5.6M266.6 83l-3.3-2.3M267.5 82.6l-3.3-.6M268.4 82.3l-3.3-5.2M269.3 81.7l-3.3-.3M270.2 81.6l-3.3-.5M271.1 81.6l-3.3-.7M272 79.5l-3.3 .6M272.9 81.6l-3.3-1.9M273.8 79.2l-3.3-.7M274.7 80.6l-3.3-1.5M275.6 79.8l-3.3-.9M276.5 80.4l-3.3-1.8M277.4 77.5l-3.3 .2M278.3 78.9l-3.3-4.2M279.2 78.1l-3.3-1.6M280.1 76l-3.3 .1M281 79.2l-3.3-1.5M281.9 76.8l-3.3-1.5M282.8 77.4l-3.3-.4M283.7 76.8l-3.3-2.2M284.6 74.8l-3.3 .8M285.5 72.5l-3.3 1.4M286.4 76.4l-3.3-4.4M287.3 76.4l-3.3-1M288.2 76.8l-3.3-1.7M289.1 74.4l-3.3-3.8M290 76.2l-3.3-1.3M290.9 74.1l-3.3-1.3M291.8 73.7l-3.3 .4M292.7 73.8l-3.3 .1M293.6 74.1l-3.3-.3M294.4 74.6l-3.3-4.7M295.3 74.2l-3.3-2.8M212.1 98.2l.9-.3M213 97.9l.9-.5M213.9 97.4l.9-1.2M214.8 96.2l.9-1.4M215.7 94.9l.9 0M216.6 94.9l.9 1.2M217.5 96.1l.9 .1M218.4 96.1l.9-.4M219.3 95.8l.9-1.6M220.2 94.2l.9-.1M221.1 94.1l.9-.1M222 94l.9-2.4M222.9 91.6l.9 2.1M223.8 93.7l.9-.6M224.7 93l.9-.1M225.6 92.9l.9-.7M226.5 92.3l.9 .7M227.4 92.9l.9-1.6M228.3 91.4l.9 1.4M229.2 92.8l.9-2.1M230.1 90.7l.9-.4M231 90.2l.9-3.6M231.9 86.7l.9-3.7M232.8 83l.9-2.8M233.7 80.2l.9-1.1M234.6 79.1l.9 .9M235.5 79.9l.9 2.5M236.4 82.4l.9 3.2M237.3 85.5l.9 3M238.2 88.5l.9-1.8M239.1 86.8l.9 2.1M240 88.9l.9-.5M240.9 88.4l.9-1.6M241.8 86.8l.9-1.5M242.7 85.3l.9 2.6M243.6 87.9l.9-.2M244.5 87.7l.9-.8M245.3 86.8l.9 .3M246.2 87.2l.9-2.1M247.1 85.1l.9-.2M248 84.9l.9-1.6M248.9 83.2l.9 3.3M249.8 86.6l.9-1.9M250.7 84.7l.9-0M251.6 84.7l.9 .3M252.5 85l.9-2.6M253.4 82.4l.9 2.3M254.3 84.7l.9-3.6M255.2 81.1l.9 2.5M256.1 83.6l.9-.2M257 83.4l.9-2.9M257.9 80.4l.9 2.8M258.8 83.3l.9-1.6M259.7 81.7l.9 .6M260.6 82.2l.9-1.4M261.5 80.8l.9-2.3M262.4 78.5l.9 2.2M263.3 80.7l.9 1.3M264.2 82l.9-4.9M265.1 77.1l.9 4.3M266 81.4l.9-.2M266.9 81.2l.9-.3M267.8 80.9l.9-.8M268.7 80.1l.9-.4M269.6 79.7l.9-1.1M270.5 78.6l.9 .6M271.4 79.2l.9-.3M272.3 78.8l.9-.2M273.2 78.6l.9-.9M274.1 77.7l.9-3M275 74.7l.9 1.8M275.9 76.5l.9-.4M276.8 76.1l.9 1.5M277.7 77.6l.9-2.3M278.6 75.3l.9 1.6M279.5 77l.9-2.3M280.4 74.7l.9 .9M281.3 75.6l.9-1.7M282.2 73.9l.9-1.9M283.1 72l.9 3.3M284 75.3l.9-.2M284.8 75.2l.9-4.5M285.7 70.6l.9 4.2M286.6 74.9l.9-2.1M287.5 72.8l.9 1.3M288.4 74.1l.9-.2M289.3 73.9l.9-.2M290.2 73.8l.9-3.9M291.1 69.9l.9 1.6" stroke="#3834dc" stroke-width="0.85" fill="none"/>
<path d="M215.4 99.9l.9-.5 .9-1.3 .9-2 .9 1.6 .9-1.8 .9-.5 .9 .9 .9-.3 .9-.1 .9-.3 .9-1.1 .9 .7 .9-.3 .9-.5 .9-2.2 .9 2.9 .9-4.3 .9 2.9 .9-1.3 .9 1.2 .9-2.5 .9-4 .8-4.1 .9-3.1 .9-1.2 .9 1 .9 2.8 .9 3.5 .9 3.4 .9 1 .9-.6 .9-.8 .9-.4 .9 1.5 .9-3.5 .9 1.5 .9-.9 .9-.6 .9 1.6 .9-1.7 .9 1.8 .9-1.1 .9-2 .9-.5 .9-.8 .9 1.2 .9 1.6 .9-2.5 .9-.3 .9-0 .9 1.5 .9-1.1 .9-2 .9 1.7 .9-2.1 .9 2.2 .9-1.1 .9-.4 .9-.3 .9-.6 .9-.1 .9-0 .9-2.1 .9 2.1 .9-2.4 .9 1.4 .8-.8 .9 .6 .9-2.9 .9 1.4 .9-.8 .9-2.1 .9 3.1 .9-2.3 .9 .5 .9-.5 .9-2 .9-2.3 .9 3.9 .9-.1 .9 .5 .9-2.4 .9 1.8 .9-2.1 .9-.4 .9 .1 .9 .3 .9 .5 .9-.4 3.3 .6 -.9 .9 -.9-1 -.9 1.7 -.9 .6 -.9-1.9 -.9 1.1 -.9-.4 -.9 1.5 -.9-.3 -.9 2.2 -.9 .1 -.9-.7 -.9-1.8 -.9 1.3 -.9 2.1 -.8-.4 -.9 1.1 -.9-3.4 -.9 3.9 -.9-.3 -.9-.1 -.9 .6 -.9-.4 -.9 .1 -.9 .5 -.9 1.3 -.9-.2 -.9 .8 -.9-.2 -.9-.7 -.9 2 -.9-3.2 -.9 3 -.9-.8 -.9 1.1 -.9 1.5 -.9-0 -.9-.6 -.9-1.2 -.9 2.2 -.9 .7 -.9-1.7 -.9 2.5 -.9-.5 -.9 .8 -.9-.1 -.9 .7 -.9-.1 -.9 .9 -.9-1 -.9 1.3 -.9-.3 -.9 1 -.9-1.8 -.9 .5 -.9-.3 -.9-.7 -.9 3.2 -.9-3.1 -.8 1.2 -.9 1.3 -.9-1.2 -.9-1.4 -.9-.4 -.9 .8 -.9 1.8 -.9 1.8 -.9 2.4 -.9-1.2 -.9 1.5 -.9-1.6 -.9 2.4 -.9-3.2 -.9 1.9 -.9 1.5 -.9 .1 -.9-.4 -.9 .3 -.9-1 -.9-2.9 -.9 5.5 -.9 .4 -.9 .2 -.9-.2 -.9 .5 -.9 1.1 -.9-1.5 -.9 2.4 -.9 .4z" fill="#fff"/>
<path d="M218.8 101.3l-3.3-1.4M219.7 100.9l-3.3-1.5M220.6 98.5l-3.3-.3M221.5 100l-3.3-3.9M222.4 98.9l-3.3-1.1M223.3 98.5l-3.3-2.6M224.1 98.7l-3.3-3.3M225 98.4l-3.3-2.1M225.9 98l-3.3-2M226.8 92.5l-3.3 3.5M227.7 95.4l-3.3 .2M228.6 96.5l-3.3-1.9M229.5 96.1l-3.3-.9M230.4 96.6l-3.3-1.7M231.3 96.5l-3.3-2M232.2 94.9l-3.3-2.7M233.1 93.1l-3.3 2.1M234 96.2l-3.3-5.4M234.9 93.8l-3.3-0M235.8 95.4l-3.3-3M236.7 93.9l-3.3-.3M237.6 95.1l-3.3-4M238.5 92.7l-3.3-5.6M239.4 91l-3.3-7.9M240.3 89.1l-3.3-9.2M241.2 88.3l-3.3-9.6M242.1 88.7l-3.3-9M243 90.2l-3.3-7.7M243.9 91.3l-3.3-5.3M244.8 90l-3.3-.5M245.7 88.9l-3.3 1.5M246.6 91.9l-3.3-2.1M247.5 88.8l-3.3 .2M248.4 89.5l-3.3-.8M249.3 89.8l-3.3 .3M250.2 89.2l-3.3-2.6M251.1 91l-3.3-2.9M252 90l-3.3-2.8M252.9 90.3l-3.3-3.7M253.8 89l-3.3-.7M254.7 90l-3.3-3.5M255.6 89.1l-3.3-.8M256.5 89.2l-3.3-2M257.4 88.5l-3.3-3.3M258.3 88.6l-3.3-3.8M259.2 87.9l-3.3-4M260.1 88.4l-3.3-3.2M261 85.9l-3.3 .8M261.9 87.5l-3.3-3.3M262.8 86.8l-3.3-2.9M263.7 84.7l-3.3-.8M264.5 85.8l-3.3-.3M265.4 86.4l-3.3-2.1M266.3 86.4l-3.3-4M267.2 84.9l-3.3-.9M268.1 83.8l-3.3-1.9M269 84.6l-3.3-.5M269.9 81.6l-3.3 1.4M270.8 84.8l-3.3-2.2M271.7 82.8l-3.3-.5M272.6 83.5l-3.3-1.8M273.5 83.7l-3.3-2M274.4 82.9l-3.3-1.3M275.3 83.1l-3.3-3.6M276.2 81.8l-3.3-.2M277.1 81.3l-3.3-2M278 81.2l-3.3-.5M278.9 81.6l-3.3-1.8M279.8 81.1l-3.3-.7M280.7 81.2l-3.3-3.6M281.6 81.4l-3.3-2.5M282.5 77.5l-3.3 .6M283.4 81l-3.3-4.9M284.3 79.9l-3.3-.7M285.2 80.2l-3.3-3.4M286.1 78.2l-3.3-.8M287 76.8l-3.3 0M287.9 78.7l-3.3-3.9M288.8 79.3l-3.3-6.8M289.7 79.2l-3.3-2.8M290.6 77l-3.3-.6M291.5 77.4l-3.3-.5M292.4 75.8l-3.3-1.5M293.3 76.3l-3.3-.1M294.2 75.1l-3.3-1M295.1 77l-3.3-3.2M296 76.5l-3.3-2.7M296.9 74.7l-3.3-.6M297.8 75.7l-3.3-1.1M298.7 74.8l-3.3-.6M215.4 99.9l.9-.5M216.3 99.4l.9-1.3M217.2 98.2l.9-2M218.1 96.1l.9 1.6M219 97.8l.9-1.9M219.9 95.9l.9-.5M220.8 95.4l.9 .9M221.7 96.3l.9-.2M222.6 96l.9-.1M223.5 96l.9-.4M224.4 95.6l.9-1.1M225.3 94.5l.9 .7M226.2 95.2l.9-.3M227.1 94.9l.9-.4M228 94.4l.9-2.2M228.9 92.2l.9 3M229.8 95.1l.9-4.3M230.7 90.8l.9 3M231.6 93.8l.9-1.3M232.5 92.4l.9 1.2M233.4 93.6l.9-2.5M234.3 91.1l.9-4M235.2 87.1l.9-4.1M236.1 83l.9-3.1M237 79.9l.9-1.2M237.9 78.7l.9 1M238.8 79.7l.9 2.8M239.7 82.5l.9 3.6M240.6 86.1l.9 3.4M241.5 89.4l.9 1M242.4 90.4l.9-.6M243.3 89.8l.9-.8M244.2 89l.9-.4M245.1 88.6l.9 1.5M246 90.1l.9-3.5M246.9 86.6l.9 1.5M247.8 88.1l.9-.9M248.7 87.2l.9-.5M249.6 86.7l.9 1.6M250.5 88.3l.9-1.7M251.4 86.5l.9 1.7M252.3 88.3l.9-1.1M253.2 87.2l.9-2M254.1 85.2l.9-.4M254.9 84.8l.9-.8M255.8 83.9l.9 1.3M256.7 85.2l.9 1.5M257.6 86.7l.9-2.5M258.5 84.2l.9-.2M259.4 83.9l.9-.1M260.3 83.9l.9 1.6M261.2 85.5l.9-1.2M262.1 84.3l.9-1.9M263 82.4l.9 1.6M263.9 84l.9-2.1M264.8 81.9l.9 2.2M265.7 84.1l.9-1.1M266.6 83l.9-.4M267.5 82.6l.9-.3M268.4 82.3l.9-.6M269.3 81.7l.9-.1M270.2 81.6l.9-0M271.1 81.6l.9-2.1M272 79.5l.9 2.1M272.9 81.6l.9-2.3M273.8 79.2l.9 1.4M274.7 80.6l.9-.9M275.6 79.8l.9 .6M276.5 80.4l.9-2.8M277.4 77.5l.9 1.4M278.3 78.9l.9-.8M279.2 78.1l.9-2.1M280.1 76l.9 3.1M281 79.2l.9-2.3M281.9 76.8l.9 .5M282.8 77.4l.9-.5M283.7 76.8l.9-2.1M284.6 74.8l.9-2.3M285.5 72.5l.9 3.9M286.4 76.4l.9-0M287.3 76.4l.9 .5M288.2 76.8l.9-2.4M289.1 74.4l.9 1.8M290 76.2l.9-2.1M290.9 74.1l.9-.4M291.8 73.7l.9 .1M292.7 73.8l.9 .3M293.6 74.1l.9 .5M294.4 74.6l.9-.3" stroke="#3834dc" stroke-width="0.85" fill="none"/>
<path d="M218.8 101.3l.9-.4 .9-2.4 .9 1.5 .9-1.1 .9-.5 .9 .2 .9-.3 .9-.3 .9-5.5 .9 2.9 .9 1 .9-.3 .9 .4 .9-.1 .9-1.5 .9-1.9 .9 3.2 .9-2.5 .9 1.7 .9-1.5 .9 1.2 .9-2.4 .8-1.8 .9-1.8 .9-.8 .9 .4 .9 1.4 .9 1.2 .9-1.4 .9-1.1 .9 3 .9-3.1 .9 .7 .9 .3 .9-.5 .9 1.7 .9-.9 .9 .3 .9-1.3 .9 1 .9-.9 .9 0 .9-.6 .9 .1 .9-.8 .9 .5 .9-2.5 .9 1.7 .9-.7 .9-2.2 .9 1.2 .9 .6 .9-0 .9-1.5 .9-1.1 .9 .8 .9-3 .9 3.2 .9-2 .9 .7 .9 .2 .9-.8 .9 .1 .9-1.2 .9-.5 .9-.1 .8 .4 .9-.6 .9 .1 .9 .3 .9-3.9 .9 3.4 .9-1.1 .9 .4 .9-2.1 .9-1.3 .9 1.8 .9 .7 .9-.1 .9-2.2 .9 .3 .9-1.5 .9 .4 .9-1.1 .9 1.8 .9-.5 .9-1.7 .9 1 .9-.9 3.3 1.6 -.9 .3 -.9-1 -.9 .4 -.9 .3 -.9 1.9 -.9 .5 -.9-.3 -.9-3.1 -.9 4.9 -.9-2.3 -.9-.3 -.9 1.7 -.9 1.9 -.9-3.6 -.9 1.2 -.8 1.8 -.9 2 -.9-0 -.9-.1 -.9-2.1 -.9 2.4 -.9-3 -.9 4.5 -.9-.4 -.9 1 -.9-1.8 -.9 2 -.9-.2 -.9 .8 -.9 .5 -.9-.5 -.9-3.5 -.9 2.9 -.9 1.7 -.9-2.2 -.9 3.1 -.9-1.7 -.9 2.1 -.9-.3 -.9 .9 -.9-1 -.9 2 -.9 .2 -.9-1.4 -.9 1.4 -.9 .5 -.9-.4 -.9-0 -.9 1.1 -.9-.4 -.9 .5 -.9-.3 -.9 1.1 -.9-1.5 -.9 2.4 -.9 .4 -.9-.1 -.9-0 -.9-1.7 -.8 2.3 -.9 .2 -.9-2.8 -.9 1.3 -.9 2.9 -.9 0 -.9 .1 -.9 .7 -.9-2.3 -.9 1.2 -.9 1.5 -.9 .5 -.9 .7 -.9-1 -.9-1.2 -.9 2.5 -.9-1.2 -.9 .9 -.9 1.9 -.9-.9 -.9-.4 -.9 1.6 -.9-.9 -.9 2 -.9-.7 -.9-.4 -.9 .7 -.9-1.6 -.9 1.3 -.9 1.7z" fill="#fff"/>
<path d="M222.1 102.3l-3.3-.9M223 100.5l-3.3 .4M223.9 99.2l-3.3-.7M224.8 100.8l-3.3-.9M225.7 100.1l-3.3-1.2M226.6 100.5l-3.3-2.1M227.5 101.3l-3.3-2.6M228.4 99.2l-3.3-.8M229.3 100.1l-3.3-2.1M230.2 98.5l-3.3-6M231.1 98.9l-3.3-3.5M232 99.8l-3.3-3.3M232.9 97.9l-3.3-1.8M233.7 97l-3.3-.5M234.6 98.3l-3.3-1.8M235.5 95.8l-3.3-.9M236.4 97l-3.3-3.9M237.3 97.9l-3.3-1.7M238.2 97.2l-3.3-3.4M239.1 96.7l-3.3-1.3M240 95.2l-3.3-1.3M240.9 94l-3.3 1.1M241.8 96.3l-3.3-3.6M242.7 95.6l-3.3-4.7M243.6 95.6l-3.3-6.5M244.5 95.5l-3.3-7.2M245.4 92.6l-3.3-3.9M246.3 91.4l-3.3-1.2M247.2 94.1l-3.3-2.8M248.1 93.9l-3.3-3.9M249 91.7l-3.3-2.8M249.9 93.3l-3.3-1.4M250.8 93.4l-3.3-4.6M251.7 93.4l-3.3-3.9M252.6 93.1l-3.3-3.3M253.5 90.6l-3.3-1.4M254.4 92.1l-3.3-1.1M255.3 91l-3.3-1M256.2 91.4l-3.3-1M257.1 90.8l-3.3-1.8M258 91.2l-3.3-1.2M258.9 90.1l-3.3-1M259.8 90.2l-3.3-1M260.7 90.6l-3.3-2.1M261.6 90l-3.3-1.4M262.5 88.6l-3.3-.7M263.4 90l-3.3-1.6M264.3 89.8l-3.3-3.9M265.2 87.8l-3.3-.3M266.1 88.8l-3.3-1.9M267 88l-3.3-3.3M267.9 88.2l-3.3-2.4M268.8 86.1l-3.3 .3M269.7 87.9l-3.3-1.5M270.6 84.7l-3.3 .2M271.5 86.9l-3.3-3.1M272.4 85.2l-3.3-.6M273.3 82.4l-3.3-.8M274.1 85.8l-3.3-1M275 86.3l-3.3-3.5M275.9 85.9l-3.3-2.3M276.8 85l-3.3-1.4M277.7 85.2l-3.3-2.3M278.6 83.2l-3.3-.1M279.5 85l-3.3-3.2M280.4 84.1l-3.3-2.8M281.3 84.5l-3.3-3.3M282.2 79.9l-3.3 1.7M283.1 83l-3.3-1.9M284 80.5l-3.3 .6M284.9 82.7l-3.3-1.3M285.8 82.7l-3.3-5.2M286.7 82.8l-3.3-1.8M287.6 80.8l-3.3-.9M288.5 78.9l-3.3 1.3M289.4 77.7l-3.3 .5M290.3 81.3l-3.3-4.5M291.2 79.5l-3.3-.8M292.1 77.8l-3.3 1.5M293 78l-3.3 1.2M293.9 80.3l-3.3-3.3M294.8 75.4l-3.3 2M295.7 78.5l-3.3-2.7M296.6 78.8l-3.3-2.5M297.5 78.4l-3.3-3.3M298.4 76.4l-3.3 .5M299.3 76.1l-3.3 .4M300.2 75.8l-3.3-1M301.1 76.7l-3.3-1M302 76.5l-3.3-1.7M218.8 101.3l.9-.4M219.7 100.9l.9-2.4M220.6 98.5l.9 1.5M221.5 100l.9-1.1M222.4 98.9l.9-.4M223.3 98.5l.9 .2M224.1 98.7l.9-.3M225 98.4l.9-.4M225.9 98l.9-5.5M226.8 92.5l.9 2.9M227.7 95.4l.9 1.1M228.6 96.5l.9-.4M229.5 96.1l.9 .5M230.4 96.6l.9-.1M231.3 96.5l.9-1.6M232.2 94.9l.9-1.8M233.1 93.1l.9 3.2M234 96.2l.9-2.4M234.9 93.8l.9 1.7M235.8 95.4l.9-1.5M236.7 93.9l.9 1.2M237.6 95.1l.9-2.4M238.5 92.7l.9-1.7M239.4 91l.9-1.9M240.3 89.1l.9-.8M241.2 88.3l.9 .4M242.1 88.7l.9 1.4M243 90.2l.9 1.2M243.9 91.3l.9-1.3M244.8 90l.9-1.1M245.7 88.9l.9 3M246.6 91.9l.9-3.1M247.5 88.8l.9 .7M248.4 89.5l.9 .3M249.3 89.8l.9-.5M250.2 89.2l.9 1.8M251.1 91l.9-1M252 90l.9 .4M252.9 90.3l.9-1.4M253.8 89l.9 1M254.7 90l.9-.9M255.6 89.1l.9 .1M256.5 89.2l.9-.7M257.4 88.5l.9 .1M258.3 88.6l.9-.7M259.2 87.9l.9 .5M260.1 88.4l.9-2.5M261 85.9l.9 1.7M261.9 87.5l.9-.7M262.8 86.8l.9-2.2M263.7 84.7l.9 1.1M264.5 85.8l.9 .6M265.4 86.4l.9 0M266.3 86.4l.9-1.5M267.2 84.9l.9-1.1M268.1 83.8l.9 .8M269 84.6l.9-3M269.9 81.6l.9 3.2M270.8 84.8l.9-2M271.7 82.8l.9 .7M272.6 83.5l.9 .2M273.5 83.7l.9-.7M274.4 82.9l.9 .1M275.3 83.1l.9-1.3M276.2 81.8l.9-.5M277.1 81.3l.9-.1M278 81.2l.9 .4M278.9 81.6l.9-.6M279.8 81.1l.9 .1M280.7 81.2l.9 .3M281.6 81.4l.9-3.9M282.5 77.5l.9 3.4M283.4 81l.9-1.1M284.3 79.9l.9 .3M285.2 80.2l.9-2M286.1 78.2l.9-1.3M287 76.8l.9 1.8M287.9 78.7l.9 .6M288.8 79.3l.9-.1M289.7 79.2l.9-2.2M290.6 77l.9 .4M291.5 77.4l.9-1.5M292.4 75.8l.9 .4M293.3 76.3l.9-1.2M294.2 75.1l.9 1.9M295.1 77l.9-.5M296 76.5l.9-1.7M296.9 74.7l.9 1M297.8 75.7l.9-.9" stroke="#3834dc" stroke-width="0.85" fill="none"/>
<path d="M222.1 102.3l.9-1.8 .9-1.3 .9 1.7 .9-.8 .9 .5 .9 .7 .9-2.1 .9 .9 .9-1.6 .9 .4 .9 .9 .9-1.9 .9-.8 .9 1.2 .9-2.5 .9 1.2 .9 .9 .9-.7 .9-.5 .9-1.4 .9-1.2 .9 2.2 .8-.6 .9-.1 .9-.1 .9-2.9 .9-1.2 .9 2.8 .9-.3 .9-2.2 .9 1.6 .9 .1 .9 0 .9-.3 .9-2.5 .9 1.5 .9-1.1 .9 .4 .9-.6 .9 .4 .9-1.1 .9 .1 .9 .4 .9-.5 .9-1.5 .9 1.4 .9-.2 .9-1.9 .9 .9 .9-.8 .9 .2 .9-2.1 .9 1.8 .9-3.1 .9 2.1 .9-1.6 .9-2.9 .9 3.4 .9 .5 .9-.4 .9-.8 .9 .1 .9-2 .9 1.8 .9-.9 .9 .4 .8-4.5 .9 3 .9-2.4 .9 2.1 .9 .1 .9-0 .9-2 .9-1.9 .9-1.2 .9 3.6 .9-1.8 .9-1.7 .9 .2 .9 2.3 .9-4.9 .9 3.1 .9 .3 .9-.4 .9-1.9 .9-.4 .9-.3 .9 1 .9-.3 3.3 1.6 -.9-2.4 -.9 2.4 -.9 1.8 -.9-.6 -.9 1 -.9-4.3 -.9 5.4 -.9 .3 -.9-.9 -.9 .9 -.9-1.9 -.9-1.7 -.9 .6 -.9 3.9 -.9 0 -.8 .3 -.9-1.5 -.9 2.5 -.9 .7 -.9-.5 -.9 1.3 -.9-1.9 -.9 1.4 -.9 1.1 -.9-1.9 -.9-2 -.9 1.9 -.9 1.8 -.9 .4 -.9-.7 -.9 .6 -.9-.1 -.9 .5 -.9 2.2 -.9-.4 -.9-.9 -.9 .4 -.9 2.5 -.9-.7 -.9-.4 -.9 .1 -.9 2 -.9-.1 -.9-.2 -.9 .4 -.9-1.7 -.9 .8 -.9 1.3 -.9 .9 -.9-1.1 -.9 1.6 -.9-1.3 -.9 2.4 -.9 .4 -.9-1.1 -.9-1 -.9 1.7 -.9-2.6 -.9 1 -.8 .8 -.9 .9 -.9-4.1 -.9 1.6 -.9 5.2 -.9 .8 -.9-1.3 -.9-1.2 -.9 3.3 -.9-.7 -.9-1.5 -.9 2.2 -.9 .2 -.9 0 -.9-4.4 -.9 5 -.9 1.3 -.9-.2 -.9 .3 -.9-1.2 -.9-.4 -.9 1.9 -.9 .8 -.9-1.2 -.9 1.2 -.9-0 -.9 .2 -.9 1 -.9-1.9 -.9 2.6z" fill="#fff"/>
<path d="M225.4 103.9l-3.3-1.6M226.3 101.3l-3.3-.8M227.2 103.2l-3.3-4M228.1 102.2l-3.3-1.3M229 101.9l-3.3-1.8M229.9 102l-3.3-1.5M230.8 100.8l-3.3 .5M231.7 102l-3.3-2.8M232.6 101.2l-3.3-1M233.5 99.3l-3.3-.8M234.4 99.7l-3.3-.7M235.3 100.9l-3.3-1.1M236.2 100.6l-3.3-2.7M237.1 100.8l-3.3-3.8M238 99.5l-3.3-1.2M238.9 94.5l-3.3 1.3M239.8 98.9l-3.3-1.9M240.7 98.9l-3.3-1M241.6 98.7l-3.3-1.5M242.5 96.5l-3.3 .2M243.3 98l-3.3-2.8M244.2 98.7l-3.3-4.6M245.1 95.4l-3.3 .9M246 96.6l-3.3-1M246.9 97.9l-3.3-2.3M247.8 97.1l-3.3-1.6M248.7 91.9l-3.3 .7M249.6 90.3l-3.3 1M250.5 94.3l-3.3-.2M251.4 93.5l-3.3 .4M252.3 92.7l-3.3-1M253.2 91.7l-3.3 1.6M254.1 94.3l-3.3-.9M255 92.6l-3.3 .8M255.9 93.6l-3.3-.5M256.8 94.7l-3.3-4M257.7 94.3l-3.3-2.2M258.6 91.9l-3.3-.9M259.5 93.2l-3.3-1.8M260.4 91.6l-3.3-.8M261.3 92.7l-3.3-1.5M262.2 91.8l-3.3-1.7M263.1 90.5l-3.3-.3M264 89.7l-3.3 .9M264.9 91.3l-3.3-1.3M265.8 90.9l-3.3-2.3M266.7 91.2l-3.3-1.2M267.6 91.3l-3.3-1.5M268.5 89.3l-3.3-1.4M269.4 89.2l-3.3-.4M270.3 89.6l-3.3-1.6M271.2 90.3l-3.3-2.1M272.1 87.8l-3.3-1.7M273 87.4l-3.3 .5M273.9 88.3l-3.3-3.6M274.8 88.7l-3.3-1.8M275.7 86.5l-3.3-1.3M276.6 86l-3.3-3.6M277.5 86.1l-3.3-.3M278.4 85.5l-3.3 .8M279.3 86.2l-3.3-.4M280.2 85.8l-3.3-.7M281.1 84l-3.3 1.2M282 82.1l-3.3 1.1M282.9 84.1l-3.3 .9M283.7 86l-3.3-1.9M284.6 84.9l-3.3-.4M285.5 83.5l-3.3-3.6M286.4 85.4l-3.3-2.4M287.3 84.1l-3.3-3.5M288.2 84.6l-3.3-2M289.1 83.9l-3.3-1.2M290 81.3l-3.3 1.4M290.9 82.8l-3.3-2.1M291.8 82.6l-3.3-3.7M292.7 82.6l-3.3-4.9M293.6 78.7l-3.3 2.6M294.5 78.1l-3.3 1.4M295.4 79.8l-3.3-2M296.3 81.6l-3.3-3.6M297.2 80.7l-3.3-.5M298.1 81.7l-3.3-6.3M299 81.4l-3.3-2.9M299.9 75.9l-3.3 2.9M300.8 80.3l-3.3-1.9M301.7 79.3l-3.3-2.8M302.6 79.8l-3.3-3.7M303.5 78.1l-3.3-2.4M304.4 75.7l-3.3 1.1M305.3 78l-3.3-1.6M222.1 102.3l.9-1.8M223 100.5l.9-1.3M223.9 99.2l.9 1.6M224.8 100.8l.9-.7M225.7 100.1l.9 .4M226.6 100.5l.9 .7M227.5 101.3l.9-2.1M228.4 99.2l.9 .9M229.3 100.1l.9-1.6M230.2 98.5l.9 .4M231.1 98.9l.9 .9M232 99.8l.9-1.9M232.9 97.9l.9-.9M233.7 97l.9 1.2M234.6 98.3l.9-2.5M235.5 95.8l.9 1.2M236.4 97l.9 .9M237.3 97.9l.9-.7M238.2 97.2l.9-.5M239.1 96.7l.9-1.5M240 95.2l.9-1.2M240.9 94l.9 2.3M241.8 96.3l.9-.7M242.7 95.6l.9-.1M243.6 95.6l.9-0M244.5 95.5l.9-2.9M245.4 92.6l.9-1.3M246.3 91.4l.9 2.8M247.2 94.1l.9-.2M248.1 93.9l.9-2.2M249 91.7l.9 1.6M249.9 93.3l.9 0M250.8 93.4l.9 0M251.7 93.4l.9-.3M252.6 93.1l.9-2.4M253.5 90.6l.9 1.5M254.4 92.1l.9-1.1M255.3 91l.9 .4M256.2 91.4l.9-.6M257.1 90.8l.9 .4M258 91.2l.9-1.1M258.9 90.1l.9 .1M259.8 90.2l.9 .4M260.7 90.6l.9-.5M261.6 90l.9-1.4M262.5 88.6l.9 1.4M263.4 90l.9-.2M264.3 89.8l.9-2M265.2 87.8l.9 .9M266.1 88.8l.9-.8M267 88l.9 .2M267.9 88.2l.9-2.1M268.8 86.1l.9 1.7M269.7 87.9l.9-3.1M270.6 84.7l.9 2.2M271.5 86.9l.9-1.7M272.4 85.2l.9-2.9M273.3 82.4l.9 3.4M274.1 85.8l.9 .5M275 86.3l.9-.5M275.9 85.9l.9-.8M276.8 85l.9 .2M277.7 85.2l.9-2M278.6 83.2l.9 1.8M279.5 85l.9-.9M280.4 84.1l.9 .4M281.3 84.5l.9-4.5M282.2 79.9l.9 3M283.1 83l.9-2.4M284 80.5l.9 2.1M284.9 82.7l.9 .1M285.8 82.7l.9 0M286.7 82.8l.9-2M287.6 80.8l.9-1.9M288.5 78.9l.9-1.2M289.4 77.7l.9 3.6M290.3 81.3l.9-1.8M291.2 79.5l.9-1.7M292.1 77.8l.9 .2M293 78l.9 2.3M293.9 80.3l.9-4.9M294.8 75.4l.9 3.1M295.7 78.5l.9 .3M296.6 78.8l.9-.4M297.5 78.4l.9-1.9M298.4 76.4l.9-.3M299.3 76.1l.9-.4M300.2 75.8l.9 1M301.1 76.7l.9-.3" stroke="#3834dc" stroke-width="0.85" fill="none"/>
<path d="M225.4 103.9l.9-2.6 .9 1.9 .9-1 .9-.3 .9 .1 .9-1.3 .9 1.3 .9-.9 .9-1.8 .9 .3 .9 1.3 .9-.3 .9 .2 .9-1.4 .9-4.9 .9 4.4 .9-.1 .9-.1 .9-2.2 .9 1.5 .9 .7 .9-3.3 .8 1.2 .9 1.2 .9-.7 .9-5.2 .9-1.6 .9 4 .9-.8 .9-.8 .9-1 .9 2.6 .9-1.7 .9 1 .9 1 .9-.3 .9-2.5 .9 1.3 .9-1.5 .9 1.1 .9-.9 .9-1.3 .9-.8 .9 1.6 .9-.4 .9 .3 .9 0 .9-2 .9-0 .9 .3 .9 .7 .9-2.4 .9-.5 .9 1 .9 .4 .9-2.2 .9-.5 .9 .1 .9-.6 .9 .7 .9-.4 .9-1.9 .9-1.8 .9 2 .9 1.8 .9-1 .8-1.4 .9 1.9 .9-1.3 .9 .5 .9-.7 .9-2.6 .9 1.5 .9-.2 .9 0 .9-3.9 .9-.6 .9 1.7 .9 1.8 .9-.9 .9 1 .9-.3 .9-5.5 .9 4.3 .9-1 .9 .6 .9-1.7 .9-2.5 .9 2.4 3.3 2.7 -.9 .3 -.9-1.7 -.9 .5 -.9 2.4 -.9-1.4 -.9-.5 -.9-.5 -.9 3.4 -.9-1.5 -.9 1 -.9-.8 -.9 2 -.9 .1 -.9-2.6 -.9 3.9 -.8-2.9 -.9 3.5 -.9-1.2 -.9-.1 -.9-0 -.9 1.2 -.9 .3 -.9-.8 -.9 .4 -.9 1.5 -.9-2.6 -.9 3.8 -.9-3 -.9 2.2 -.9-1.6 -.9 1.6 -.9 1.2 -.9 1 -.9-.9 -.9-1.6 -.9 2.2 -.9-1.3 -.9 2 -.9 .9 -.9 .9 -.9-1 -.9-.6 -.9-0 -.9-1.2 -.9 3.6 -.9 .7 -.9-.5 -.9-.7 -.9 .7 -.9 1.2 -.9-1.4 -.9 2.7 -.9 .2 -.9-1.6 -.9-.2 -.9 2.9 -.9-2.5 -.9 .9 -.9 .1 -.8 .6 -.9-1.3 -.9-4.9 -.9 1.8 -.9 6 -.9-1.2 -.9 2.5 -.9 .1 -.9-.2 -.9-.6 -.9 2.5 -.9-.9 -.9 0 -.9 .9 -.9-1.1 -.9 1.8 -.9-4.1 -.9 4.8 -.9 .4 -.9 .5 -.9-.1 -.9 .1 -.9-.5 -.9-2.2 -.9 2.9 -.9 .2 -.9-.5 -.9 1.9 -.9 1 -.9-1.4z" fill="#fff"/>
<path d="M228.7 104.3l-3.3-.4M229.6 105.8l-3.3-4.5M230.5 104.7l-3.3-1.5M231.4 102.9l-3.3-.7M232.3 103.3l-3.3-1.4M233.2 103.1l-3.3-1.1M234.1 100.2l-3.3 .6M235 102.5l-3.3-.5M235.9 102.9l-3.3-1.7M236.8 102.8l-3.3-3.6M237.7 102.9l-3.3-3.3M238.6 102.4l-3.3-1.5M239.5 102l-3.3-1.4M240.4 97.2l-3.3 3.6M241.3 101.4l-3.3-1.9M242.2 99.6l-3.3-5.1M243.1 100.6l-3.3-1.7M244 99.7l-3.3-.9M244.9 99.7l-3.3-1M245.8 100.6l-3.3-4.1M246.7 98.1l-3.3-.1M247.6 98.8l-3.3-.1M248.5 99l-3.3-3.6M249.4 98.9l-3.3-2.3M250.3 96.4l-3.3 1.5M251.2 97.5l-3.3-.4M252.1 91.5l-3.3 .4M252.9 89.7l-3.3 .6M253.8 94.6l-3.3-.2M254.7 95.9l-3.3-2.4M255.6 95.3l-3.3-2.6M256.5 95.3l-3.3-3.6M257.4 94.4l-3.3-.1M258.3 96.8l-3.3-4.2M259.2 93.9l-3.3-.3M260.1 94.1l-3.3 .6M261 95.7l-3.3-1.4M261.9 95.5l-3.3-3.7M262.8 92.8l-3.3 .3M263.7 94.2l-3.3-2.6M264.6 93l-3.3-.3M265.5 92.3l-3.3-.5M266.4 93l-3.3-2.5M267.3 93.5l-3.3-3.8M268.2 92.9l-3.3-1.5M269.1 89.2l-3.3 1.7M270 90.4l-3.3 .8M270.9 90.4l-3.3 .9M271.8 91l-3.3-1.8M272.7 92l-3.3-2.9M273.6 91.1l-3.3-1.6M274.5 90.2l-3.3 0M275.4 88.2l-3.3-.4M276.3 89.6l-3.3-2.2M277.2 87.3l-3.3 1M278.1 88.9l-3.3-.2M279 89.8l-3.3-3.3M279.9 88.9l-3.3-2.9M280.8 87.6l-3.3-1.5M281.7 86l-3.3-.5M282.6 87.6l-3.3-1.4M283.5 85.5l-3.3 .3M284.4 88.4l-3.3-4.5M285.3 84.6l-3.3-2.5M286.2 87.2l-3.3-3.1M287.1 85.7l-3.3 .3M288 85.3l-3.3-.4M288.9 86.1l-3.3-2.6M289.8 85.8l-3.3-.4M290.7 84.6l-3.3-.5M291.6 84.6l-3.3 0M292.5 84.8l-3.3-.8M293.3 85.9l-3.3-4.6M294.2 82.4l-3.3 .4M295.1 85.3l-3.3-2.7M296 81.4l-3.3 1.2M296.9 84l-3.3-5.3M297.8 84l-3.3-5.9M298.7 81.9l-3.3-2.1M299.6 82.7l-3.3-1.1M300.5 81.7l-3.3-1M301.4 83.2l-3.3-1.5M302.3 79.9l-3.3 1.6M303.2 80.3l-3.3-4.4M304.1 80.8l-3.3-.6M305 82.2l-3.3-3M305.9 79.9l-3.3-0M306.8 79.4l-3.3-1.2M307.7 81l-3.3-5.3M308.6 80.7l-3.3-2.7M225.4 103.9l.9-2.6M226.3 101.3l.9 1.9M227.2 103.2l.9-1M228.1 102.2l.9-.3M229 101.9l.9 .1M229.9 102l.9-1.3M230.8 100.8l.9 1.2M231.7 102l.9-.8M232.6 101.2l.9-1.9M233.5 99.3l.9 .4M234.4 99.7l.9 1.2M235.3 100.9l.9-.3M236.2 100.6l.9 .2M237.1 100.8l.9-1.4M238 99.5l.9-5M238.9 94.5l.9 4.4M239.8 98.9l.9-0M240.7 98.9l.9-.2M241.6 98.7l.9-2.2M242.5 96.5l.9 1.5M243.3 98l.9 .6M244.2 98.7l.9-3.3M245.1 95.4l.9 1.2M246 96.6l.9 1.3M246.9 97.9l.9-.8M247.8 97.1l.9-5.2M248.7 91.9l.9-1.6M249.6 90.3l.9 4M250.5 94.3l.9-.9M251.4 93.5l.9-.8M252.3 92.7l.9-1M253.2 91.7l.9 2.6M254.1 94.3l.9-1.7M255 92.6l.9 1M255.9 93.6l.9 1.1M256.8 94.7l.9-.3M257.7 94.3l.9-2.5M258.6 91.9l.9 1.3M259.5 93.2l.9-1.5M260.4 91.6l.9 1.1M261.3 92.7l.9-.9M262.2 91.8l.9-1.3M263.1 90.5l.9-.8M264 89.7l.9 1.7M264.9 91.3l.9-.4M265.8 90.9l.9 .3M266.7 91.2l.9 0M267.6 91.3l.9-2M268.5 89.3l.9-.1M269.4 89.2l.9 .4M270.3 89.6l.9 .7M271.2 90.3l.9-2.4M272.1 87.8l.9-.5M273 87.4l.9 1M273.9 88.3l.9 .4M274.8 88.7l.9-2.2M275.7 86.5l.9-.5M276.6 86l.9 .1M277.5 86.1l.9-.6M278.4 85.5l.9 .7M279.3 86.2l.9-.4M280.2 85.8l.9-1.8M281.1 84l.9-1.8M282 82.1l.9 2M282.9 84.1l.9 1.8M283.7 86l.9-1M284.6 84.9l.9-1.4M285.5 83.5l.9 1.9M286.4 85.4l.9-1.3M287.3 84.1l.9 .5M288.2 84.6l.9-.7M289.1 83.9l.9-2.6M290 81.3l.9 1.5M290.9 82.8l.9-.2M291.8 82.6l.9-0M292.7 82.6l.9-3.9M293.6 78.7l.9-.6M294.5 78.1l.9 1.7M295.4 79.8l.9 1.8M296.3 81.6l.9-.9M297.2 80.7l.9 1M298.1 81.7l.9-.3M299 81.4l.9-5.5M299.9 75.9l.9 4.3M300.8 80.3l.9-1M301.7 79.3l.9 .6M302.6 79.8l.9-1.7M303.5 78.1l.9-2.5M304.4 75.7l.9 2.4" stroke="#3834dc" stroke-width="0.85" fill="none"/>
<path d="M228.7 104.3l.9 1.4 .9-1 .9-1.9 .9 .5 .9-.2 .9-2.9 .9 2.2 .9 .5 .9-.1 .9 .1 .9-.5 .9-.4 .9-4.8 .9 4.1 .9-1.8 .9 1.1 .9-.9 .9-0 .9 .9 .9-2.5 .9 .6 .9 .2 .8-.1 .9-2.5 .9 1.2 .9-6 .9-1.8 .9 4.9 .9 1.3 .9-.6 .9-.1 .9-.9 .9 2.5 .9-3 .9 .3 .9 1.6 .9-.2 .9-2.7 .9 1.4 .9-1.2 .9-.7 .9 .7 .9 .5 .9-.7 .9-3.6 .9 1.2 .9-0 .9 .6 .9 1 .9-.9 .9-.9 .9-2 .9 1.3 .9-2.2 .9 1.6 .9 .8 .9-.9 .9-1.2 .9-1.6 .9 1.6 .9-2.2 .9 3 .9-3.8 .9 2.6 .9-1.5 .9-.4 .8 .8 .9-.3 .9-1.2 .9-0 .9 .1 .9 1.2 .9-3.5 .9 2.9 .9-3.9 .9 2.6 .9-.1 .9-2.1 .9 .9 .9-1 .9 1.5 .9-3.4 .9 .5 .9 .5 .9 1.4 .9-2.4 .9-.5 .9 1.7 .9-.3 3.3 1 -.9-.8 -.9-.3 -.9-.4 -.9 2.3 -.9 1.1 -.9-.9 -.9 .2 -.9 2 -.9-.1 -.9-.4 -.9-1.1 -.9 2.2 -.9-.1 -.9-1.2 -.9-1.4 -.8 3.2 -.9 1.2 -.9 .3 -.9 .5 -.9-1.9 -.9-.8 -.9 1.3 -.9 2 -.9-1.3 -.9 1.9 -.9-1.4 -.9 1.5 -.9 1.1 -.9 .4 -.9-.5 -.9-1.6 -.9 1.4 -.9-.3 -.9-.2 -.9 .3 -.9 1.6 -.9 1.2 -.9-.9 -.9 1.2 -.9 .3 -.9-1.8 -.9-.2 -.9 2.7 -.9 .4 -.9-.6 -.9-.7 -.9-.3 -.9 3.2 -.9-3 -.9 2.2 -.9 .7 -.9-3.8 -.9 3.7 -.9-1.9 -.9 3.9 -.9-1.6 -.9 1.9 -.9-.3 -.9 1.1 -.8 .3 -.9-3.9 -.9-5.4 -.9 2 -.9 6.4 -.9 1.6 -.9-0 -.9 1 -.9-.6 -.9-.2 -.9-2.1 -.9 2.3 -.9 .8 -.9-.4 -.9 1.4 -.9 0 -.9 .2 -.9 .9 -.9-.8 -.9 2.3 -.9-2.6 -.9 .1 -.9 1.6 -.9 1.1 -.9-.5 -.9 1.6 -.9 .5 -.9-2.5 -.9 1.9 -.9-2z" fill="#fff"/>
<path d="M232 103.9l-3.3 .4M232.9 105.9l-3.3-.2M233.8 104l-3.3 .7M234.7 106.5l-3.3-3.7M235.6 106.1l-3.3-2.7M236.5 104.5l-3.3-1.3M237.4 104.9l-3.3-4.7M238.3 103.8l-3.3-1.3M239.2 102.3l-3.3 .6M240.1 102.1l-3.3 .7M241 104.7l-3.3-1.8M241.9 102.5l-3.3-0M242.8 103.2l-3.3-1.2M243.7 102.3l-3.3-5.1M244.6 102.1l-3.3-.8M245.5 102.1l-3.3-2.6M246.4 100.7l-3.3-.1M247.3 101.1l-3.3-1.3M248.2 100.3l-3.3-.6M249.1 98.1l-3.3 2.6M250 100.2l-3.3-2M250.9 100.3l-3.3-1.5M251.8 101l-3.3-2M252.7 99.9l-3.3-1.1M253.6 100l-3.3-3.6M254.5 98.3l-3.3-.8M255.4 91.9l-3.3-.4M256.3 90l-3.3-.3M257.2 95.4l-3.3-.8M258.1 99.3l-3.3-3.4M259 98.9l-3.3-3.6M259.9 97.8l-3.3-2.6M260.8 98.1l-3.3-3.7M261.7 96.2l-3.3 .6M262.5 97.8l-3.3-3.9M263.4 93.9l-3.3 .2M264.3 95.9l-3.3-.2M265.2 92.1l-3.3 3.4M266.1 96l-3.3-3.2M267 95.2l-3.3-1M267.9 93l-3.3-0M268.8 96l-3.3-3.7M269.7 92.9l-3.3 .1M270.6 93.1l-3.3 .4M271.5 93.8l-3.3-1M272.4 94.4l-3.3-5.2M273.3 94l-3.3-3.6M274.2 91.4l-3.3-.9M275.1 91.6l-3.3-.5M276 93.3l-3.3-1.3M276.9 93l-3.3-1.9M277.8 91.8l-3.3-1.6M278.7 92.8l-3.3-4.5M279.6 91.5l-3.3-1.9M280.5 90l-3.3-2.7M281.4 89.7l-3.3-.8M282.3 89.8l-3.3-0M283.2 90.1l-3.3-1.2M284.1 88.7l-3.3-1.1M285 90.3l-3.3-4.3M285.9 90.8l-3.3-3.2M286.8 90.4l-3.3-4.9M287.7 89.3l-3.3-.9M288.6 87.9l-3.3-3.2M289.5 89.2l-3.3-2M290.4 87.4l-3.3-1.7M291.3 88.6l-3.3-3.3M292.2 86.7l-3.3-.5M293.1 85.3l-3.3 .5M294 86.1l-3.3-1.5M294.9 88l-3.3-3.4M295.8 87.5l-3.3-2.7M296.7 87.3l-3.3-1.4M297.6 86.1l-3.3-3.6M298.5 82.9l-3.3 2.4M299.4 84.3l-3.3-2.9M300.3 85.5l-3.3-1.4M301.2 85.5l-3.3-1.5M302.1 83.3l-3.3-1.4M302.9 84.5l-3.3-1.8M303.8 84.8l-3.3-3.1M304.7 84.9l-3.3-1.7M305.6 82.9l-3.3-3.1M306.5 82.8l-3.3-2.5M307.4 83.6l-3.3-2.8M308.3 82.5l-3.3-.2M309.2 80.2l-3.3-.3M310.1 80.6l-3.3-1.3M311 80.9l-3.3 .1M311.9 81.7l-3.3-1M228.7 104.3l.9 1.4M229.6 105.8l.9-1M230.5 104.7l.9-1.9M231.4 102.9l.9 .5M232.3 103.3l.9-.2M233.2 103.1l.9-2.9M234.1 100.2l.9 2.3M235 102.5l.9 .4M235.9 102.9l.9-0M236.8 102.8l.9 .1M237.7 102.9l.9-.5M238.6 102.4l.9-.4M239.5 102l.9-4.8M240.4 97.2l.9 4.2M241.3 101.4l.9-1.8M242.2 99.6l.9 1M243.1 100.6l.9-.9M244 99.7l.9-0M244.9 99.7l.9 .9M245.8 100.6l.9-2.5M246.7 98.1l.9 .6M247.6 98.8l.9 .2M248.5 99l.9-.1M249.4 98.9l.9-2.5M250.3 96.4l.9 1.2M251.2 97.5l.9-6M252.1 91.5l.9-1.8M252.9 89.7l.9 4.9M253.8 94.6l.9 1.3M254.7 95.9l.9-.6M255.6 95.3l.9-.1M256.5 95.3l.9-.9M257.4 94.4l.9 2.5M258.3 96.8l.9-3M259.2 93.9l.9 .2M260.1 94.1l.9 1.6M261 95.7l.9-.2M261.9 95.5l.9-2.7M262.8 92.8l.9 1.4M263.7 94.2l.9-1.2M264.6 93l.9-.7M265.5 92.3l.9 .7M266.4 93l.9 .5M267.3 93.5l.9-.6M268.2 92.9l.9-3.6M269.1 89.2l.9 1.2M270 90.4l.9 0M270.9 90.4l.9 .6M271.8 91l.9 1M272.7 92l.9-.9M273.6 91.1l.9-.9M274.5 90.2l.9-2M275.4 88.2l.9 1.3M276.3 89.6l.9-2.2M277.2 87.3l.9 1.6M278.1 88.9l.9 .9M279 89.8l.9-.9M279.9 88.9l.9-1.2M280.8 87.6l.9-1.6M281.7 86l.9 1.6M282.6 87.6l.9-2.1M283.5 85.5l.9 2.9M284.4 88.4l.9-3.8M285.3 84.6l.9 2.6M286.2 87.2l.9-1.6M287.1 85.7l.9-.4M288 85.3l.9 .8M288.9 86.1l.9-.3M289.8 85.8l.9-1.2M290.7 84.6l.9 0M291.6 84.6l.9 .1M292.5 84.8l.9 1.1M293.3 85.9l.9-3.5M294.2 82.4l.9 2.8M295.1 85.3l.9-3.9M296 81.4l.9 2.6M296.9 84l.9-.1M297.8 84l.9-2.1M298.7 81.9l.9 .8M299.6 82.7l.9-1M300.5 81.7l.9 1.5M301.4 83.2l.9-3.4M302.3 79.9l.9 .5M303.2 80.3l.9 .5M304.1 80.8l.9 1.4M305 82.2l.9-2.4M305.9 79.9l.9-.5M306.8 79.4l.9 1.6M307.7 81l.9-.3" stroke="#3834dc" stroke-width="0.85" fill="none"/>
<path d="M232 103.9l.9 2 .9-1.9 .9 2.5 .9-.5 .9-1.6 .9 .5 .9-1.1 .9-1.6 .9-.1 .9 2.6 .9-2.3 .9 .8 .9-1 .9-.1 .9-0 .9-1.4 .9 .3 .9-.7 .9-2.3 .9 2.1 .9 .1 .9 .7 .8-1 .9 0 .9-1.6 .9-6.4 .9-2 .9 5.4 .9 3.9 .9-.3 .9-1.1 .9 .3 .9-1.9 .9 1.6 .9-3.9 .9 1.9 .9-3.7 .9 3.8 .9-.7 .9-2.2 .9 2.9 .9-3.1 .9 .3 .9 .7 .9 .6 .9-.4 .9-2.7 .9 .2 .9 1.8 .9-.3 .9-1.2 .9 .9 .9-1.2 .9-1.6 .9-.3 .9 .2 .9 .3 .9-1.4 .9 1.6 .9 .5 .9-.4 .9-1.1 .9-1.5 .9 1.4 .9-1.9 .9 1.3 .8-2 .9-1.3 .9 .8 .9 1.9 .9-.5 .9-.3 .9-1.2 .9-3.2 .9 1.4 .9 1.2 .9 .1 .9-2.2 .9 1.1 .9 .4 .9 0 .9-1.9 .9-.2 .9 .9 .9-1.2 .9-2.2 .9 .4 .9 .3 .9 .8 3.3 1 -.9 1.1 -.9-.6 -.9 .2 -.9 .6 -.9 1 -.9-1 -.9 2.1 -.9-.3 -.9-2.7 -.9-.2 -.9 .6 -.9-0 -.9 2.3 -.9 1.6 -.9-1.3 -.8-0 -.9 1.9 -.9-.3 -.9 1.8 -.9-3.2 -.9 3.4 -.9-.9 -.9 1.7 -.9-1.1 -.9 1.8 -.9 .1 -.9-1.2 -.9 1 -.9 1.3 -.9-2.9 -.9 3.2 -.9-0 -.9-1.5 -.9 2.4 -.9-.2 -.9 .6 -.9-.2 -.9-1.6 -.9 1.8 -.9 0 -.9-.7 -.9 1.6 -.9 0 -.9-.7 -.9 2.2 -.9-3.4 -.9 4.3 -.9-1.4 -.9-.8 -.9 2.4 -.9-3.4 -.9 4.5 -.9 .5 -.9-1.7 -.9 1 -.9 1.5 -.9-.7 -.9 1.1 -.9-.2 -.8-3.5 -.9 .2 -.9-5.4 -.9 2 -.9 5.2 -.9 2.3 -.9 .3 -.9-1.8 -.9 .7 -.9 .7 -.9 2.5 -.9 .6 -.9-1.8 -.9 2 -.9 .8 -.9-1.5 -.9-1.7 -.9 2 -.9 1.6 -.9-1.3 -.9 1.8 -.9-1.1 -.9-.4 -.9 1.2 -.9 1.9 -.9 .3 -.9-.5 -.9-2.2 -.9 3.9 -.9-2.3z" fill="#fff"/>
<path d="M235.3 106.6l-3.3-2.7M236.2 108.9l-3.3-3M237.1 105.1l-3.3-1M238 107.2l-3.3-.7M238.9 107.8l-3.3-1.7M239.8 107.4l-3.3-3M240.7 105.5l-3.3-.6M241.6 104.3l-3.3-.5M242.5 104.7l-3.3-2.4M243.4 105.8l-3.3-3.7M244.3 104.1l-3.3 .6M245.2 105.4l-3.3-2.9M246.1 103.7l-3.3-.5M247 101.8l-3.3 .5M247.9 103.4l-3.3-1.3M248.8 105l-3.3-2.9M249.7 104.1l-3.3-3.4M250.6 102.1l-3.3-1M251.5 104l-3.3-3.7M252.4 103.4l-3.3-5.3M253.3 100.8l-3.3-.6M254.2 100.2l-3.3 .1M255.1 99.4l-3.3 1.5M256 101.2l-3.3-1.3M256.9 101l-3.3-1M257.8 98.7l-3.3-.3M258.7 93.4l-3.3-1.5M259.6 91.4l-3.3-1.5M260.5 96.9l-3.3-1.5M261.4 96.7l-3.3 2.6M262.3 100.1l-3.3-1.2M263.2 100.4l-3.3-2.5M264.1 99.2l-3.3-1.1M265 99.9l-3.3-3.7M265.9 98.5l-3.3-.7M266.8 97.4l-3.3-3.5M267.7 99.1l-3.3-3.3M268.6 98.6l-3.3-6.5M269.5 94.1l-3.3 1.9M270.4 97.6l-3.3-2.3M271.3 95.1l-3.3-2.1M272.1 96l-3.3-0M273 97.4l-3.3-4.5M273.9 93.1l-3.3 .1M274.8 96.4l-3.3-2.6M275.7 94.3l-3.3 .1M276.6 95l-3.3-.9M277.5 94.9l-3.3-3.6M278.4 93.3l-3.3-1.8M279.3 94l-3.3-.7M280.2 94l-3.3-.9M281.1 92.2l-3.3-.4M282 93.8l-3.3-1M282.9 94.1l-3.3-2.6M283.8 93.4l-3.3-3.4M284.7 93.7l-3.3-4M285.6 91.2l-3.3-1.4M286.5 92.7l-3.3-2.6M287.4 92.8l-3.3-4.1M288.3 89.5l-3.3 .8M289.2 92.4l-3.3-1.6M290.1 91.2l-3.3-.8M291 90.1l-3.3-.8M291.9 91.4l-3.3-3.5M292.8 91.2l-3.3-2M293.7 89.5l-3.3-2.1M294.6 90.5l-3.3-1.9M295.5 88.8l-3.3-2.2M296.4 89.8l-3.3-4.5M297.3 86.3l-3.3-.2M298.2 89.6l-3.3-1.6M299.1 87.7l-3.3-.2M300 88.1l-3.3-.8M300.9 86.1l-3.3-.1M301.8 86.1l-3.3-3.3M302.7 87.5l-3.3-3.2M303.6 85.8l-3.3-.3M304.5 83.5l-3.3 2M305.4 83.6l-3.3-.3M306.3 83l-3.3 1.5M307.2 83.1l-3.3 1.7M308.1 85.8l-3.3-.9M309 86.2l-3.3-3.2M309.9 84l-3.3-1.2M310.8 85.1l-3.3-1.5M311.7 84.1l-3.3-1.6M312.5 83.4l-3.3-3.2M313.4 83.2l-3.3-2.6M314.3 83.8l-3.3-2.9M315.2 82.8l-3.3-1.1M232 103.9l.9 2M232.9 105.9l.9-1.9M233.8 104l.9 2.5M234.7 106.5l.9-.5M235.6 106.1l.9-1.6M236.5 104.5l.9 .4M237.4 104.9l.9-1.1M238.3 103.8l.9-1.5M239.2 102.3l.9-.2M240.1 102.1l.9 2.6M241 104.7l.9-2.2M241.9 102.5l.9 .7M242.8 103.2l.9-.9M243.7 102.3l.9-.2M244.6 102.1l.9-0M245.5 102.1l.9-1.4M246.4 100.7l.9 .4M247.3 101.1l.9-.8M248.2 100.3l.9-2.2M249.1 98.1l.9 2.1M250 100.2l.9 .1M250.9 100.3l.9 .7M251.8 101l.9-1M252.7 99.9l.9 0M253.6 100l.9-1.6M254.5 98.3l.9-6.4M255.4 91.9l.9-2M256.3 90l.9 5.4M257.2 95.4l.9 3.9M258.1 99.3l.9-.4M259 98.9l.9-1.1M259.9 97.8l.9 .3M260.8 98.1l.9-1.9M261.7 96.2l.9 1.6M262.5 97.8l.9-3.9M263.4 93.9l.9 1.9M264.3 95.9l.9-3.8M265.2 92.1l.9 3.9M266.1 96l.9-.7M267 95.2l.9-2.2M267.9 93l.9 2.9M268.8 96l.9-3.1M269.7 92.9l.9 .3M270.6 93.1l.9 .7M271.5 93.8l.9 .6M272.4 94.4l.9-.4M273.3 94l.9-2.7M274.2 91.4l.9 .2M275.1 91.6l.9 1.8M276 93.3l.9-.3M276.9 93l.9-1.2M277.8 91.8l.9 .9M278.7 92.8l.9-1.3M279.6 91.5l.9-1.5M280.5 90l.9-.3M281.4 89.7l.9 .1M282.3 89.8l.9 .3M283.2 90.1l.9-1.4M284.1 88.7l.9 1.6M285 90.3l.9 .5M285.9 90.8l.9-.4M286.8 90.4l.9-1.1M287.7 89.3l.9-1.4M288.6 87.9l.9 1.4M289.5 89.2l.9-1.9M290.4 87.4l.9 1.3M291.3 88.6l.9-2M292.2 86.7l.9-1.3M293.1 85.3l.9 .8M294 86.1l.9 1.9M294.9 88l.9-.5M295.8 87.5l.9-.2M296.7 87.3l.9-1.2M297.6 86.1l.9-3.2M298.5 82.9l.9 1.4M299.4 84.3l.9 1.2M300.3 85.5l.9 0M301.2 85.5l.9-2.2M302.1 83.3l.9 1.2M302.9 84.5l.9 .3M303.8 84.8l.9 .1M304.7 84.9l.9-2M305.6 82.9l.9-.2M306.5 82.8l.9 .8M307.4 83.6l.9-1.1M308.3 82.5l.9-2.3M309.2 80.2l.9 .4M310.1 80.6l.9 .3M311 80.9l.9 .8" stroke="#3834dc" stroke-width="0.85" fill="none"/>
<path d="M235.3 106.6l.9 2.3 .9-3.8 .9 2.1 .9 .5 .9-.3 .9-1.9 .9-1.2 .9 .4 .9 1.1 .9-1.8 .9 1.3 .9-1.6 .9-2 .9 1.7 .9 1.6 .9-.9 .9-2 .9 1.9 .9-.6 .9-2.6 .9-.6 .9-.8 .8 1.8 .9-.3 .9-2.3 .9-5.2 .9-2 .9 5.5 .9-.2 .9 3.4 .9 .2 .9-1.1 .9 .7 .9-1.4 .9-1.1 .9 1.7 .9-.5 .9-4.5 .9 3.5 .9-2.5 .9 .9 .9 1.3 .9-4.2 .9 3.3 .9-2.1 .9 .7 .9-.1 .9-1.6 .9 .7 .9-0 .9-1.8 .9 1.6 .9 .3 .9-.7 .9 .3 .9-2.5 .9 1.5 .9 .1 .9-3.3 .9 2.9 .9-1.2 .9-1.1 .9 1.3 .9-.2 .9-1.7 .9 1 .8-1.7 .9 1 .9-3.5 .9 3.2 .9-1.8 .9 .4 .9-2 .9 0 .9 1.4 .9-1.7 .9-2.3 .9 .1 .9-.6 .9 .1 .9 2.7 .9 .4 .9-2.2 .9 1.1 .9-1 .9-.7 .9-.2 .9 .6 .9-1 3.3 1.8 -.9 .8 -.9-1.4 -.9 .9 -.9-1.2 -.9 .5 -.9 .1 -.9 2.7 -.9 .1 -.9 1.2 -.9 .2 -.9-2.8 -.9 1.9 -.9-1.1 -.9 2.1 -.9-1.3 -.8 .9 -.9-.8 -.9 .2 -.9 1 -.9 2.3 -.9-.7 -.9 1.2 -.9-2.6 -.9 2 -.9-2.1 -.9 3.3 -.9 1.2 -.9-.2 -.9-.6 -.9 1.3 -.9 .4 -.9 .2 -.9-2.8 -.9 2.1 -.9 1.7 -.9 .4 -.9-1.1 -.9-.6 -.9 1.5 -.9-.2 -.9-.7 -.9 2.1 -.9 .9 -.9 .4 -.9 .3 -.9 .2 -.9-1.3 -.9 1.3 -.9 1.1 -.9-2.2 -.9 1.1 -.9 1.4 -.9-1.6 -.9 2 -.9 .6 -.9 .6 -.9-1.8 -.9 1.9 -.9 .6 -.8-3.9 -.9 .8 -.9-5 -.9 1.9 -.9 4.6 -.9 1 -.9 1.7 -.9 .9 -.9 .6 -.9-3.5 -.9 1 -.9-.7 -.9 2.8 -.9 1 -.9-3 -.9 2.4 -.9 1.2 -.9-.7 -.9 0 -.9 2.4 -.9-.6 -.9-.9 -.9 1.7 -.9-1.6 -.9 1.6 -.9-2.2 -.9 3.3 -.9-.6 -.9 .6 -.9 1.4z" fill="#fff"/>
<path d="M238.7 110.4l-3.3-3.8M239.6 109l-3.3-.1M240.5 108.4l-3.3-3.3M241.4 109l-3.3-1.8M242.2 105.7l-3.3 2M243.1 108l-3.3-.5M244 106.3l-3.3-.8M244.9 107.9l-3.3-3.6M245.8 106.2l-3.3-1.5M246.7 107.1l-3.3-1.3M247.6 107.7l-3.3-3.6M248.5 105.3l-3.3 0M249.4 105.3l-3.3-1.6M250.3 106l-3.3-4.3M251.2 104.8l-3.3-1.4M252.1 102.4l-3.3 2.6M253 105.4l-3.3-1.3M253.9 104.4l-3.3-2.3M254.8 101.6l-3.3 2.3M255.7 102.3l-3.3 1.1M256.6 101.4l-3.3-.5M257.5 104.8l-3.3-4.6M258.4 104.2l-3.3-4.7M259.3 103.3l-3.3-2.1M260.2 101.6l-3.3-.7M261.1 100.6l-3.3-1.9M262 96l-3.3-2.6M262.9 94.1l-3.3-2.7M263.8 99.1l-3.3-2.2M264.7 98.3l-3.3-1.6M265.6 102.2l-3.3-2.1M266.5 101.6l-3.3-1.3M267.4 99.7l-3.3-.5M268.3 101.6l-3.3-1.6M269.2 100.9l-3.3-2.4M270.1 100.3l-3.3-2.8M271 98.3l-3.3 .9M271.9 99.9l-3.3-1.3M272.8 98.5l-3.3-4.4M273.7 97.4l-3.3 .2M274.6 99.6l-3.3-4.5M275.5 98.5l-3.3-2.5M276.4 97.2l-3.3 .2M277.3 98.5l-3.3-5.5M278.2 98.3l-3.3-1.9M279.1 98l-3.3-3.8M280 97.6l-3.3-2.7M280.9 96.7l-3.3-1.8M281.8 94.6l-3.3-1.2M282.6 95.3l-3.3-1.2M283.5 95.5l-3.3-1.5M284.4 94l-3.3-1.8M285.3 94.6l-3.3-.8M286.2 95.7l-3.3-1.6M287.1 95.3l-3.3-1.9M288 93.7l-3.3 0M288.9 91.5l-3.3-.3M289.8 94.3l-3.3-1.6M290.7 94.1l-3.3-1.4M291.6 93.7l-3.3-4.2M292.5 92.4l-3.3-0M293.4 93l-3.3-1.9M294.3 93.2l-3.3-3.1M295.2 92l-3.3-.6M296.1 88.7l-3.3 2.5M297 90.8l-3.3-1.3M297.9 88.8l-3.3 1.7M298.8 91.4l-3.3-2.5M299.7 90.2l-3.3-.5M300.6 90.9l-3.3-4.6M301.5 88.6l-3.3 1M302.4 87.7l-3.3 .1M303.3 87.4l-3.3 .7M304.2 88.2l-3.3-2.1M305.1 87.3l-3.3-1.2M306 88.6l-3.3-1.1M306.9 86.5l-3.3-.7M307.8 87.7l-3.3-4.1M308.7 85.7l-3.3-2.1M309.6 88.5l-3.3-5.5M310.5 88.3l-3.3-5.2M311.4 87.1l-3.3-1.3M312.3 87l-3.3-.8M313.2 84.3l-3.3-.4M314.1 84.2l-3.3 .9M315 83.7l-3.3 .3M315.9 84.9l-3.3-1.5M316.8 84l-3.3-.8M317.7 85.4l-3.3-1.6M318.6 84.6l-3.3-1.8M235.3 106.6l.9 2.3M236.2 108.9l.9-3.9M237.1 105.1l.9 2.1M238 107.2l.9 .6M238.9 107.8l.9-.3M239.8 107.4l.9-1.9M240.7 105.5l.9-1.2M241.6 104.3l.9 .3M242.5 104.7l.9 1.1M243.4 105.8l.9-1.8M244.3 104.1l.9 1.3M245.2 105.4l.9-1.7M246.1 103.7l.9-1.9M247 101.8l.9 1.7M247.9 103.4l.9 1.6M248.8 105l.9-.9M249.7 104.1l.9-2M250.6 102.1l.9 1.9M251.5 104l.9-.6M252.4 103.4l.9-2.6M253.3 100.8l.9-.6M254.2 100.2l.9-.7M255.1 99.4l.9 1.8M256 101.2l.9-.3M256.9 101l.9-2.3M257.8 98.7l.9-5.2M258.7 93.4l.9-2M259.6 91.4l.9 5.4M260.5 96.9l.9-.2M261.4 96.7l.9 3.4M262.3 100.1l.9 .2M263.2 100.4l.9-1.1M264.1 99.2l.9 .7M265 99.9l.9-1.5M265.9 98.5l.9-1.1M266.8 97.4l.9 1.7M267.7 99.1l.9-.5M268.6 98.6l.9-4.5M269.5 94.1l.9 3.5M270.4 97.6l.9-2.4M271.3 95.1l.9 .9M272.1 96l.9 1.4M273 97.4l.9-4.3M273.9 93.1l.9 3.3M274.8 96.4l.9-2.1M275.7 94.3l.9 .7M276.6 95l.9-0M277.5 94.9l.9-1.6M278.4 93.3l.9 .7M279.3 94l.9-.1M280.2 94l.9-1.8M281.1 92.2l.9 1.6M282 93.8l.9 .3M282.9 94.1l.9-.6M283.8 93.4l.9 .2M284.7 93.7l.9-2.5M285.6 91.2l.9 1.5M286.5 92.7l.9 .1M287.4 92.8l.9-3.2M288.3 89.5l.9 2.9M289.2 92.4l.9-1.2M290.1 91.2l.9-1.1M291 90.1l.9 1.3M291.9 91.4l.9-.2M292.8 91.2l.9-1.7M293.7 89.5l.9 1.1M294.6 90.5l.9-1.7M295.5 88.8l.9 .9M296.4 89.8l.9-3.4M297.3 86.3l.9 3.2M298.2 89.6l.9-1.8M299.1 87.7l.9 .3M300 88.1l.9-1.9M300.9 86.1l.9 0M301.8 86.1l.9 1.3M302.7 87.5l.9-1.7M303.6 85.8l.9-2.3M304.5 83.5l.9 0M305.4 83.6l.9-.6M306.3 83l.9 .1M307.2 83.1l.9 2.7M308.1 85.8l.9 .4M309 86.2l.9-2.2M309.9 84l.9 1.1M310.8 85.1l.9-1M311.7 84.1l.9-.6M312.5 83.4l.9-.2M313.4 83.2l.9 .6M314.3 83.8l.9-1" stroke="#3834dc" stroke-width="0.85" fill="none"/>
<path d="M238.7 110.4l.9-1.4 .9-.6 .9 .6 .9-3.3 .9 2.2 .9-1.6 .9 1.6 .9-1.7 .9 .9 .9 .5 .9-2.3 .9-0 .9 .7 .9-1.2 .9-2.4 .9 3 .9-1 .9-2.8 .9 .6 .9-.9 .9 3.5 .9-.7 .8-.8 .9-1.7 .9-1 .9-4.6 .9-1.9 .9 5 .9-.8 .9 3.9 .9-.6 .9-1.9 .9 1.8 .9-.6 .9-.6 .9-2.1 .9 1.7 .9-1.4 .9-1.1 .9 2.2 .9-1.1 .9-1.3 .9 1.3 .9-.2 .9-.3 .9-.4 .9-.9 .9-2.2 .9 .7 .9 .3 .9-1.5 .9 .6 .9 1.1 .9-.4 .9-1.7 .9-2.1 .9 2.8 .9-.2 .9-.4 .9-1.3 .9 .6 .9 .2 .9-1.3 .9-3.2 .9 2.1 .9-2 .8 2.5 .9-1.1 .9 .7 .9-2.4 .9-.9 .9-.3 .9 .9 .9-.9 .9 1.3 .9-2.2 .9 1.2 .9-1.9 .9 2.8 .9-.2 .9-1.2 .9-.1 .9-2.7 .9-.1 .9-.5 .9 1.2 .9-.9 .9 1.4 .9-.9 3.3-.4 -.9 .9 -.9 1.1 -.9 .9 -.9-.3 -.9 1.3 -.9 .6 -.9-2.3 -.9 1.4 -.9-1.2 -.9 2.2 -.9 .1 -.9 0 -.9 1 -.9-1.1 -.9 .8 -.8-1.3 -.9 2.6 -.9 1.2 -.9 .4 -.9 .2 -.9-3.8 -.9 3.3 -.9-1.3 -.9 1.6 -.9 1.3 -.9-2 -.9 1.9 -.9-1.2 -.9 .1 -.9 2.6 -.9-.1 -.9-1.1 -.9-0 -.9 2 -.9 1.1 -.9-6.3 -.9 6.2 -.9-1 -.9 1.2 -.9 .4 -.9 .9 -.9-4.2 -.9 3.1 -.9 1.5 -.9 .7 -.9-1.2 -.9-.7 -.9 1.9 -.9 .9 -.9-.6 -.9 1.6 -.9-.4 -.9-.2 -.9 0 -.9 1.9 -.9 .3 -.9-3.3 -.9 2.7 -.9-.6 -.8-1 -.9 1.1 -.9-4.1 -.9 1.6 -.9 2.4 -.9 3 -.9-2 -.9 1.5 -.9 2 -.9-1 -.9 .1 -.9 .9 -.9 .4 -.9-.5 -.9-.3 -.9 2.3 -.9-1.1 -.9 .9 -.9 1.3 -.9-1 -.9 .2 -.9 1.4 -.9-.5 -.9-1.6 -.9 1.7 -.9 1.5 -.9-.3 -.9-1 -.9 .9 -.9-4.1z" fill="#fff"/>
<path d="M242 106.5l-3.3 3.9M242.9 110.7l-3.3-1.7M243.8 109.7l-3.3-1.3M244.7 110.8l-3.3-1.7M245.6 111l-3.3-5.3M246.5 109.5l-3.3-1.6M247.4 107.8l-3.3-1.6M248.3 109.5l-3.3-1.5M249.2 109.9l-3.3-3.7M250.1 108.5l-3.3-1.4M251 108.3l-3.3-.7M251.8 109.3l-3.3-4M252.7 108l-3.3-2.7M253.6 107.1l-3.3-1.1M254.5 108.2l-3.3-3.4M255.4 105.9l-3.3-3.5M256.3 106.2l-3.3-.8M257.2 106.7l-3.3-2.3M258.1 106.4l-3.3-4.7M259 105.5l-3.3-3.2M259.9 105.3l-3.3-3.9M260.8 106.3l-3.3-1.5M261.7 104.3l-3.3-.1M262.6 102.8l-3.3 .5M263.5 104.8l-3.3-3.2M264.4 101.8l-3.3-1.3M265.3 99.4l-3.3-3.4M266.2 97.8l-3.3-3.6M267.1 101.9l-3.3-2.8M268 100.8l-3.3-2.5M268.9 101.8l-3.3 .4M269.8 102.4l-3.3-.8M270.7 99.7l-3.3 0M271.6 103.1l-3.3-1.5M272.5 102.7l-3.3-1.8M273.4 100.9l-3.3-.6M274.3 100.8l-3.3-2.5M275.2 101l-3.3-1.1M276.1 101.5l-3.3-3M277 99.9l-3.3-2.5M277.9 100.4l-3.3-.8M278.8 99.5l-3.3-1M279.7 97.6l-3.3-.5M280.6 98.3l-3.3 .2M281.5 99.6l-3.3-1.3M282.4 98.8l-3.3-.7M283.3 97.3l-3.3 .4M284.2 94.2l-3.3 2.5M285.1 98.5l-3.3-3.9M286 97.6l-3.3-2.3M286.9 97.1l-3.3-1.6M287.8 95.9l-3.3-1.9M288.7 96.9l-3.3-2.3M289.6 90.7l-3.3 5M290.5 97l-3.3-1.7M291.4 95.9l-3.3-2.3M292.2 93.9l-3.3-2.4M293.1 94l-3.3 .3M294 95.1l-3.3-1M294.9 95.1l-3.3-1.4M295.8 92.5l-3.3-.1M296.7 92.5l-3.3 .6M297.6 93.7l-3.3-.4M298.5 91.7l-3.3 .3M299.4 93.7l-3.3-5M300.3 92.4l-3.3-1.6M301.2 90.8l-3.3-2M302.1 92.1l-3.3-.7M303 88.8l-3.3 1.4M303.9 92.6l-3.3-1.6M304.8 92.4l-3.3-3.9M305.7 92l-3.3-4.4M306.6 90.9l-3.3-3.5M307.5 88.2l-3.3 0M308.4 89.5l-3.3-2.2M309.3 88.7l-3.3-.2M310.2 89.8l-3.3-3.4M311.1 88.8l-3.3-1.2M312 88.8l-3.3-3.1M312.9 88.8l-3.3-.3M313.8 86.5l-3.3 1.8M314.7 87.7l-3.3-.7M315.6 86.3l-3.3 .7M316.5 88.6l-3.3-4.3M317.4 88l-3.3-3.8M318.3 86.7l-3.3-3M319.2 87l-3.3-2.1M320.1 86.1l-3.3-2.1M321 85.1l-3.3 .3M321.9 84.1l-3.3 .5M238.7 110.4l.9-1.4M239.6 109l.9-.6M240.5 108.4l.9 .6M241.4 109l.9-3.3M242.2 105.7l.9 2.2M243.1 108l.9-1.7M244 106.3l.9 1.7M244.9 107.9l.9-1.8M245.8 106.2l.9 .9M246.7 107.1l.9 .5M247.6 107.7l.9-2.3M248.5 105.3l.9-0M249.4 105.3l.9 .7M250.3 106l.9-1.2M251.2 104.8l.9-2.4M252.1 102.4l.9 3M253 105.4l.9-1M253.9 104.4l.9-2.8M254.8 101.6l.9 .6M255.7 102.3l.9-.9M256.6 101.4l.9 3.4M257.5 104.8l.9-.6M258.4 104.2l.9-.9M259.3 103.3l.9-1.7M260.2 101.6l.9-1M261.1 100.6l.9-4.6M262 96l.9-1.9M262.9 94.1l.9 5M263.8 99.1l.9-.8M264.7 98.3l.9 3.9M265.6 102.2l.9-.6M266.5 101.6l.9-1.9M267.4 99.7l.9 1.8M268.3 101.6l.9-.6M269.2 100.9l.9-.6M270.1 100.3l.9-2M271 98.3l.9 1.7M271.9 99.9l.9-1.4M272.8 98.5l.9-1.1M273.7 97.4l.9 2.2M274.6 99.6l.9-1.1M275.5 98.5l.9-1.3M276.4 97.2l.9 1.3M277.3 98.5l.9-.2M278.2 98.3l.9-.2M279.1 98l.9-.4M280 97.6l.9-.9M280.9 96.7l.9-2.2M281.8 94.6l.9 .7M282.6 95.3l.9 .3M283.5 95.5l.9-1.5M284.4 94l.9 .6M285.3 94.6l.9 1M286.2 95.7l.9-.4M287.1 95.3l.9-1.6M288 93.7l.9-2.2M288.9 91.5l.9 2.8M289.8 94.3l.9-.2M290.7 94.1l.9-.4M291.6 93.7l.9-1.3M292.5 92.4l.9 .6M293.4 93l.9 .2M294.3 93.2l.9-1.3M295.2 92l.9-3.3M296.1 88.7l.9 2.1M297 90.8l.9-1.9M297.9 88.8l.9 2.5M298.8 91.4l.9-1.1M299.7 90.2l.9 .7M300.6 90.9l.9-2.4M301.5 88.6l.9-.9M302.4 87.7l.9-.3M303.3 87.4l.9 .9M304.2 88.2l.9-1M305.1 87.3l.9 1.3M306 88.6l.9-2.1M306.9 86.5l.9 1.2M307.8 87.7l.9-2M308.7 85.7l.9 2.8M309.6 88.5l.9-.1M310.5 88.3l.9-1.3M311.4 87.1l.9-.1M312.3 87l.9-2.7M313.2 84.3l.9-.2M314.1 84.2l.9-.4M315 83.7l.9 1.2M315.9 84.9l.9-.9M316.8 84l.9 1.4M317.7 85.4l.9-.8" stroke="#3834dc" stroke-width="0.85" fill="none"/>
<path d="M242 106.5l.9 4.2 .9-1 .9 1.1 .9 .2 .9-1.4 .9-1.7 .9 1.6 .9 .4 .9-1.3 .9-.2 .9 .9 .9-1.3 .9-.9 .9 1.1 .9-2.3 .9 .3 .9 .5 .9-.3 .9-.9 .9-.2 .9 1 .9-2 .8-1.5 .9 2.1 .9-3 .9-2.5 .9-1.6 .9 4.2 .9-1.2 .9 1.1 .9 .6 .9-2.8 .9 3.4 .9-.4 .9-1.8 .9-.1 .9 .2 .9 .5 .9-1.6 .9 .5 .9-.9 .9-1.8 .9 .6 .9 1.3 .9-.8 .9-1.5 .9-3.1 .9 4.3 .9-.9 .9-.5 .9-1.1 .9 .9 .9-6.2 .9 6.3 .9-1.1 .9-2 .9 .1 .9 1.1 .9 0 .9-2.6 .9-0 .9 1.2 .9-2 .9 2 .9-1.3 .9-1.5 .8 1.2 .9-3.3 .9 3.8 .9-.1 .9-.4 .9-1.2 .9-2.7 .9 1.3 .9-.7 .9 1.1 .9-1 .9-0 .9-.1 .9-2.2 .9 1.2 .9-1.5 .9 2.3 .9-.6 .9-1.2 .9 .2 .9-.8 .9-1.1 .9-1 3.3 4 -.9 .6 -.9-1.6 -.9 2 -.9-.4 -.9 .9 -.9 .6 -.9-3.2 -.9 3.3 -.9 .6 -.9-.2 -.9 .4 -.9-.1 -.9-.1 -.9 1.8 -.9-1.3 -.8-4.8 -.9 6.7 -.9-.1 -.9-1.1 -.9-1.1 -.9 3.2 -.9-.5 -.9-2 -.9 .1 -.9 3.8 -.9-.8 -.9 .9 -.9-.2 -.9-1.7 -.9 1.9 -.9 .1 -.9 1.8 -.9-2 -.9-1.7 -.9 4.1 -.9-.3 -.9-.1 -.9-.4 -.9 .9 -.9 .8 -.9-1.2 -.9 2.2 -.9 .2 -.9-.8 -.9 1.6 -.9 .5 -.9-1.9 -.9 1.9 -.9-.5 -.9 1.7 -.9-5.6 -.9 5.2 -.9-.5 -.9 .5 -.9 2.1 -.9-1.4 -.9 .1 -.9 1 -.9-2.8 -.8 4.4 -.9-.7 -.9-3 -.9 1.3 -.9 2.5 -.9 .7 -.9-1.3 -.9 .9 -.9 .3 -.9-.6 -.9 2.7 -.9-.6 -.9-.2 -.9-.4 -.9 1.5 -.9-0 -.9 .5 -.9 1.2 -.9 .4 -.9-.9 -.9 1.2 -.9-2.4 -.9 1.5 -.9-1.5 -.9-.5 -.9 .1 -.9 2 -.9 3.1 -.9-3.8 -.9 4.3z" fill="#fff"/>
<path d="M245.3 113.9l-3.3-7.4M246.2 109.5l-3.3 1.1M247.1 113.3l-3.3-3.6M248 110.2l-3.3 .5M248.9 108.3l-3.3 2.7M249.8 108.2l-3.3 1.4M250.7 108.7l-3.3-.8M251.6 110.2l-3.3-.7M252.5 108.7l-3.3 1.3M253.4 111.1l-3.3-2.5M254.3 109.9l-3.3-1.6M255.2 110.8l-3.3-1.5M256.1 110.4l-3.3-2.4M257 109.1l-3.3-2M257.9 108.7l-3.3-.4M258.8 108.7l-3.3-2.8M259.7 107.2l-3.3-.9M260.6 107.6l-3.3-.9M261.4 107.8l-3.3-1.5M262.3 108.4l-3.3-3M263.2 105.7l-3.3-.4M264.1 106.3l-3.3 0M265 105.9l-3.3-1.7M265.9 105.1l-3.3-2.3M266.8 106.4l-3.3-1.5M267.7 105.7l-3.3-3.9M268.6 103.2l-3.3-3.8M269.5 101.9l-3.3-4.1M270.4 104.8l-3.3-2.9M271.3 105.6l-3.3-4.8M272.2 101.2l-3.3 .6M273.1 103.9l-3.3-1.5M274 103l-3.3-3.3M274.9 102.9l-3.3 .2M275.8 104.3l-3.3-1.6M276.7 102.2l-3.3-1.3M277.6 101.7l-3.3-.9M278.5 102.2l-3.3-1.2M279.4 97l-3.3 4.4M280.3 102.6l-3.3-2.7M281.2 100.8l-3.3-.5M282.1 101.4l-3.3-1.9M283 99.5l-3.3-1.8M283.9 101.4l-3.3-3.1M284.8 100.9l-3.3-1.3M285.7 99.3l-3.3-.5M286.6 100.1l-3.3-2.9M287.5 99.9l-3.3-5.7M288.4 97.6l-3.3 .8M289.3 98.9l-3.3-1.3M290.2 98.1l-3.3-1M291.1 97.1l-3.3-1.2M292 97.6l-3.3-.7M292.9 97.7l-3.3-7M293.8 98l-3.3-1M294.7 93.8l-3.3 2.1M295.6 95.6l-3.3-1.7M296.5 97.5l-3.3-3.6M297.4 95.8l-3.3-.7M298.3 95.6l-3.3-.6M299.2 93.8l-3.3-1.3M300.1 95.5l-3.3-3.1M301 95.6l-3.3-2M301.8 94.7l-3.3-3.1M302.7 95.6l-3.3-1.9M303.6 91.8l-3.3 .6M304.5 91.7l-3.3-.9M305.4 93.7l-3.3-1.6M306.3 94.1l-3.3-5.4M307.2 91l-3.3 1.6M308.1 92l-3.3 .4M309 93.2l-3.3-1.1M309.9 93.3l-3.3-2.4M310.8 86.6l-3.3 1.6M311.7 91.4l-3.3-1.9M312.6 92.7l-3.3-3.9M313.5 90.8l-3.3-1M314.4 91l-3.3-2.1M315.3 91.1l-3.3-2.2M316.2 90.7l-3.3-2M317.1 90.9l-3.3-4.3M318 90.3l-3.3-2.5M318.9 87l-3.3-.7M319.8 90.2l-3.3-1.6M320.7 89.6l-3.3-1.6M321.6 88.6l-3.3-1.9M322.5 89.1l-3.3-2.1M323.4 87.1l-3.3-.9M324.3 88.7l-3.3-3.7M325.2 88.1l-3.3-4M242 106.5l.9 4.2M242.9 110.7l.9-1M243.8 109.7l.9 1.1M244.7 110.8l.9 .2M245.6 111l.9-1.5M246.5 109.5l.9-1.7M247.4 107.8l.9 1.6M248.3 109.5l.9 .5M249.2 109.9l.9-1.4M250.1 108.5l.9-.2M251 108.3l.9 1M251.8 109.3l.9-1.3M252.7 108l.9-.9M253.6 107.1l.9 1.1M254.5 108.2l.9-2.3M255.4 105.9l.9 .3M256.3 106.2l.9 .5M257.2 106.7l.9-.3M258.1 106.4l.9-.9M259 105.5l.9-.2M259.9 105.3l.9 1M260.8 106.3l.9-2M261.7 104.3l.9-1.5M262.6 102.8l.9 2M263.5 104.8l.9-3M264.4 101.8l.9-2.4M265.3 99.4l.9-1.6M266.2 97.8l.9 4.1M267.1 101.9l.9-1.1M268 100.8l.9 1M268.9 101.8l.9 .6M269.8 102.4l.9-2.8M270.7 99.7l.9 3.4M271.6 103.1l.9-.4M272.5 102.7l.9-1.8M273.4 100.9l.9-.1M274.3 100.8l.9 .2M275.2 101l.9 .4M276.1 101.5l.9-1.6M277 99.9l.9 .5M277.9 100.4l.9-.9M278.8 99.5l.9-1.9M279.7 97.6l.9 .6M280.6 98.3l.9 1.3M281.5 99.6l.9-.8M282.4 98.8l.9-1.5M283.3 97.3l.9-3.1M284.2 94.2l.9 4.3M285.1 98.5l.9-.9M286 97.6l.9-.5M286.9 97.1l.9-1.2M287.8 95.9l.9 1M288.7 96.9l.9-6.2M289.6 90.7l.9 6.3M290.5 97l.9-1.1M291.4 95.9l.9-2M292.2 93.9l.9 .1M293.1 94l.9 1.1M294 95.1l.9 0M294.9 95.1l.9-2.6M295.8 92.5l.9-0M296.7 92.5l.9 1.2M297.6 93.7l.9-2M298.5 91.7l.9 2.1M299.4 93.7l.9-1.3M300.3 92.4l.9-1.5M301.2 90.8l.9 1.3M302.1 92.1l.9-3.3M303 88.8l.9 3.8M303.9 92.6l.9-.1M304.8 92.4l.9-.4M305.7 92l.9-1.2M306.6 90.9l.9-2.6M307.5 88.2l.9 1.3M308.4 89.5l.9-.8M309.3 88.7l.9 1.1M310.2 89.8l.9-1M311.1 88.8l.9-0M312 88.8l.9-.1M312.9 88.8l.9-2.2M313.8 86.5l.9 1.2M314.7 87.7l.9-1.5M315.6 86.3l.9 2.3M316.5 88.6l.9-.6M317.4 88l.9-1.2M318.3 86.7l.9 .2M319.2 87l.9-.8M320.1 86.1l.9-1.1M321 85.1l.9-1" stroke="#3834dc" stroke-width="0.85" fill="none"/>
<path d="M245.3 113.9l.9-4.4 .9 3.8 .9-3.1 .9-1.9 .9-.1 .9 .5 .9 1.5 .9-1.5 .9 2.4 .9-1.2 .9 .9 .9-.4 .9-1.3 .9-.4 .9-0 .9-1.5 .9 .4 .9 .2 .9 .6 .9-2.7 .9 .6 .9-.4 .8-.8 .9 1.3 .9-.7 .9-2.5 .9-1.3 .9 2.9 .9 .8 .9-4.4 .9 2.7 .9-.9 .9-.1 .9 1.4 .9-2.1 .9-.5 .9 .5 .9-5.2 .9 5.6 .9-1.8 .9 .6 .9-1.9 .9 1.9 .9-.5 .9-1.6 .9 .8 .9-.2 .9-2.3 .9 1.3 .9-.8 .9-1 .9 .5 .9 .1 .9 .3 .9-4.2 .9 1.8 .9 1.9 .9-1.7 .9-.2 .9-1.8 .9 1.7 .9 .2 .9-1 .9 .9 .9-3.8 .9-.1 .8 2 .9 .5 .9-3.2 .9 1 .9 1.2 .9 .1 .9-6.7 .9 4.8 .9 1.3 .9-1.8 .9 .1 .9 .1 .9-.4 .9 .2 .9-.6 .9-3.3 .9 3.2 .9-.6 .9-1 .9 .5 .9-2 .9 1.6 .9-.6 3.3 1.9 -.9-.8 -.9 1.3 -.9 .8 -.9-1.1 -.9 .6 -.9 .4 -.9-.8 -.9 1.8 -.9-.8 -.9-.2 -.9 1.1 -.9 0 -.9 1.4 -.9-.1 -.9 .1 -.8 1.1 -.9-2.5 -.9 .9 -.9 2.5 -.9-3.3 -.9 2.8 -.9-2.1 -.9 1.2 -.9 .2 -.9-.4 -.9 3 -.9-2.4 -.9 2.2 -.9-1.1 -.9 2.5 -.9-1.3 -.9-2.3 -.9 4.5 -.9 .2 -.9-.4 -.9-2.5 -.9 3.7 -.9 .7 -.9 .4 -.9 .3 -.9 .2 -.9-.2 -.9-.6 -.9 1.8 -.9-3.7 -.9 3 -.9 .8 -.9-1.7 -.9 .8 -.9 1.5 -.9-2.4 -.9 3.2 -.9-1.3 -.9 .3 -.9 1.9 -.9-.7 -.9-2.4 -.9 1.7 -.9 2.7 -.8-.4 -.9-2.7 -.9 2.6 -.9-.3 -.9 .3 -.9 1.7 -.9-1.5 -.9 2.2 -.9-.2 -.9-1.6 -.9 .4 -.9 1.2 -.9 2 -.9-5.6 -.9 5 -.9 1.4 -.9-.7 -.9 .8 -.9-.1 -.9 1.7 -.9-2.8 -.9 3.1 -.9-3.2 -.9 3.8 -.9-.3 -.9 .2 -.9 .9 -.9-3.1 -.9 3.2 -.9 .4z" fill="#fff"/>
<path d="M248.6 114.9l-3.3-1M249.5 114.5l-3.3-4.9M250.4 111.3l-3.3 2M251.3 114.4l-3.3-4.1M252.2 113.5l-3.3-5.2M253.1 113.3l-3.3-5.1M254 113.5l-3.3-4.9M254.9 109.8l-3.3 .4M255.8 113l-3.3-4.4M256.7 109.9l-3.3 1.2M257.6 112.6l-3.3-2.7M258.5 111l-3.3-.3M259.4 111.1l-3.3-.7M260.3 110.3l-3.3-1.2M261.2 111l-3.3-2.4M262.1 109.6l-3.3-1M263 104.6l-3.3 2.5M263.9 110.2l-3.3-2.6M264.8 108.2l-3.3-.4M265.7 107l-3.3 1.5M266.6 106.6l-3.3-.9M267.5 108.2l-3.3-1.9M268.4 108.4l-3.3-2.4M269.3 106.2l-3.3-1.1M270.2 107.7l-3.3-1.3M271 106l-3.3-.3M271.9 105.7l-3.3-2.5M272.8 106l-3.3-4.1M273.7 103.4l-3.3 1.4M274.6 106.1l-3.3-.5M275.5 106.5l-3.3-5.3M276.4 103.8l-3.3 .1M277.3 102.1l-3.3 .9M278.2 104.5l-3.3-1.7M279.1 105.2l-3.3-.9M280 103.3l-3.3-1.1M280.9 103l-3.3-1.3M281.8 104.2l-3.3-2.1M282.7 101.1l-3.3-4.1M283.6 103.5l-3.3-.9M284.5 102l-3.3-1.1M285.4 101.2l-3.3 .2M286.3 102.9l-3.3-3.4M287.2 102.1l-3.3-.7M288.1 99.1l-3.3 1.8M289 102.8l-3.3-3.5M289.9 101l-3.3-.9M290.8 101.6l-3.3-1.7M291.7 101.8l-3.3-4.2M292.6 101.6l-3.3-2.7M293.5 101.3l-3.3-3.3M294.4 100.9l-3.3-3.8M295.3 100.1l-3.3-2.6M296.2 96.5l-3.3 1.2M297.1 99l-3.3-1.1M298 99.4l-3.3-5.6M298.9 99.2l-3.3-3.7M299.8 94.7l-3.3 2.8M300.7 97l-3.3-1.3M301.6 98.3l-3.3-2.7M302.5 95.8l-3.3-2M303.4 96.9l-3.3-1.4M304.3 94.7l-3.3 .9M305.2 97.1l-3.3-2.4M306.1 94.1l-3.3 1.5M307 94.5l-3.3-2.7M307.9 94.3l-3.3-2.6M308.8 93l-3.3 .7M309.7 95.2l-3.3-1M310.6 92.4l-3.3-1.4M311.4 95.7l-3.3-3.6M312.3 93.2l-3.3-.1M313.2 92.3l-3.3 .9M314.1 94.8l-3.3-8.2M315 93.7l-3.3-2.3M315.9 93.6l-3.3-.9M316.8 93.7l-3.3-2.9M317.7 92.3l-3.3-1.4M318.6 92.3l-3.3-1.3M319.5 91.2l-3.3-.5M320.4 91.4l-3.3-.5M321.3 92.2l-3.3-1.9M322.2 90.4l-3.3-3.4M323.1 91.2l-3.3-1M324 90.8l-3.3-1.1M324.9 90.2l-3.3-1.6M325.8 91.3l-3.3-2.2M326.7 90.5l-3.3-3.4M327.6 89.2l-3.3-.4M328.5 90l-3.3-1.9M245.3 113.9l.9-4.4M246.2 109.5l.9 3.8M247.1 113.3l.9-3.1M248 110.2l.9-1.9M248.9 108.3l.9-.1M249.8 108.2l.9 .5M250.7 108.7l.9 1.5M251.6 110.2l.9-1.5M252.5 108.7l.9 2.4M253.4 111.1l.9-1.1M254.3 109.9l.9 .8M255.2 110.8l.9-.4M256.1 110.4l.9-1.2M257 109.1l.9-.5M257.9 108.7l.9 0M258.8 108.7l.9-1.5M259.7 107.2l.9 .5M260.6 107.6l.9 .2M261.4 107.8l.9 .6M262.3 108.4l.9-2.7M263.2 105.7l.9 .6M264.1 106.3l.9-.3M265 105.9l.9-.9M265.9 105.1l.9 1.3M266.8 106.4l.9-.7M267.7 105.7l.9-2.5M268.6 103.2l.9-1.3M269.5 101.9l.9 2.9M270.4 104.8l.9 .8M271.3 105.6l.9-4.4M272.2 101.2l.9 2.8M273.1 103.9l.9-1M274 103l.9-.1M274.9 102.9l.9 1.4M275.8 104.3l.9-2.1M276.7 102.2l.9-.5M277.6 101.7l.9 .5M278.5 102.2l.9-5.2M279.4 97l.9 5.6M280.3 102.6l.9-1.7M281.2 100.8l.9 .6M282.1 101.4l.9-2M283 99.5l.9 1.9M283.9 101.4l.9-.5M284.8 100.9l.9-1.6M285.7 99.3l.9 .8M286.6 100.1l.9-.2M287.5 99.9l.9-2.2M288.4 97.6l.9 1.3M289.3 98.9l.9-.8M290.2 98.1l.9-.9M291.1 97.1l.9 .4M292 97.6l.9 .1M292.9 97.7l.9 .3M293.8 98l.9-4.1M294.7 93.8l.9 1.7M295.6 95.6l.9 2M296.5 97.5l.9-1.8M297.4 95.8l.9-.1M298.3 95.6l.9-1.8M299.2 93.8l.9 1.7M300.1 95.5l.9 .1M301 95.6l.9-.9M301.8 94.7l.9 .9M302.7 95.6l.9-3.8M303.6 91.8l.9-.1M304.5 91.7l.9 2M305.4 93.7l.9 .4M306.3 94.1l.9-3.2M307.2 91l.9 1.1M308.1 92l.9 1.1M309 93.2l.9 .1M309.9 93.3l.9-6.7M310.8 86.6l.9 4.8M311.7 91.4l.9 1.3M312.6 92.7l.9-1.8M313.5 90.8l.9 .1M314.4 91l.9 .1M315.3 91.1l.9-.3M316.2 90.7l.9 .2M317.1 90.9l.9-.6M318 90.3l.9-3.2M318.9 87l.9 3.2M319.8 90.2l.9-.6M320.7 89.6l.9-1M321.6 88.6l.9 .5M322.5 89.1l.9-2M323.4 87.1l.9 1.6M324.3 88.7l.9-.6" stroke="#3834dc" stroke-width="0.85" fill="none"/>
<path d="M248.6 114.9l.9-.4 .9-3.1 .9 3 .9-.8 .9-.3 .9 .3 .9-3.8 .9 3.3 .9-3.2 .9 2.8 .9-1.6 .9 0 .9-.7 .9 .7 .9-1.4 .9-5 .9 5.5 .9-2 .9-1.2 .9-.4 .9 1.6 .9 .2 .8-2.2 .9 1.5 .9-1.7 .9-.2 .9 .2 .9-2.6 .9 2.8 .9 .3 .9-2.7 .9-1.7 .9 2.5 .9 .6 .9-1.9 .9-.3 .9 1.3 .9-3.2 .9 2.4 .9-1.5 .9-.8 .9 1.7 .9-.8 .9-3 .9 3.7 .9-1.8 .9 .6 .9 .3 .9-.3 .9-.2 .9-.4 .9-.8 .9-3.7 .9 2.6 .9 .4 .9-.2 .9-4.6 .9 2.4 .9 1.3 .9-2.6 .9 1.1 .9-2.2 .9 2.4 .9-3 .9 .5 .9-.3 .8-1.2 .9 2.1 .9-2.8 .9 3.3 .9-2.4 .9-.9 .9 2.5 .9-1.2 .9-.1 .9 .2 .9-1.4 .9-.1 .9-1 .9 .1 .9 .8 .9-1.8 .9 .8 .9-.4 .9-.6 .9 1.2 .9-.9 .9-1.3 .9 .9 3.3 2 -.9-3 -.9 1.2 -.9 2.5 -.9-1.7 -.9 1.8 -.9-1.4 -.9 1.1 -.9-2.3 -.9 3 -.9 .4 -.9 .9 -.9-1.5 -.9 1.2 -.9 .1 -.9-.6 -.8-2.4 -.9 3.5 -.9 0 -.9 .4 -.9-.3 -.9 1.8 -.9 .2 -.9-3.4 -.9 1.7 -.9 2.6 -.9 1.3 -.9-1.9 -.9 2 -.9 .3 -.9 .3 -.9-1.8 -.9 .7 -.9 2.4 -.9-2.3 -.9-.3 -.9 3.2 -.9-.3 -.9 1.1 -.9-2.2 -.9 1.7 -.9-.3 -.9 1.9 -.9-.5 -.9 .9 -.9-3.4 -.9 2.1 -.9 1.7 -.9 .8 -.9-2.6 -.9 1.6 -.9 1.1 -.9 .9 -.9 .3 -.9-1.6 -.9 2.3 -.9-.8 -.9 1.2 -.9-2.1 -.9 2.7 -.8-1.5 -.9 1.3 -.9 1.1 -.9 .3 -.9-.1 -.9 .6 -.9-2.4 -.9-.3 -.9-1.4 -.9 2 -.9 3.6 -.9-2 -.9-1.1 -.9 3 -.9 .2 -.9 .5 -.9-.8 -.9 .7 -.9 1.2 -.9 .9 -.9-.3 -.9-.8 -.9 1.7 -.9 .7 -.9-.9 -.9 1 -.9-.8 -.9-1.2 -.9 2.5 -.9-1.5z" fill="#fff"/>
<path d="M251.9 114.5l-3.3 .4M252.8 115.9l-3.3-1.5M253.7 113.5l-3.3-2.1M254.6 114.6l-3.3-.2M255.5 115.5l-3.3-1.9M256.4 114.5l-3.3-1.2M257.3 115.4l-3.3-1.8M258.2 114.7l-3.3-5M259.1 113l-3.3 0M260 113.8l-3.3-3.9M260.9 114.1l-3.3-1.4M261.8 113.1l-3.3-2.1M262.7 111.9l-3.3-.9M263.6 111.3l-3.3-1M264.5 112.1l-3.3-1.1M265.4 111.6l-3.3-2M266.3 111.4l-3.3-6.7M267.2 108.3l-3.3 1.8M268.1 109.4l-3.3-1.2M269 111.5l-3.3-4.6M269.9 107.9l-3.3-1.3M270.8 105.9l-3.3 2.3M271.7 107.3l-3.3 1.1M272.6 107.6l-3.3-1.4M273.5 110l-3.3-2.3M274.4 109.4l-3.3-3.4M275.3 109.5l-3.3-3.7M276.2 109.1l-3.3-3.1M277.1 108l-3.3-4.6M278 106.8l-3.3-.6M278.9 108.3l-3.3-1.8M279.8 105.6l-3.3-1.7M280.6 107.7l-3.3-5.6M281.5 106.5l-3.3-1.9M282.4 107.3l-3.3-2.1M283.3 105l-3.3-1.7M284.2 106.5l-3.3-3.6M285.1 106.3l-3.3-2.1M286 105.3l-3.3-4.2M286.9 104.3l-3.3-.8M287.8 102.6l-3.3-.7M288.7 105.3l-3.3-4.1M289.6 104.5l-3.3-1.6M290.5 102.7l-3.3-.7M291.4 100.6l-3.3-1.6M292.3 104.1l-3.3-1.3M293.2 103.1l-3.3-2.1M294.1 103.7l-3.3-2.1M295 101.8l-3.3 0M295.9 102l-3.3-.5M296.8 100.3l-3.3 1M297.7 102.6l-3.3-1.6M298.6 101.5l-3.3-1.3M299.5 101.7l-3.3-5.3M300.4 98.5l-3.3 .5M301.3 98.9l-3.3 .5M302.2 101.2l-3.3-2M303.1 98.7l-3.3-4M304 98.1l-3.3-1.1M304.9 99.8l-3.3-1.5M305.8 99.6l-3.3-3.8M306.7 99.3l-3.3-2.4M307.6 97.3l-3.3-2.6M308.5 99.1l-3.3-2M309.4 97.9l-3.3-3.8M310.3 95.2l-3.3-.7M311.2 93.5l-3.3 .7M312.1 97l-3.3-3.9M313 96.8l-3.3-1.6M313.9 94.9l-3.3-2.5M314.8 95.3l-3.3 .4M315.7 94.9l-3.3-1.6M316.6 94.9l-3.3-2.5M317.5 91.4l-3.3 3.4M318.4 93.7l-3.3-0M319.3 94.4l-3.3-.7M320.2 94.3l-3.3-.6M321 93.1l-3.3-.8M321.9 94.5l-3.3-2.2M322.8 93.6l-3.3-2.4M323.7 93.3l-3.3-1.9M324.6 90.3l-3.3 1.9M325.5 92.6l-3.3-2.2M326.4 91.5l-3.3-.3M327.3 92.9l-3.3-2.1M328.2 91.1l-3.3-.9M329.1 92.8l-3.3-1.5M330 90.3l-3.3 .2M330.9 89.1l-3.3 .1M331.8 92l-3.3-2M248.6 114.9l.9-.4M249.5 114.5l.9-3.1M250.4 111.3l.9 3M251.3 114.4l.9-.8M252.2 113.5l.9-.2M253.1 113.3l.9 .2M254 113.5l.9-3.8M254.9 109.8l.9 3.3M255.8 113l.9-3.1M256.7 109.9l.9 2.7M257.6 112.6l.9-1.6M258.5 111l.9 0M259.4 111.1l.9-.8M260.3 110.3l.9 .7M261.2 111l.9-1.4M262.1 109.6l.9-5M263 104.6l.9 5.6M263.9 110.2l.9-2M264.8 108.2l.9-1.2M265.7 107l.9-.4M266.6 106.6l.9 1.6M267.5 108.2l.9 .2M268.4 108.4l.9-2.2M269.3 106.2l.9 1.4M270.2 107.7l.9-1.7M271 106l.9-.2M271.9 105.7l.9 .3M272.8 106l.9-2.6M273.7 103.4l.9 2.8M274.6 106.1l.9 .3M275.5 106.5l.9-2.7M276.4 103.8l.9-1.7M277.3 102.1l.9 2.4M278.2 104.5l.9 .6M279.1 105.2l.9-1.9M280 103.3l.9-.3M280.9 103l.9 1.3M281.8 104.2l.9-3.1M282.7 101.1l.9 2.4M283.6 103.5l.9-1.5M284.5 102l.9-.8M285.4 101.2l.9 1.7M286.3 102.9l.9-.8M287.2 102.1l.9-3M288.1 99.1l.9 3.8M289 102.8l.9-1.8M289.9 101l.9 .6M290.8 101.6l.9 .3M291.7 101.8l.9-.3M292.6 101.6l.9-.2M293.5 101.3l.9-.4M294.4 100.9l.9-.8M295.3 100.1l.9-3.7M296.2 96.5l.9 2.5M297.1 99l.9 .4M298 99.4l.9-.2M298.9 99.2l.9-4.5M299.8 94.7l.9 2.3M300.7 97l.9 1.3M301.6 98.3l.9-2.6M302.5 95.8l.9 1.1M303.4 96.9l.9-2.2M304.3 94.7l.9 2.4M305.2 97.1l.9-3M306.1 94.1l.9 .5M307 94.5l.9-.3M307.9 94.3l.9-1.2M308.8 93l.9 2.1M309.7 95.2l.9-2.8M310.6 92.4l.9 3.2M311.4 95.7l.9-2.4M312.3 93.2l.9-.9M313.2 92.3l.9 2.5M314.1 94.8l.9-1.1M315 93.7l.9-.1M315.9 93.6l.9 .1M316.8 93.7l.9-1.4M317.7 92.3l.9-0M318.6 92.3l.9-1.1M319.5 91.2l.9 .1M320.4 91.4l.9 .8M321.3 92.2l.9-1.8M322.2 90.4l.9 .8M323.1 91.2l.9-.5M324 90.8l.9-.6M324.9 90.2l.9 1.1M325.8 91.3l.9-.8M326.7 90.5l.9-1.3M327.6 89.2l.9 .9" stroke="#3834dc" stroke-width="0.85" fill="none"/>
<path d="M251.9 114.5l.9 1.5 .9-2.5 .9 1.2 .9 .8 .9-1 .9 .9 .9-.7 .9-1.7 .9 .8 .9 .3 .9-.9 .9-1.2 .9-.7 .9 .8 .9-.5 .9-.2 .9-3 .9 1.1 .9 2 .9-3.6 .9-2 .9 1.4 .8 .3 .9 2.4 .9-.6 .9 .1 .9-.3 .9-1.1 .9-1.3 .9 1.5 .9-2.7 .9 2.1 .9-1.2 .9 .8 .9-2.3 .9 1.6 .9-.3 .9-.9 .9-1.1 .9-1.6 .9 2.6 .9-.8 .9-1.7 .9-2.1 .9 3.4 .9-.9 .9 .5 .9-1.9 .9 .2 .9-1.6 .9 2.2 .9-1.1 .9 .3 .9-3.3 .9 .4 .9 2.3 .9-2.4 .9-.7 .9 1.8 .9-.3 .9-.3 .9-2 .9 1.9 .9-1.3 .9-2.6 .9-1.7 .8 3.4 .9-.2 .9-1.8 .9 .3 .9-.4 .9-0 .9-3.5 .9 2.4 .9 .6 .9-.1 .9-1.2 .9 1.5 .9-.9 .9-.4 .9-3 .9 2.3 .9-1.1 .9 1.4 .9-1.8 .9 1.7 .9-2.5 .9-1.2 .9 3 3.3 1 -.9-.3 -.9-.5 -.9 0 -.9 1.4 -.9-1.1 -.9 .1 -.9 .9 -.9 1.5 -.9-3.7 -.9 4.4 -.9-1.7 -.9 1.4 -.9-.7 -.9 2.4 -.9 .5 -.8-.6 -.9 0 -.9-2 -.9-.1 -.9 2.2 -.9-.3 -.9 2.4 -.9-3.7 -.9 3.7 -.9 1.1 -.9-.2 -.9 .5 -.9-4.1 -.9 2.8 -.9 .6 -.9 .3 -.9 0 -.9-1.2 -.9 .4 -.9-.2 -.9 2.7 -.9 1.8 -.9-1.6 -.9 1.2 -.9-.6 -.9-2.8 -.9 2.5 -.9-.4 -.9 3.2 -.9 .3 -.9-.4 -.9 1.6 -.9-.9 -.9-1.7 -.9 2.6 -.9-1.4 -.9-1.4 -.9 3.8 -.9 1 -.9-2.1 -.9 2.1 -.9-.8 -.9 1.6 -.9-2.5 -.8 2.9 -.9-.3 -.9 .1 -.9 .9 -.9-.9 -.9 1.5 -.9 0 -.9-.5 -.9-.8 -.9 1.4 -.9 1.3 -.9-.5 -.9 .1 -.9-1.9 -.9 3.1 -.9-1.1 -.9 2.1 -.9 .1 -.9 .8 -.9-4.9 -.9 3.5 -.9 1.4 -.9 .5 -.9-1.7 -.9-.7 -.9 3.3 -.9-1.2 -.9 1.5 -.9 .9 -.9 .1z" fill="#fff"/>
<path d="M255.2 118l-3.3-3.6M256.1 118l-3.3-2M257 117.1l-3.3-3.6M257.9 115.6l-3.3-.9M258.8 116.8l-3.3-1.3M259.7 113.5l-3.3 1M260.6 114.2l-3.3 1.2M261.5 115.9l-3.3-1.2M262.4 115.4l-3.3-2.4M263.3 114l-3.3-.2M264.2 110.5l-3.3 3.6M265.1 115.4l-3.3-2.2M266 114.6l-3.3-2.6M266.9 114.5l-3.3-3.2M267.8 112.3l-3.3-.2M268.7 113.5l-3.3-1.9M269.6 110.3l-3.3 1M270.5 112.3l-3.3-3.9M271.4 112.2l-3.3-2.8M272.3 112.6l-3.3-1.1M273.2 111.4l-3.3-3.5M274.1 109.9l-3.3-4.1M275 110.8l-3.3-3.5M275.9 111.3l-3.3-3.7M276.8 111.2l-3.3-1.3M277.7 109.7l-3.3-.4M278.6 110.7l-3.3-1.2M279.5 109.7l-3.3-.6M280.4 109.6l-3.3-1.6M281.3 110l-3.3-3.2M282.2 107.1l-3.3 1.2M283.1 109.6l-3.3-4M284 108l-3.3-.3M284.9 108.7l-3.3-2.3M285.8 106.7l-3.3 .6M286.7 108.8l-3.3-3.8M287.6 107.8l-3.3-1.2M288.5 103.9l-3.3 2.4M289.4 105.4l-3.3-.1M290.2 106.8l-3.3-2.5M291.1 104.2l-3.3-1.5M292 105.9l-3.3-.6M292.9 106.8l-3.3-2.3M293.8 105.2l-3.3-2.4M294.7 105.6l-3.3-5M295.6 105.3l-3.3-1.2M296.5 102l-3.3 1.1M297.4 102.5l-3.3 1.2M298.3 99.9l-3.3 1.8M299.2 102.8l-3.3-.8M300.1 103.4l-3.3-3.1M301 102.2l-3.3 .4M301.9 103.8l-3.3-2.3M302.8 101.9l-3.3-.2M303.7 99.3l-3.3-.8M304.6 99.5l-3.3-.6M305.5 99l-3.3 2.2M306.4 100.3l-3.3-1.6M307.3 100.3l-3.3-2.2M308.2 100l-3.3-.2M309.1 99.4l-3.3 .2M310 96.6l-3.3 2.7M310.9 100.7l-3.3-3.4M311.8 100.2l-3.3-1M312.7 100.4l-3.3-2.5M313.6 99.3l-3.3-4.1M314.5 95.6l-3.3-2M315.4 99.3l-3.3-2.3M316.3 96.8l-3.3-.1M317.2 97.2l-3.3-2.2M318.1 95l-3.3 .2M319 95l-3.3-.2M319.9 97.1l-3.3-2.2M320.8 97.1l-3.3-5.7M321.7 97.6l-3.3-3.9M322.6 97.2l-3.3-2.9M323.5 94.8l-3.3-.5M324.4 95.5l-3.3-2.4M325.3 94l-3.3 .5M326.2 95.8l-3.3-2.1M327.1 91.4l-3.3 1.9M328 95l-3.3-4.8M328.9 93.6l-3.3-1M329.8 92.7l-3.3-1.2M330.6 92.6l-3.3 .3M331.5 93.7l-3.3-2.6M332.4 92.3l-3.3 .5M333.3 92.2l-3.3-1.9M334.2 92.8l-3.3-3.7M335.1 93l-3.3-1M251.9 114.5l.9 1.5M252.8 115.9l.9-2.5M253.7 113.5l.9 1.2M254.6 114.6l.9 .8M255.5 115.5l.9-1M256.4 114.5l.9 .9M257.3 115.4l.9-.7M258.2 114.7l.9-1.7M259.1 113l.9 .8M260 113.8l.9 .3M260.9 114.1l.9-.9M261.8 113.1l.9-1.2M262.7 111.9l.9-.7M263.6 111.3l.9 .8M264.5 112.1l.9-.5M265.4 111.6l.9-.2M266.3 111.4l.9-3M267.2 108.3l.9 1.1M268.1 109.4l.9 2.1M269 111.5l.9-3.6M269.9 107.9l.9-2M270.8 105.9l.9 1.4M271.7 107.3l.9 .3M272.6 107.6l.9 2.4M273.5 110l.9-.6M274.4 109.4l.9 .1M275.3 109.5l.9-.4M276.2 109.1l.9-1.1M277.1 108l.9-1.3M278 106.8l.9 1.5M278.9 108.3l.9-2.7M279.8 105.6l.9 2.1M280.6 107.7l.9-1.2M281.5 106.5l.9 .8M282.4 107.3l.9-2.3M283.3 105l.9 1.6M284.2 106.5l.9-.2M285.1 106.3l.9-1M286 105.3l.9-1.1M286.9 104.3l.9-1.6M287.8 102.6l.9 2.6M288.7 105.3l.9-.8M289.6 104.5l.9-1.8M290.5 102.7l.9-2.1M291.4 100.6l.9 3.5M292.3 104.1l.9-1M293.2 103.1l.9 .6M294.1 103.7l.9-1.9M295 101.8l.9 .2M295.9 102l.9-1.7M296.8 100.3l.9 2.3M297.7 102.6l.9-1.1M298.6 101.5l.9 .3M299.5 101.7l.9-3.2M300.4 98.5l.9 .4M301.3 98.9l.9 2.3M302.2 101.2l.9-2.5M303.1 98.7l.9-.6M304 98.1l.9 1.7M304.9 99.8l.9-.3M305.8 99.6l.9-.3M306.7 99.3l.9-2M307.6 97.3l.9 1.9M308.5 99.1l.9-1.3M309.4 97.9l.9-2.7M310.3 95.2l.9-1.7M311.2 93.5l.9 3.4M312.1 97l.9-.2M313 96.8l.9-1.8M313.9 94.9l.9 .3M314.8 95.3l.9-.4M315.7 94.9l.9-0M316.6 94.9l.9-3.5M317.5 91.4l.9 2.3M318.4 93.7l.9 .6M319.3 94.4l.9-.1M320.2 94.3l.9-1.2M321 93.1l.9 1.4M321.9 94.5l.9-.9M322.8 93.6l.9-.3M323.7 93.3l.9-3M324.6 90.3l.9 2.3M325.5 92.6l.9-1.1M326.4 91.5l.9 1.4M327.3 92.9l.9-1.8M328.2 91.1l.9 1.7M329.1 92.8l.9-2.5M330 90.3l.9-1.2M330.9 89.1l.9 2.9" stroke="#3834dc" stroke-width="0.85" fill="none"/>
<path d="M255.2 118l.9-.1 .9-.8 .9-1.6 .9 1.3 .9-3.3 .9 .7 .9 1.7 .9-.6 .9-1.3 .9-3.6 .9 4.9 .9-.8 .9-.1 .9-2.1 .9 1.1 .9-3.1 .9 1.9 .9-0 .9 .4 .9-1.2 .9-1.5 .9 .9 .8 .5 .9-.1 .9-1.5 .9 1 .9-1 .9-.1 .9 .4 .9-2.9 .9 2.5 .9-1.7 .9 .8 .9-2.1 .9 2.1 .9-1 .9-3.8 .9 1.5 .9 1.4 .9-2.6 .9 1.7 .9 .9 .9-1.7 .9 .5 .9-.3 .9-3.3 .9 .5 .9-2.6 .9 2.8 .9 .7 .9-1.3 .9 1.7 .9-1.9 .9-2.6 .9 .2 .9-.5 .9 1.3 .9-0 .9-.3 .9-.6 .9-2.8 .9 4 .9-.4 .9 .1 .9-1 .9-3.7 .8 3.7 .9-2.5 .9 .3 .9-2.1 .9 0 .9 2.1 .9-0 .9 .5 .9-.4 .9-2.4 .9 .7 .9-1.5 .9 1.8 .9-4.4 .9 3.6 .9-1.4 .9-.9 .9-.2 .9 1.1 .9-1.3 .9-.1 .9 .6 .9 .2 3.3 1.1 -.9-3.6 -.9 3.1 -.9-1.5 -.9 .9 -.9 1.9 -.9 .6 -.9-.4 -.9 1.4 -.9 .3 -.9-.6 -.9 1.3 -.9-1.2 -.9 1.7 -.9-3.9 -.9 2.2 -.8 3.1 -.9-.5 -.9 .6 -.9 .3 -.9 .2 -.9-.2 -.9 .9 -.9-.7 -.9 .4 -.9 1.6 -.9-.9 -.9 .2 -.9-.5 -.9 1.8 -.9-1.2 -.9-1.1 -.9 3.4 -.9-1.2 -.9 .4 -.9-.1 -.9 1.3 -.9 .6 -.9-.2 -.9-.7 -.9 1.7 -.9-1.1 -.9 .1 -.9 .7 -.9-1.3 -.9 3.3 -.9-1.5 -.9 .8 -.9 1.2 -.9 .7 -.9-1.4 -.9 2.4 -.9-.7 -.9-.1 -.9 1.6 -.9 .2 -.9 .2 -.9-0 -.9-.7 -.9-1 -.8 2.8 -.9-.5 -.9 .1 -.9 1.5 -.9 .3 -.9-1.2 -.9 .5 -.9-1.4 -.9 .2 -.9 .8 -.9-1.3 -.9 4.1 -.9-1.4 -.9 .9 -.9-2.8 -.9 2.4 -.9 2.5 -.9-4.1 -.9 3.5 -.9-.6 -.9 1.7 -.9 1 -.9 0 -.9-.1 -.9-.7 -.9-.2 -.9 1.8 -.9-.4 -.9 .8 -.9 .1z" fill="#fff"/>
<path d="M258.6 119.2l-3.3-1.2M259.5 119.1l-3.3-1.2M260.3 118.3l-3.3-1.2M261.2 118.7l-3.3-3.1M262.1 116.9l-3.3-.1M263 117.1l-3.3-3.6M263.9 117.8l-3.3-3.6M264.8 118l-3.3-2.1M265.7 117.9l-3.3-2.5M266.6 116.9l-3.3-2.9M267.5 115.2l-3.3-4.7M268.4 115.8l-3.3-.4M269.3 112.3l-3.3 2.3M270.2 116.4l-3.3-1.9M271.1 113.9l-3.3-1.6M272 111.5l-3.3 1.9M272.9 114.3l-3.3-4M273.8 113.5l-3.3-1.2M274.7 114.8l-3.3-2.6M275.6 110.8l-3.3 1.9M276.5 112l-3.3-.6M277.4 111.2l-3.3-1.3M278.3 111l-3.3-.3M279.2 112.5l-3.3-1.1M280.1 111.9l-3.3-.7M281 113.1l-3.3-3.4M281.9 112.8l-3.3-2.1M282.8 111.3l-3.3-1.6M283.7 111.2l-3.3-1.6M284.6 111.7l-3.3-1.7M285.5 108.9l-3.3-1.8M286.4 109.9l-3.3-.4M287.3 110.6l-3.3-2.6M288.2 110.6l-3.3-1.9M289.1 110.4l-3.3-3.8M290 110.2l-3.3-1.4M290.9 108.6l-3.3-.9M291.8 108.8l-3.3-4.8M292.7 109.4l-3.3-4M293.6 107l-3.3-.2M294.5 108.4l-3.3-4.2M295.4 107.7l-3.3-1.8M296.3 106.5l-3.3 .3M297.2 105.7l-3.3-.5M298.1 107.3l-3.3-1.6M299 103.9l-3.3 1.4M299.8 105.2l-3.3-3.2M300.7 104.5l-3.3-2M301.6 104.4l-3.3-4.5M302.5 105.5l-3.3-2.8M303.4 103.8l-3.3-.5M304.3 104.5l-3.3-2.4M305.2 104.8l-3.3-1M306.1 104.1l-3.3-2.2M307 102.8l-3.3-3.5M307.9 102.9l-3.3-3.5M308.8 102.6l-3.3-3.5M309.7 103.8l-3.3-3.4M310.6 100.4l-3.3-0M311.5 101.4l-3.3-1.4M312.4 102.6l-3.3-3.2M313.3 100.8l-3.3-4.2M314.2 101.3l-3.3-.6M315.1 101.1l-3.3-.9M316 102l-3.3-1.6M316.9 100.4l-3.3-1.1M317.8 100l-3.3-4.4M318.7 100.7l-3.3-1.4M319.6 99.9l-3.3-3M320.5 100l-3.3-2.9M321.4 99.8l-3.3-4.8M322.3 99.5l-3.3-4.5M323.2 99l-3.3-1.8M324.1 99.4l-3.3-2.3M325 96.3l-3.3 1.3M325.9 94.1l-3.3 3.1M326.8 98l-3.3-3.2M327.7 96.3l-3.3-.8M328.6 97.5l-3.3-3.5M329.5 96.2l-3.3-.4M330.4 96.8l-3.3-5.4M331.3 96.6l-3.3-1.5M332.2 95.2l-3.3-1.6M333.1 95.6l-3.3-2.8M334 94.9l-3.3-2.3M334.9 93l-3.3 .6M335.8 92.1l-3.3 .2M336.7 93.6l-3.3-1.4M337.6 90.6l-3.3 2.2M338.5 94.1l-3.3-1.1M255.2 118l.9-.1M256.1 118l.9-.9M257 117.1l.9-1.5M257.9 115.6l.9 1.2M258.8 116.8l.9-3.3M259.7 113.5l.9 .7M260.6 114.2l.9 1.7M261.5 115.9l.9-.5M262.4 115.4l.9-1.3M263.3 114l.9-3.5M264.2 110.5l.9 4.9M265.1 115.4l.9-.8M266 114.6l.9-.1M266.9 114.5l.9-2.1M267.8 112.3l.9 1.1M268.7 113.5l.9-3.1M269.6 110.3l.9 1.9M270.5 112.3l.9-0M271.4 112.2l.9 .4M272.3 112.6l.9-1.2M273.2 111.4l.9-1.5M274.1 109.9l.9 .9M275 110.8l.9 .5M275.9 111.3l.9-.1M276.8 111.2l.9-1.5M277.7 109.7l.9 1M278.6 110.7l.9-.9M279.5 109.7l.9-.1M280.4 109.6l.9 .4M281.3 110l.9-2.9M282.2 107.1l.9 2.5M283.1 109.6l.9-1.6M284 108l.9 .8M284.9 108.7l.9-2.1M285.8 106.7l.9 2.1M286.7 108.8l.9-1M287.6 107.8l.9-3.8M288.5 103.9l.9 1.5M289.4 105.4l.9 1.4M290.2 106.8l.9-2.6M291.1 104.2l.9 1.7M292 105.9l.9 .9M292.9 106.8l.9-1.6M293.8 105.2l.9 .4M294.7 105.6l.9-.3M295.6 105.3l.9-3.3M296.5 102l.9 .5M297.4 102.5l.9-2.6M298.3 99.9l.9 2.8M299.2 102.8l.9 .6M300.1 103.4l.9-1.2M301 102.2l.9 1.6M301.9 103.8l.9-1.9M302.8 101.9l.9-2.6M303.7 99.3l.9 .2M304.6 99.5l.9-.4M305.5 99l.9 1.3M306.4 100.3l.9-0M307.3 100.3l.9-.3M308.2 100l.9-.6M309.1 99.4l.9-2.8M310 96.6l.9 4.1M310.9 100.7l.9-.5M311.8 100.2l.9 .2M312.7 100.4l.9-1M313.6 99.3l.9-3.7M314.5 95.6l.9 3.7M315.4 99.3l.9-2.4M316.3 96.8l.9 .3M317.2 97.2l.9-2.2M318.1 95l.9 0M319 95l.9 2.1M319.9 97.1l.9-0M320.8 97.1l.9 .5M321.7 97.6l.9-.4M322.6 97.2l.9-2.4M323.5 94.8l.9 .7M324.4 95.5l.9-1.5M325.3 94l.9 1.8M326.2 95.8l.9-4.4M327.1 91.4l.9 3.6M328 95l.9-1.4M328.9 93.6l.9-.9M329.8 92.7l.9-.1M330.6 92.6l.9 1.1M331.5 93.7l.9-1.3M332.4 92.3l.9-.1M333.3 92.2l.9 .6M334.2 92.8l.9 .3" stroke="#3834dc" stroke-width="0.85" fill="none"/>
<path d="M258.6 119.2l.9-.1 .9-.8 .9 .4 .9-1.8 .9 .2 .9 .7 .9 .2 .9-.1 .9-1 .9-1.7 .9 .6 .9-3.5 .9 4.1 .9-2.5 .9-2.4 .9 2.8 .9-.8 .9 1.3 .9-4.1 .9 1.3 .9-.8 .9-.2 .8 1.4 .9-.5 .9 1.2 .9-.3 .9-1.5 .9-.1 .9 .5 .9-2.8 .9 1 .9 .7 .9 0 .9-.2 .9-.2 .9-1.6 .9 .1 .9 .7 .9-2.4 .9 1.4 .9-.7 .9-1.2 .9-.8 .9 1.5 .9-3.3 .9 1.3 .9-.7 .9-.1 .9 1.1 .9-1.7 .9 .7 .9 .2 .9-.6 .9-1.3 .9 .1 .9-.3 .9 1.1 .9-3.4 .9 1.1 .9 1.2 .9-1.8 .9 .5 .9-.2 .9 .9 .9-1.6 .9-.4 .8 .7 .9-.9 .9 .2 .9-.2 .9-.3 .9-.6 .9 .5 .9-3.1 .9-2.2 .9 3.9 .9-1.7 .9 1.2 .9-1.3 .9 .6 .9-.2 .9-1.4 .9 .3 .9-.6 .9-1.9 .9-.9 .9 1.5 .9-3 .9 3.5 3.3 .8 -.9 .4 -.9 1.5 -.9-1.4 -.9-.5 -.9 .6 -.9 2.4 -.9-.2 -.9-.8 -.9 .3 -.9 2.1 -.9-0 -.9-1.1 -.9-.2 -.9 .5 -.9 .3 -.8 1.7 -.9 .7 -.9-.1 -.9-.8 -.9 .6 -.9 1.1 -.9 .5 -.9-1 -.9 .9 -.9 .8 -.9-.1 -.9 .8 -.9-2.2 -.9 .2 -.9 2.3 -.9-.7 -.9 1.5 -.9-3.3 -.9 3.4 -.9 .8 -.9-2.7 -.9 .9 -.9 2 -.9 .7 -.9-.2 -.9-2.1 -.9 3 -.9 1 -.9-2.7 -.9 3.5 -.9-.3 -.9-.3 -.9 1.5 -.9-.9 -.9-1 -.9 2 -.9-.9 -.9 1 -.9 1.4 -.9-5.5 -.9 4.9 -.9 1.2 -.9 .4 -.9-3.9 -.8 1.6 -.9 3.2 -.9 .1 -.9-1.6 -.9 .2 -.9 .5 -.9 .9 -.9 .2 -.9-3 -.9 3.9 -.9 .6 -.9-.2 -.9 .9 -.9-.3 -.9 1 -.9 .6 -.9-3.1 -.9 2.3 -.9-1.4 -.9 2.7 -.9-1.2 -.9 .3 -.9 2.1 -.9-1.4 -.9 .4 -.9 2.2 -.9 .2 -.9-1.2 -.9 .8 -.9 1.5z" fill="#fff"/>
<path d="M261.9 121.7l-3.3-2.5M262.8 120.2l-3.3-1.1M263.7 119.4l-3.3-1.1M264.6 120.6l-3.3-1.9M265.5 120.4l-3.3-3.4M266.4 118.2l-3.3-1.1M267.3 117.8l-3.3-0M268.2 119.2l-3.3-1.2M269.1 117.2l-3.3 .7M269.9 116.8l-3.3 .1M270.8 118l-3.3-2.8M271.7 115.3l-3.3 .5M272.6 116.7l-3.3-4.4M273.5 114.4l-3.3 2M274.4 117.5l-3.3-3.6M275.3 117l-3.3-5.4M276.2 115.9l-3.3-1.6M277.1 116.2l-3.3-2.8M278 115.3l-3.3-.5M278.9 115.5l-3.3-4.8M279.8 114.9l-3.3-2.9M280.7 111l-3.3 .2M281.6 114l-3.3-3M282.5 113.8l-3.3-1.3M283.4 112.9l-3.3-1M284.3 112.4l-3.3 .7M285.2 112.2l-3.3 .6M286.1 113.8l-3.3-2.5M287 113.7l-3.3-2.4M287.9 110.5l-3.3 1.2M288.8 108.9l-3.3 0M289.7 112.8l-3.3-2.9M290.6 112.5l-3.3-1.9M291.5 111.2l-3.3-.6M292.4 106.3l-3.3 4.1M293.3 111.8l-3.3-1.7M294.2 110.4l-3.3-1.7M295.1 109.4l-3.3-.7M296 110.4l-3.3-.9M296.9 108.3l-3.3-1.3M297.8 109.3l-3.3-.9M298.7 110.2l-3.3-2.5M299.6 108.7l-3.3-2.2M300.5 109.1l-3.3-3.4M301.4 109.3l-3.3-2.1M302.3 105.8l-3.3-1.9M303.2 108.5l-3.3-3.3M304.1 107.5l-3.3-3.1M305 104.5l-3.3-.1M305.9 106.6l-3.3-1M306.8 106.8l-3.3-2.9M307.7 106.1l-3.3-1.6M308.6 104.1l-3.3 .7M309.4 103.2l-3.3 .9M310.3 105.9l-3.3-3.1M311.2 105.1l-3.3-2.2M312.1 101.7l-3.3 .9M313 105l-3.3-1.3M313.9 103.5l-3.3-3.1M314.8 104.3l-3.3-2.9M315.7 101.9l-3.3 .7M316.6 101.7l-3.3-.9M317.5 103.9l-3.3-2.6M318.4 103.1l-3.3-2.1M319.3 103.2l-3.3-1.2M320.2 102.4l-3.3-2M321.1 101.5l-3.3-1.6M322 102.5l-3.3-1.8M322.9 102.1l-3.3-2.2M323.8 100.9l-3.3-.9M324.7 100.3l-3.3-.4M325.6 101.1l-3.3-1.6M326.5 101.2l-3.3-2.3M327.4 100.5l-3.3-1.1M328.3 98.8l-3.3-2.5M329.2 98.5l-3.3-4.4M330.1 98l-3.3 0M331 98.3l-3.3-2M331.9 99.3l-3.3-1.7M332.8 99.3l-3.3-3.1M333.7 97.2l-3.3-.4M334.6 96.9l-3.3-.3M335.5 97.8l-3.3-2.6M336.4 97.9l-3.3-2.3M337.3 95.5l-3.3-.6M338.2 94.9l-3.3-1.9M339.1 95.4l-3.3-3.3M340 96.8l-3.3-3.3M340.9 95.3l-3.3-4.7M341.8 94.9l-3.3-.8M258.6 119.2l.9-.1M259.5 119.1l.9-.8M260.3 118.3l.9 .4M261.2 118.7l.9-1.8M262.1 116.9l.9 .2M263 117.1l.9 .7M263.9 117.8l.9 .2M264.8 118l.9-.1M265.7 117.9l.9-1M266.6 116.9l.9-1.7M267.5 115.2l.9 .6M268.4 115.8l.9-3.5M269.3 112.3l.9 4.1M270.2 116.4l.9-2.5M271.1 113.9l.9-2.4M272 111.5l.9 2.8M272.9 114.3l.9-.9M273.8 113.5l.9 1.3M274.7 114.8l.9-4.1M275.6 110.8l.9 1.3M276.5 112l.9-.8M277.4 111.2l.9-.2M278.3 111l.9 1.4M279.2 112.5l.9-.5M280.1 111.9l.9 1.2M281 113.1l.9-.3M281.9 112.8l.9-1.5M282.8 111.3l.9-.1M283.7 111.2l.9 .5M284.6 111.7l.9-2.8M285.5 108.9l.9 1M286.4 109.9l.9 .7M287.3 110.6l.9 0M288.2 110.6l.9-.2M289.1 110.4l.9-.2M290 110.2l.9-1.5M290.9 108.6l.9 .1M291.8 108.8l.9 .7M292.7 109.4l.9-2.4M293.6 107l.9 1.3M294.5 108.4l.9-.7M295.4 107.7l.9-1.2M296.3 106.5l.9-.8M297.2 105.7l.9 1.6M298.1 107.3l.9-3.3M299 103.9l.9 1.3M299.8 105.2l.9-.7M300.7 104.5l.9-.1M301.6 104.4l.9 1.1M302.5 105.5l.9-1.7M303.4 103.8l.9 .7M304.3 104.5l.9 .2M305.2 104.8l.9-.7M306.1 104.1l.9-1.3M307 102.8l.9 .1M307.9 102.9l.9-.4M308.8 102.6l.9 1.2M309.7 103.8l.9-3.4M310.6 100.4l.9 1M311.5 101.4l.9 1.2M312.4 102.6l.9-1.8M313.3 100.8l.9 .5M314.2 101.3l.9-.2M315.1 101.1l.9 .9M316 102l.9-1.6M316.9 100.4l.9-.4M317.8 100l.9 .7M318.7 100.7l.9-.9M319.6 99.9l.9 .2M320.5 100l.9-.2M321.4 99.8l.9-.3M322.3 99.5l.9-.5M323.2 99l.9 .5M324.1 99.4l.9-3.1M325 96.3l.9-2.2M325.9 94.1l.9 3.9M326.8 98l.9-1.8M327.7 96.3l.9 1.3M328.6 97.5l.9-1.3M329.5 96.2l.9 .6M330.4 96.8l.9-.2M331.3 96.6l.9-1.4M332.2 95.2l.9 .4M333.1 95.6l.9-.7M334 94.9l.9-1.8M334.9 93l.9-.9M335.8 92.1l.9 1.5M336.7 93.6l.9-3M337.6 90.6l.9 3.5" stroke="#3834dc" stroke-width="0.85" fill="none"/>
<path d="M261.9 121.7l.9-1.5 .9-.8 .9 1.3 .9-.3 .9-2.2 .9-.4 .9 1.4 .9-2 .9-.4 .9 1.2 .9-2.7 .9 1.4 .9-2.3 .9 3.1 .9-.5 .9-1.1 .9 .3 .9-.9 .9 .2 .9-.6 .9-3.9 .9 3 .8-.2 .9-.9 .9-.5 .9-.2 .9 1.6 .9-.1 .9-3.2 .9-1.6 .9 3.9 .9-.3 .9-1.3 .9-4.9 .9 5.6 .9-1.5 .9-1 .9 1 .9-2 .9 .9 .9 .9 .9-1.5 .9 .4 .9 .2 .9-3.5 .9 2.7 .9-.9 .9-3.1 .9 2.1 .9 .2 .9-.7 .9-2 .9-.9 .9 2.7 .9-.8 .9-3.4 .9 3.3 .9-1.5 .9 .8 .9-2.4 .9-.2 .9 2.2 .9-.7 .9 0 .9-.8 .9-.8 .8 .9 .9-.4 .9-1.2 .9-.6 .9 .8 .9 .1 .9-.7 .9-1.7 .9-.3 .9-.5 .9 .3 .9 1 .9-0 .9-2 .9-.4 .9 .9 .9 .1 .9-2.4 .9-.6 .9 .5 .9 1.5 .9-1.6 .9-.4 3.3 3 -.9-.4 -.9-1.8 -.9 2.9 -.9-1.6 -.9 1.8 -.9 .2 -.9 .4 -.9-.1 -.9 1.4 -.9 .3 -.9-.4 -.9 .2 -.9-.4 -.9 .7 -.9-.4 -.8 .6 -.9 1.5 -.9-1.3 -.9 1 -.9-.4 -.9 .8 -.9-1.1 -.9-.3 -.9 2.3 -.9-.8 -.9 2.2 -.9-.2 -.9 .7 -.9-.4 -.9 .2 -.9-.7 -.9-.6 -.9 2 -.9 .2 -.9 1.3 -.9-.5 -.9 .4 -.9-.1 -.9 1.1 -.9-.2 -.9-1.5 -.9 1.1 -.9-2 -.9 3.7 -.9-1.5 -.9 2.9 -.9-1.7 -.9-.2 -.9 1.3 -.9-1.4 -.9-.8 -.9 1.9 -.9 1.5 -.9 .2 -.9-1 -.9 2.3 -.9-.8 -.9 .4 -.9 1.9 -.8 .3 -.9-1.8 -.9 .6 -.9-.5 -.9 2.9 -.9-.1 -.9 .7 -.9-1.6 -.9 .5 -.9 1.1 -.9-2.6 -.9 2.3 -.9 1.5 -.9-2.2 -.9-3.1 -.9 4.3 -.9-.4 -.9 3 -.9-.2 -.9-3 -.9 2.2 -.9 1.9 -.9 .6 -.9-2.5 -.9 2.6 -.9-.9 -.9 .3 -.9 1.4 -.9-1 -.9-1.3z" fill="#fff"/>
<path d="M265.2 119.7l-3.3 2M266.1 121l-3.3-.8M267 122l-3.3-2.5M267.9 120.6l-3.3 0M268.8 120.3l-3.3 .1M269.7 121.2l-3.3-3M270.6 118.5l-3.3-.7M271.5 121.1l-3.3-1.9M272.4 120.5l-3.3-3.3M273.3 118.6l-3.3-1.8M274.2 116.4l-3.3 1.6M275.1 119.4l-3.3-4.1M276 119.6l-3.3-2.9M276.9 116.6l-3.3-2.2M277.8 117l-3.3 .5M278.7 112.7l-3.3 4.2M279.5 115.8l-3.3 .1M280.4 118l-3.3-1.7M281.3 116.5l-3.3-1.2M282.2 114.2l-3.3 1.3M283.1 116.8l-3.3-1.9M284 115.7l-3.3-4.7M284.9 115.2l-3.3-1.2M285.8 116.8l-3.3-3M286.7 116.1l-3.3-3.2M287.6 116.2l-3.3-3.8M288.5 113.2l-3.3-1.1M289.4 113.8l-3.3 0M290.3 113.2l-3.3 .5M291.2 115l-3.3-4.5M292.1 114.7l-3.3-5.8M293 112.8l-3.3-0M293.9 112.4l-3.3 0M294.8 113.2l-3.3-2M295.7 110.9l-3.3-4.5M296.6 111.9l-3.3-.1M297.5 111.7l-3.3-1.3M298.4 110.2l-3.3-.8M299.3 108.3l-3.3 2M300.2 109.1l-3.3-.7M301.1 110.5l-3.3-1.2M302 109.2l-3.3 1M302.9 109.4l-3.3-.6M303.8 111.1l-3.3-2M304.7 108.2l-3.3 1.1M305.6 109.7l-3.3-3.9M306.5 106l-3.3 2.5M307.4 108l-3.3-.4M308.3 106.9l-3.3-2.4M309.2 108.4l-3.3-1.8M310.1 108.6l-3.3-1.8M311 107.4l-3.3-1.4M311.9 107.6l-3.3-3.5M312.8 107.2l-3.3-4M313.7 107.7l-3.3-1.8M314.6 106.3l-3.3-1.2M315.5 106.2l-3.3-4.5M316.4 104.2l-3.3 .8M317.3 104.8l-3.3-1.3M318.2 105.5l-3.3-1.3M319 105.3l-3.3-3.4M319.9 105.7l-3.3-4M320.8 105l-3.3-1.1M321.7 105.2l-3.3-2.1M322.6 102.9l-3.3 .3M323.5 103.8l-3.3-1.4M324.4 101.5l-3.3 .1M325.3 101.8l-3.3 .7M326.2 102.9l-3.3-.9M327.1 102.1l-3.3-1.2M328 102.5l-3.3-2.2M328.9 101.5l-3.3-.4M329.8 102.8l-3.3-1.6M330.7 101.3l-3.3-.7M331.6 100.7l-3.3-1.9M332.5 101.1l-3.3-2.6M333.4 100.4l-3.3-2.4M334.3 100.8l-3.3-2.5M335.2 100.6l-3.3-1.3M336.1 100.9l-3.3-1.7M337 100.7l-3.3-3.4M337.9 99.3l-3.3-2.4M338.8 99.3l-3.3-1.6M339.7 99l-3.3-1.1M340.6 98.8l-3.3-3.3M341.5 97l-3.3-2.2M342.4 98.6l-3.3-3.1M343.3 95.7l-3.3 1.2M344.2 97.5l-3.3-2.2M345.1 97.9l-3.3-3M261.9 121.7l.9-1.5M262.8 120.2l.9-.8M263.7 119.4l.9 1.2M264.6 120.6l.9-.3M265.5 120.4l.9-2.2M266.4 118.2l.9-.4M267.3 117.8l.9 1.4M268.2 119.2l.9-2M269.1 117.2l.9-.3M269.9 116.8l.9 1.2M270.8 118l.9-2.7M271.7 115.3l.9 1.4M272.6 116.7l.9-2.3M273.5 114.4l.9 3.1M274.4 117.5l.9-.6M275.3 117l.9-1.1M276.2 115.9l.9 .3M277.1 116.2l.9-.9M278 115.3l.9 .2M278.9 115.5l.9-.6M279.8 114.9l.9-3.9M280.7 111l.9 3M281.6 114l.9-.2M282.5 113.8l.9-.9M283.4 112.9l.9-.5M284.3 112.4l.9-.3M285.2 112.2l.9 1.6M286.1 113.8l.9-.1M287 113.7l.9-3.2M287.9 110.5l.9-1.6M288.8 108.9l.9 3.9M289.7 112.8l.9-.4M290.6 112.5l.9-1.3M291.5 111.2l.9-4.8M292.4 106.3l.9 5.5M293.3 111.8l.9-1.5M294.2 110.4l.9-1M295.1 109.4l.9 .9M296 110.4l.9-2M296.9 108.3l.9 .9M297.8 109.3l.9 .9M298.7 110.2l.9-1.5M299.6 108.7l.9 .3M300.5 109.1l.9 .3M301.4 109.3l.9-3.5M302.3 105.8l.9 2.7M303.2 108.5l.9-1M304.1 107.5l.9-3.1M305 104.5l.9 2.1M305.9 106.6l.9 .2M306.8 106.8l.9-.7M307.7 106.1l.9-2M308.6 104.1l.9-.9M309.4 103.2l.9 2.7M310.3 105.9l.9-.8M311.2 105.1l.9-3.4M312.1 101.7l.9 3.3M313 105l.9-1.5M313.9 103.5l.9 .7M314.8 104.3l.9-2.3M315.7 101.9l.9-.2M316.6 101.7l.9 2.2M317.5 103.9l.9-.7M318.4 103.1l.9 .1M319.3 103.2l.9-.8M320.2 102.4l.9-.9M321.1 101.5l.9 .9M322 102.5l.9-.4M322.9 102.1l.9-1.1M323.8 100.9l.9-.6M324.7 100.3l.9 .8M325.6 101.1l.9 .1M326.5 101.2l.9-.7M327.4 100.5l.9-1.7M328.3 98.8l.9-.3M329.2 98.5l.9-.5M330.1 98l.9 .3M331 98.3l.9 1M331.9 99.3l.9 0M332.8 99.3l.9-2M333.7 97.2l.9-.3M334.6 96.9l.9 .9M335.5 97.8l.9 .1M336.4 97.9l.9-2.4M337.3 95.5l.9-.6M338.2 94.9l.9 .5M339.1 95.4l.9 1.4M340 96.8l.9-1.6M340.9 95.3l.9-.4" stroke="#3834dc" stroke-width="0.85" fill="none"/>
<path d="M265.2 119.7l.9 1.3 .9 1 .9-1.3 .9-.4 .9 .9 .9-2.6 .9 2.6 .9-.7 .9-1.8 .9-2.3 .9 3 .9 .3 .9-3.1 .9 .5 .9-4.3 .9 3.1 .9 2.1 .9-1.5 .9-2.2 .9 2.6 .9-1.2 .9-.5 .8 1.7 .9-.7 .9 .1 .9-3 .9 .5 .9-.5 .9 1.7 .9-.2 .9-1.9 .9-.5 .9 .9 .9-2.4 .9 1.1 .9-.3 .9-1.4 .9-1.9 .9 .7 .9 1.5 .9-1.4 .9 .2 .9 1.7 .9-2.9 .9 1.5 .9-3.7 .9 2 .9-1.1 .9 1.5 .9 .2 .9-1.1 .9 .2 .9-.5 .9 .5 .9-1.3 .9-.2 .9-2 .9 .6 .9 .8 .9-.3 .9 .5 .9-.7 .9 .2 .9-2.3 .9 .8 .9-2.3 .8 .4 .9 1.1 .9-.9 .9 .5 .9-1.1 .9 1.4 .9-1.6 .9-.6 .9 .4 .9-.7 .9 .5 .9-.3 .9 .4 .9-.3 .9-1.3 .9-0 .9-.4 .9-.2 .9-1.7 .9 1.5 .9-2.9 .9 1.9 .9 .3 3.3 1.4 -.9-.2 -.9-.9 -.9 .9 -.9 1.7 -.9-1 -.9-.2 -.9-.5 -.9 1.2 -.9 1.7 -.9-.2 -.9 .6 -.9-2.2 -.9 2.2 -.9 1 -.9 .4 -.8 .4 -.9-.9 -.9-.6 -.9 1.4 -.9 .4 -.9 1.3 -.9 .2 -.9 .2 -.9-1.6 -.9 .9 -.9 .3 -.9 .2 -.9 1.6 -.9-1.1 -.9-.4 -.9 2.3 -.9 .1 -.9-.9 -.9-1.9 -.9 1.5 -.9 .2 -.9-.2 -.9 .5 -.9 2.6 -.9 .4 -.9 .5 -.9 .3 -.9-2.5 -.9 2.6 -.9-1.3 -.9 .7 -.9 1.4 -.9-1.2 -.9 2.1 -.9-.7 -.9 1.1 -.9-.7 -.9 .9 -.9 .8 -.9-.5 -.9-.8 -.9-0 -.9 .9 -.9 1.1 -.8 .3 -.9-.3 -.9-1.5 -.9 3.4 -.9-1.4 -.9 1.9 -.9 .6 -.9-1.5 -.9 1.6 -.9-.6 -.9-1.1 -.9 .8 -.9-.1 -.9-1.8 -.9 2.9 -.9-1 -.9 .3 -.9-0 -.9 2.5 -.9 .4 -.9-.2 -.9 1.6 -.9-1.6 -.9 .9 -.9 .3 -.9 1.9 -.9-3.3 -.9 .1 -.9 .9 -.9 2.7z" fill="#fff"/>
<path d="M268.5 124.1l-3.3-4.4M269.4 121.3l-3.3-.3M270.3 120.4l-3.3 1.5M271.2 120.4l-3.3 .3M272.1 123.6l-3.3-3.4M273 121.7l-3.3-.6M273.9 121.4l-3.3-2.9M274.8 120.6l-3.3 .6M275.7 122.1l-3.3-1.7M276.6 120.5l-3.3-1.9M277.5 120.8l-3.3-4.4M278.4 120.4l-3.3-1M279.3 117.8l-3.3 1.8M280.2 117.8l-3.3-1.2M281.1 117.6l-3.3-.5M282 118.5l-3.3-5.8M282.9 115.6l-3.3 .2M283.8 117.5l-3.3 .5M284.7 117.6l-3.3-1.1M285.6 116.7l-3.3-2.5M286.5 117.9l-3.3-1.1M287.4 118.5l-3.3-2.8M288.3 116.9l-3.3-1.7M289.1 118.4l-3.3-1.6M290 117.8l-3.3-1.7M290.9 115.9l-3.3 .3M291.8 117.3l-3.3-4M292.7 113.8l-3.3-.1M293.6 115.3l-3.3-2.1M294.5 115.7l-3.3-.7M295.4 115.4l-3.3-.6M296.3 114.3l-3.3-1.5M297.2 113.3l-3.3-.9M298.1 113.4l-3.3-.2M299 114.2l-3.3-3.3M299.9 114.7l-3.3-2.7M300.8 113.9l-3.3-2.2M301.7 113l-3.3-2.8M302.6 113.7l-3.3-5.3M303.5 112.6l-3.3-3.5M304.4 113.2l-3.3-2.7M305.3 111.2l-3.3-2M306.2 112.3l-3.3-3M307.1 110.9l-3.3 .1M308 110.3l-3.3-2.1M308.9 111.6l-3.3-1.9M309.8 109l-3.3-3M310.7 111.4l-3.3-3.4M311.6 111.2l-3.3-4.3M312.5 110.7l-3.3-2.3M313.4 110.2l-3.3-1.7M314.3 107.6l-3.3-.2M315.2 107.2l-3.3 .5M316.1 107.3l-3.3-.2M317 107.2l-3.3 .5M317.9 105.7l-3.3 .7M318.8 107.5l-3.3-1.3M319.7 108.5l-3.3-4.3M320.6 108.3l-3.3-3.5M321.5 106l-3.3-.5M322.4 106.4l-3.3-1.2M323.3 107.6l-3.3-1.8M324.2 105.9l-3.3-.9M325.1 105.8l-3.3-.6M326 105.4l-3.3-2.5M326.9 104.6l-3.3-.8M327.8 106.2l-3.3-4.7M328.6 106l-3.3-4.2M329.5 105.7l-3.3-2.8M330.4 104.5l-3.3-2.4M331.3 104.1l-3.3-1.6M332.2 102.7l-3.3-1.2M333.1 103.2l-3.3-.4M334 104.2l-3.3-2.9M334.9 103.8l-3.3-3.1M335.8 103.4l-3.3-2.3M336.7 102.4l-3.3-2M337.6 100.2l-3.3 .7M338.5 102.4l-3.3-1.8M339.4 101.8l-3.3-.8M340.3 101.9l-3.3-1.3M341.2 100.3l-3.3-1M342.1 99.1l-3.3 .3M343 99.5l-3.3-.6M343.9 99.8l-3.3-1M344.8 100.7l-3.3-3.7M345.7 99.1l-3.3-.5M346.6 98.1l-3.3-2.5M347.5 99.1l-3.3-1.5M348.4 99.2l-3.3-1.4M265.2 119.7l.9 1.3M268.5 124.1l.9-2.8M266.1 121l.9 1M269.4 121.3l.9-.9M267 122l.9-1.3M270.3 120.4l.9-.1M267.9 120.6l.9-.4M271.2 120.4l.9 3.3M268.8 120.3l.9 .9M272.1 123.6l.9-1.9M269.7 121.2l.9-2.6M273 121.7l.9-.3M270.6 118.5l.9 2.6M273.9 121.4l.9-.9M271.5 121.1l.9-.6M274.8 120.6l.9 1.6M272.4 120.5l.9-1.8M275.7 122.1l.9-1.6M273.3 118.6l.9-2.2M276.6 120.5l.9 .3M274.2 116.4l.9 3M277.5 120.8l.9-.4M275.1 119.4l.9 .3M278.4 120.4l.9-2.6M276 119.6l.9-3M279.3 117.8l.9-0M276.9 116.6l.9 .4M280.2 117.8l.9-.2M277.8 117l.9-4.3M281.1 117.6l.9 1M278.7 112.7l.9 3.1M282 118.5l.9-2.9M279.5 115.8l.9 2.1M282.9 115.6l.9 1.8M280.4 118l.9-1.5M283.8 117.5l.9 .1M281.3 116.5l.9-2.3M284.7 117.6l.9-.8M282.2 114.2l.9 2.6M285.6 116.7l.9 1.1M283.1 116.8l.9-1.1M286.5 117.9l.9 .6M284 115.7l.9-.5M287.4 118.5l.9-1.6M284.9 115.2l.9 1.6M288.3 116.9l.9 1.5M285.8 116.8l.9-.7M289.1 118.4l.9-.6M286.7 116.1l.9 .1M290 117.8l.9-1.9M287.6 116.2l.9-3M290.9 115.9l.9 1.4M288.5 113.2l.9 .5M291.8 117.3l.9-3.4M289.4 113.8l.9-.5M292.7 113.8l.9 1.5M290.3 113.2l.9 1.8M293.6 115.3l.9 .4M291.2 115l.9-.3M294.5 115.7l.9-.3M292.1 114.7l.9-1.9M295.4 115.4l.9-1.1M293 112.8l.9-.4M296.3 114.3l.9-1M293.9 112.4l.9 .8M297.2 113.3l.9 .1M294.8 113.2l.9-2.4M298.1 113.4l.9 .8M295.7 110.9l.9 1.1M299 114.2l.9 .5M296.6 111.9l.9-.2M299.9 114.7l.9-.8M297.5 111.7l.9-1.5M300.8 113.9l.9-.9M298.4 110.2l.9-1.9M301.7 113l.9 .7M299.3 108.3l.9 .8M302.6 113.7l.9-1.1M300.2 109.1l.9 1.5M303.5 112.6l.9 .6M301.1 110.5l.9-1.3M304.4 113.2l.9-2M302 109.2l.9 .2M305.3 111.2l.9 1.1M302.9 109.4l.9 1.7M306.2 112.3l.9-1.4M303.8 111.1l.9-2.9M307.1 110.9l.9-.7M304.7 108.2l.9 1.5M308 110.3l.9 1.3M305.6 109.7l.9-3.7M308.9 111.6l.9-2.6M306.5 106l.9 2M309.8 109l.9 2.4M307.4 108l.9-1.1M310.7 111.4l.9-.2M308.3 106.9l.9 1.5M311.6 111.2l.9-.5M309.2 108.4l.9 .2M312.5 110.7l.9-.4M310.1 108.6l.9-1.1M313.4 110.2l.9-2.6M311 107.4l.9 .2M314.3 107.6l.9-.5M311.9 107.6l.9-.5M315.2 107.2l.9 .2M312.8 107.2l.9 .5M316.1 107.3l.9-.2M313.7 107.7l.9-1.3M317 107.2l.9-1.5M314.6 106.3l.9-.1M317.9 105.7l.9 1.9M315.5 106.2l.9-2M318.8 107.5l.9 .9M316.4 104.2l.9 .6M319.7 108.5l.9-.1M317.3 104.8l.9 .7M320.6 108.3l.9-2.3M318.2 105.5l.9-.2M321.5 106l.9 .4M319 105.3l.9 .4M322.4 106.4l.9 1.1M319.9 105.7l.9-.7M323.3 107.6l.9-1.6M320.8 105l.9 .2M324.2 105.9l.9-.2M321.7 105.2l.9-2.3M325.1 105.8l.9-.3M322.6 102.9l.9 .9M326 105.4l.9-.9M323.5 103.8l.9-2.3M326.9 104.6l.9 1.6M324.4 101.5l.9 .3M327.8 106.2l.9-.2M325.3 101.8l.9 1.1M328.6 106l.9-.3M326.2 102.9l.9-.8M329.5 105.7l.9-1.2M327.1 102.1l.9 .4M330.4 104.5l.9-.4M328 102.5l.9-1M331.3 104.1l.9-1.4M328.9 101.5l.9 1.3M332.2 102.7l.9 .6M329.8 102.8l.9-1.6M333.1 103.2l.9 .9M330.7 101.3l.9-.6M334 104.2l.9-.4M331.6 100.7l.9 .4M334.9 103.8l.9-.4M332.5 101.1l.9-.7M335.8 103.4l.9-1M333.4 100.4l.9 .4M336.7 102.4l.9-2.2M334.3 100.8l.9-.2M337.6 100.2l.9 2.2M335.2 100.6l.9 .4M338.5 102.4l.9-.6M336.1 100.9l.9-.3M339.4 101.8l.9 .2M337 100.7l.9-1.4M340.3 101.9l.9-1.7M337.9 99.3l.9 0M341.2 100.3l.9-1.2M338.8 99.3l.9-.4M342.1 99.1l.9 .5M339.7 99l.9-.2M343 99.5l.9 .2M340.6 98.8l.9-1.7M343.9 99.8l.9 1M341.5 97l.9 1.5M344.8 100.7l.9-1.6M342.4 98.6l.9-2.9M345.7 99.1l.9-1M343.3 95.7l.9 1.9M346.6 98.1l.9 .9M344.2 97.5l.9 .3M347.5 99.1l.9 .2" stroke="#3834dc" stroke-width="0.85" fill="none"/>
<polygon points="258.4,42.3 254.5,61.6 251.8,78.2 245,82 238,82.8 235.5,85.5 250,94.5 262,103.2 272,103.2 280.5,101 272,93.5 265,85.5 263.2,76 261.6,66" fill="#fff"/>
<path d="M236.6 84.3V86.2M238.3 82.8V87.3M240.1 82.6V88.4M241.8 82.4V89.4M243.6 82.2V90.5M245.3 81.8V91.6M247.1 80.8V92.7M248.8 79.8V93.8M250.6 78.9V94.9M252.3 74.8V96.2M254.1 64.1V97.5M255.8 54.9V98.7M257.6 46.3V100M259.4 49.3V101.3M261.1 62.3V102.5M262.9 73.8V103.2M264.6 83.4V103.2M266.4 87V103.2M268.1 89V103.2M269.9 91V103.2M271.6 93V103.2M273.4 94.7V102.9M275.1 96.2V102.4M276.9 97.8V101.9M278.6 99.3V101.5" stroke="#4c5cee" stroke-width="0.42" fill="none"/>
<polyline points="258.4,42.3 254.5,61.6" stroke="#e2d03c" stroke-width="0.7" fill="none"/>
<polyline points="254.5,61.6 251.8,78.2" stroke="#3ab4d2" stroke-width="0.7" fill="none"/>
<polyline points="251.8,78.2 245,82 238,82.8" stroke="#36a6e0" stroke-width="0.7" fill="none"/>
<polyline points="258.4,42.3 261.6,66" stroke="#3cc08a" stroke-width="0.7" fill="none"/>
<polyline points="261.6,66 263.2,76 265,85.5" stroke="#2ea0e0" stroke-width="0.7" fill="none"/>
<polyline points="265,85.5 272,93.5 280.5,101" stroke="#3c78ec" stroke-width="0.7" fill="none"/>
<polyline points="265,85.5 258.6,97.3" stroke="#4a70ee" stroke-width="0.5" fill="none"/>
<polyline points="235.5,85.5 250,94.5 262,103.2 272,103.2 280.5,101" stroke="#3c38e0" stroke-width="0.7" fill="none"/>
<line x1="268.5" y1="125.8" x2="205.5" y2="96.2" stroke="#555" stroke-width="0.7"/>
<line x1="268.5" y1="125.8" x2="348.4" y2="100.8" stroke="#555" stroke-width="0.7"/>
<rect x="258.8" y="19.6" width="19.6" height="21.9" fill="#fff" fill-opacity="0.9" stroke="#d0d0d0" stroke-width="0.4"/>
<text x="260.6" y="26.8" font-size="5.4" text-anchor="start" font-family="'Liberation Serif','Times New Roman',serif" font-weight="normal" fill="#222" stroke="#222" stroke-width="0.06">X 86</text>
<text x="260.6" y="32.9" font-size="5.4" text-anchor="start" font-family="'Liberation Serif','Times New Roman',serif" font-weight="normal" fill="#222" stroke="#222" stroke-width="0.06">Y 12</text>
<text x="260.6" y="39" font-size="5.4" text-anchor="start" font-family="'Liberation Serif','Times New Roman',serif" font-weight="normal" fill="#222" stroke="#222" stroke-width="0.06">Z 3776</text>
<circle cx="258.4" cy="42.3" r="0.9" fill="#111"/>
<text x="198.4" y="101.9" font-size="5.3" text-anchor="middle" font-family="'Liberation Serif','Times New Roman',serif" font-weight="normal" fill="#303030" stroke="#303030" stroke-width="0.06">20</text>
<text x="214" y="110.3" font-size="5.3" text-anchor="middle" font-family="'Liberation Serif','Times New Roman',serif" font-weight="normal" fill="#303030" stroke="#303030" stroke-width="0.06">15</text>
<text x="232.2" y="117.6" font-size="5.3" text-anchor="middle" font-family="'Liberation Serif','Times New Roman',serif" font-weight="normal" fill="#303030" stroke="#303030" stroke-width="0.06">10</text>
<text x="250.3" y="125" font-size="5.3" text-anchor="middle" font-family="'Liberation Serif','Times New Roman',serif" font-weight="normal" fill="#303030" stroke="#303030" stroke-width="0.06">5</text>
<text x="289.5" y="128" font-size="5.3" text-anchor="middle" font-family="'Liberation Serif','Times New Roman',serif" font-weight="normal" fill="#303030" stroke="#303030" stroke-width="0.06">50</text>
<text x="306" y="123.9" font-size="5.3" text-anchor="middle" font-family="'Liberation Serif','Times New Roman',serif" font-weight="normal" fill="#303030" stroke="#303030" stroke-width="0.06">100</text>
<text x="322.6" y="119.9" font-size="5.3" text-anchor="middle" font-family="'Liberation Serif','Times New Roman',serif" font-weight="normal" fill="#303030" stroke="#303030" stroke-width="0.06">150</text>
<text x="338.3" y="114.9" font-size="5.3" text-anchor="middle" font-family="'Liberation Serif','Times New Roman',serif" font-weight="normal" fill="#303030" stroke="#303030" stroke-width="0.06">200</text>
<text x="221" y="130.4" font-size="5.4" text-anchor="middle" font-family="'Liberation Serif','Times New Roman',serif" font-weight="normal" fill="#303030" stroke="#303030" stroke-width="0.06">Searching ambiguity factor</text>
<text x="313.6" y="133.5" font-size="5.35" text-anchor="middle" font-family="'Liberation Serif','Times New Roman',serif" font-weight="normal" fill="#303030" stroke="#303030" stroke-width="0.06">Searching unambiguous velocity(m/s)</text>
<text x="186.3" y="66.1" font-size="5.4" text-anchor="middle" font-family="'Liberation Serif','Times New Roman',serif" font-weight="normal" fill="#303030" stroke="#303030" stroke-width="0.06" transform="rotate(-90 186.3 64.3)">Amplitude</text>
<text x="270.9" y="148.8" font-size="11" text-anchor="middle" font-family="'Liberation Serif','Times New Roman',serif" font-weight="bold" fill="#303030" stroke="#303030" stroke-width="0.06">(b)</text>
<polyline points="392.1,230.9 474.5,210.8 543.1,233.8" fill="none" stroke="#d2d2d2" stroke-width="0.45"/>
<polyline points="392.1,210.8 474.5,190.7 543.1,213.6" fill="none" stroke="#d2d2d2" stroke-width="0.45"/>
<polyline points="392.1,190.7 474.5,170.6 543.1,193.5" fill="none" stroke="#d2d2d2" stroke-width="0.45"/>
<polyline points="392.1,170.5 474.5,150.4 543.1,173.3" fill="none" stroke="#d2d2d2" stroke-width="0.45"/>
<line x1="419.6" y1="244.4" x2="419.6" y2="163.8" stroke="#d2d2d2" stroke-width="0.45"/>
<line x1="447" y1="237.7" x2="447" y2="157.1" stroke="#d2d2d2" stroke-width="0.45"/>
<line x1="543.1" y1="253.9" x2="543.1" y2="173.3" stroke="#d2d2d2" stroke-width="0.45"/>
<line x1="518.7" y1="245.8" x2="518.7" y2="165.2" stroke="#d2d2d2" stroke-width="0.45"/>
<line x1="494.4" y1="237.6" x2="494.4" y2="157" stroke="#d2d2d2" stroke-width="0.45"/>
<line x1="488.2" y1="267.3" x2="419.6" y2="244.4" stroke="#d2d2d2" stroke-width="0.45"/>
<line x1="515.6" y1="260.6" x2="447" y2="237.7" stroke="#d2d2d2" stroke-width="0.45"/>
<line x1="460.7" y1="274" x2="543.1" y2="253.9" stroke="#d2d2d2" stroke-width="0.45"/>
<line x1="436.3" y1="265.9" x2="518.7" y2="245.8" stroke="#d2d2d2" stroke-width="0.45"/>
<line x1="412" y1="257.7" x2="494.4" y2="237.6" stroke="#d2d2d2" stroke-width="0.45"/>
<line x1="392.1" y1="251.1" x2="392.1" y2="170.5" stroke="#3a3a3a" stroke-width="0.75"/>
<line x1="390.3" y1="250.4" x2="392.1" y2="251.1" stroke="#3a3a3a" stroke-width="0.55"/>
<text x="388.6" y="251.9" font-size="5.3" text-anchor="end" font-family="'Liberation Serif','Times New Roman',serif" font-weight="normal" fill="#303030" stroke="#303030" stroke-width="0.06">0</text>
<line x1="390.3" y1="230.2" x2="392.1" y2="230.9" stroke="#3a3a3a" stroke-width="0.55"/>
<text x="388.6" y="231.8" font-size="5.3" text-anchor="end" font-family="'Liberation Serif','Times New Roman',serif" font-weight="normal" fill="#303030" stroke="#303030" stroke-width="0.06">1000</text>
<line x1="390.3" y1="210.1" x2="392.1" y2="210.8" stroke="#3a3a3a" stroke-width="0.55"/>
<text x="388.6" y="211.6" font-size="5.3" text-anchor="end" font-family="'Liberation Serif','Times New Roman',serif" font-weight="normal" fill="#303030" stroke="#303030" stroke-width="0.06">2000</text>
<line x1="390.3" y1="190" x2="392.1" y2="190.7" stroke="#3a3a3a" stroke-width="0.55"/>
<text x="388.6" y="191.5" font-size="5.3" text-anchor="end" font-family="'Liberation Serif','Times New Roman',serif" font-weight="normal" fill="#303030" stroke="#303030" stroke-width="0.06">3000</text>
<line x1="390.3" y1="169.8" x2="392.1" y2="170.5" stroke="#3a3a3a" stroke-width="0.55"/>
<text x="388.6" y="171.3" font-size="5.3" text-anchor="end" font-family="'Liberation Serif','Times New Roman',serif" font-weight="normal" fill="#303030" stroke="#303030" stroke-width="0.06">4000</text>
<polygon points="392.1,249.5 392.7,249.5 393.3,250.4 394,251 394.6,250.5 395.2,251.3 395.8,250.7 396.5,251.4 397.1,251.5 397.7,251 398.3,251.5 399,251.6 399.6,252.2 400.2,251.9 400.8,253.3 401.5,252.3 402.1,253.2 402.7,253.7 403.3,253.5 403.9,253.1 404.6,254.1 405.2,253.6 405.8,254.4 406.4,253.9 407.1,254.4 407.7,254.6 408.3,255.3 408.9,255.3 409.6,255.9 410.2,255.4 410.8,256.3 411.4,256 412.1,257 412.7,257 413.3,257 413.9,257.5 414.6,257.6 415.2,257.9 415.8,258.3 416.4,258.1 417,258.1 417.7,258.4 418.3,258 418.9,259.3 419.5,258.7 420.2,259.3 420.8,260 421.4,259.2 422,259.8 422.7,259.3 423.3,259.8 423.9,259.9 424.5,260.5 425.2,261 425.8,260.5 426.4,261.3 427,260.9 427.6,261.1 428.3,262 428.9,261.7 429.5,261.8 430.1,261.8 430.8,262.7 431.4,263.3 432,263.4 432.6,263.4 433.3,264.1 433.9,263.4 434.5,264.5 435.1,264.2 435.8,263.7 436.4,264.7 437,265.1 437.6,265.1 438.2,265.5 438.9,265.8 439.5,265.9 440.1,266 440.7,266 441.4,266.5 442,266.2 442.6,266.1 443.2,267.5 443.9,267.1 444.5,267.1 445.1,267.5 445.7,267.4 446.4,268.3 447,267.5 447.6,267.6 448.2,268 448.9,268.6 449.5,268.5 450.1,268.9 450.7,268.8 451.3,269.5 452,270 452.6,269.9 453.2,270.2 453.8,270.8 454.5,270.3 455.1,270.5 455.7,271.3 456.3,271.6 457,271.3 457.6,271.7 458.2,271.5 458.8,271.7 459.5,272.9 460.1,272.8 460.7,273 461.4,272 462.2,272.1 462.9,271.7 463.7,271.6 464.4,271.6 465.2,271.8 465.9,271.7 466.7,271 467.4,270.8 468.2,270.3 468.9,270.5 469.7,270.4 470.4,270.9 471.2,269.9 471.9,269.4 472.7,269.5 473.4,269.5 474.2,269.6 474.9,268.5 475.7,269.3 476.4,268.4 477.2,268.6 477.9,268.4 478.7,268.9 479.4,267.7 480.2,268 480.9,267.1 481.7,266.9 482.4,266.8 483.2,266.9 483.9,267.4 484.7,267.2 485.4,266.8 486.2,266.9 486.9,265.6 487.7,266.1 488.4,265.6 489.2,266.2 489.9,265.4 490.7,265.9 491.4,265.5 492.2,264.5 492.9,264.9 493.7,264.2 494.4,264.4 495.2,264.2 495.9,264.1 496.7,264 497.4,263.6 498.2,263.8 498.9,262.9 499.7,263.5 500.4,262.7 501.2,263 501.9,262.5 502.6,262.9 503.4,261.7 504.1,262.3 504.9,261.2 505.6,262.1 506.4,261.7 507.1,261.1 507.9,261.1 508.6,260.5 509.4,261.4 510.1,260.7 510.9,260.3 511.6,260.2 512.4,260 513.1,260 513.9,259 514.6,259.9 515.4,259.6 516.1,259.2 516.9,258.3 517.6,259.1 518.4,258.9 519.1,258.4 519.9,258.2 520.6,258.1 521.4,257.8 522.1,257.3 522.9,257.1 523.6,256.8 524.4,257.3 525.1,256.7 525.9,256.6 526.6,257 527.4,256.4 528.1,256.3 528.9,255.4 529.6,255.7 530.4,255.2 531.1,255.5 531.9,254.8 532.6,254.6 533.4,255.4 534.1,254.6 534.9,254.4 535.6,254.3 536.4,253.7 537.1,254.1 537.9,253.3 538.6,253.2 539.4,253.2 540.1,253.7 540.9,253.3 541.6,253.1 542.4,252.1 543.1,252 543.1,249.4 542.5,247.5 541.9,248.3 541.2,247.5 540.6,247.4 540,248.3 539.4,246.4 538.7,246.5 538.1,243.8 537.5,247.4 536.9,245.7 536.2,244.3 535.6,245.7 535,244.4 534.4,245.8 533.7,246 533.1,242.9 532.5,243.4 531.9,244.6 531.3,244.9 530.6,241.6 530,243.4 529.4,243.1 528.8,242.4 528.1,242.7 527.5,243.3 526.9,243.5 526.3,243.8 525.6,242.6 525,242.5 524.4,242.3 523.8,238.3 523.1,240.6 522.5,240.3 521.9,239 521.3,240.9 520.6,238.7 520,238.5 519.4,240.4 518.8,238.1 518.2,238.4 517.5,239.2 516.9,239.1 516.3,240.2 515.7,236.8 515,239.7 514.4,236.6 513.8,239.5 513.2,239.3 512.5,238.9 511.9,238.1 511.3,238.7 510.7,235.1 510,238 509.4,234.9 508.8,237 508.2,237.5 507.6,232 506.9,234.7 506.3,235.5 505.7,235.9 505.1,233.9 504.4,233.8 503.8,235.4 503.2,235.6 502.6,235.8 501.9,235.5 501.3,235.3 500.7,235.2 500.1,232.2 499.4,233.3 498.8,232.9 498.2,232.9 497.6,232.5 497,232.2 496.3,231.7 495.7,230.3 495.1,232.3 494.5,230 493.8,231.5 493.2,230.3 492.6,231.4 492,228.8 491.3,231.5 490.7,230.9 490.1,230.1 489.5,229.4 488.8,229.5 488.2,228.9 487.6,230.8 487,228.4 486.3,227.4 485.7,229.5 485.1,228.1 484.5,228.7 483.9,229.4 483.2,229.3 482.6,227.6 482,227 481.4,225.9 480.7,227.4 480.1,226.2 479.5,227.9 478.9,227.7 478.2,224.7 477.6,227.5 477,227.1 476.4,223.6 475.7,220.2 475.1,223.8 474.5,226.3 474.5,225.6 473.8,223.7 473,226.7 472.3,223.5 471.5,226.9 470.8,221.9 470,226.4 469.3,226.8 468.5,222.7 467.8,226.3 467,226.4 466.3,225.5 465.5,226.4 464.8,226.4 464,226.8 463.3,227.5 462.5,229.1 461.8,226.5 461,229.7 460.3,228.8 459.5,227.9 458.8,230.3 458,230.1 457.3,227.7 456.5,227 455.8,230.9 455,230.5 454.3,229.5 453.5,226.3 452.8,231.2 452,231.9 451.3,231.1 450.5,231 449.8,227.9 449,231.2 448.3,232.4 447.5,229.7 446.8,230.5 446,231.9 445.3,233.4 444.5,231.8 443.8,231.2 443,233.4 442.3,231.5 441.5,234.1 440.8,230.9 440,234.9 439.3,233.2 438.5,232.9 437.8,233.3 437,233.4 436.3,233.8 435.5,232.2 434.8,229.2 434,236 433.3,233.4 432.6,235.5 431.8,236.2 431.1,236.1 430.3,235.5 429.6,236.9 428.8,236.2 428.1,235.3 427.3,238 426.6,234.9 425.8,237.2 425.1,235.1 424.3,236.3 423.6,238.8 422.8,236.2 422.1,237.5 421.3,238.4 420.6,236.4 419.8,239.5 419.1,239.7 418.3,234.9 417.6,239.4 416.8,238.3 416.1,238.5 415.3,240.8 414.6,240.7 413.8,240.2 413.1,235.6 412.3,240 411.6,239.3 410.8,241.7 410.1,241.7 409.3,239.3 408.6,239.2 407.8,241.9 407.1,236 406.3,242.6 405.6,242.5 404.8,241.9 404.1,243.3 403.3,238.6 402.6,243.8 401.8,242.7 401.1,243.2 400.3,242.6 399.6,238.3 398.8,242.7 398.1,240.3 397.3,243.3 396.6,244.4 395.8,243 395.1,244 394.3,243.9 393.6,240.7 392.8,240.5 392.1,243.6" fill="#4530d8" stroke="#4530d8" stroke-width="0.3" stroke-linejoin="round" filter="url(#sf)"/>
<line x1="460.7" y1="274" x2="392.1" y2="251.1" stroke="#6e6e60" stroke-width="0.8"/>
<line x1="460.7" y1="274" x2="543.1" y2="253.9" stroke="#6e6e60" stroke-width="0.8"/>
<polygon points="436,246 452,241 482,252 478,262 458,262" fill="#4a66f2" opacity="0.45" filter="url(#bl)"/>
<defs><linearGradient id="fs13" x1="0" y1="0" x2="0" y2="1"><stop offset="0" stop-color="#34a4e6"/><stop offset="0.25" stop-color="#2a84f0"/><stop offset="0.7" stop-color="#2a64ee"/><stop offset="1" stop-color="#3c48e4"/></linearGradient></defs>
<rect x="433.6" y="227.8" width="1.3" height="18.9" fill="url(#fs13)" opacity="1.0"/>
<defs><linearGradient id="fs12" x1="0" y1="0" x2="0" y2="1"><stop offset="0" stop-color="#34a4e6"/><stop offset="0.25" stop-color="#2a84f0"/><stop offset="0.7" stop-color="#2a64ee"/><stop offset="1" stop-color="#3c48e4"/></linearGradient></defs>
<rect x="438.2" y="226.3" width="1.3" height="21.8" fill="url(#fs12)" opacity="1.0"/>
<defs><linearGradient id="fs11" x1="0" y1="0" x2="0" y2="1"><stop offset="0" stop-color="#34a4e6"/><stop offset="0.25" stop-color="#2a84f0"/><stop offset="0.7" stop-color="#2a64ee"/><stop offset="1" stop-color="#3c48e4"/></linearGradient></defs>
<rect x="442.5" y="206" width="1.3" height="43.5" fill="url(#fs11)" opacity="1.0"/>
<defs><linearGradient id="fs9" x1="0" y1="0" x2="0" y2="1"><stop offset="0" stop-color="#34a4e6"/><stop offset="0.25" stop-color="#2a84f0"/><stop offset="0.7" stop-color="#2a64ee"/><stop offset="1" stop-color="#3c48e4"/></linearGradient></defs>
<rect x="451.2" y="212.2" width="1.3" height="40.1" fill="url(#fs9)" opacity="1.0"/>
<defs><linearGradient id="fs8" x1="0" y1="0" x2="0" y2="1"><stop offset="0" stop-color="#34a4e6"/><stop offset="0.25" stop-color="#2a84f0"/><stop offset="0.7" stop-color="#2a64ee"/><stop offset="1" stop-color="#3c48e4"/></linearGradient></defs>
<rect x="455.5" y="230.9" width="1.3" height="22.8" fill="url(#fs8)" opacity="0.85"/>
<defs><linearGradient id="fs7" x1="0" y1="0" x2="0" y2="1"><stop offset="0" stop-color="#34a4e6"/><stop offset="0.25" stop-color="#2a84f0"/><stop offset="0.7" stop-color="#2a64ee"/><stop offset="1" stop-color="#3c48e4"/></linearGradient></defs>
<rect x="459.7" y="235.3" width="1.3" height="19.8" fill="url(#fs7)" opacity="0.7"/>
<defs><linearGradient id="fs6" x1="0" y1="0" x2="0" y2="1"><stop offset="0" stop-color="#34a4e6"/><stop offset="0.25" stop-color="#2a84f0"/><stop offset="0.7" stop-color="#2a64ee"/><stop offset="1" stop-color="#3c48e4"/></linearGradient></defs>
<rect x="464.4" y="240" width="1.3" height="16.5" fill="url(#fs6)" opacity="0.55"/>
<defs><linearGradient id="fs5" x1="0" y1="0" x2="0" y2="1"><stop offset="0" stop-color="#34a4e6"/><stop offset="0.25" stop-color="#2a84f0"/><stop offset="0.7" stop-color="#2a64ee"/><stop offset="1" stop-color="#3c48e4"/></linearGradient></defs>
<rect x="469.4" y="245" width="1.3" height="13" fill="url(#fs5)" opacity="0.45"/>
<defs><linearGradient id="fs4" x1="0" y1="0" x2="0" y2="1"><stop offset="0" stop-color="#34a4e6"/><stop offset="0.25" stop-color="#2a84f0"/><stop offset="0.7" stop-color="#2a64ee"/><stop offset="1" stop-color="#3c48e4"/></linearGradient></defs>
<rect x="473.9" y="249" width="1.3" height="10.5" fill="url(#fs4)" opacity="0.35"/>
<defs><linearGradient id="pk4472" x1="0" y1="0" x2="0" y2="1"><stop offset="0" stop-color="#44c870"/><stop offset="0.4" stop-color="#3cc888"/><stop offset="0.48" stop-color="#3aa8e0"/><stop offset="0.62" stop-color="#2a78f0"/><stop offset="1" stop-color="#3a50e6"/></linearGradient></defs>
<rect x="446.6" y="181.6" width="1.4" height="60.2" fill="url(#pk4472)"/>
<rect x="427.5" y="160.7" width="18.7" height="21.3" fill="#fff" fill-opacity="0.9" stroke="#d0d0d0" stroke-width="0.4"/>
<text x="429.2" y="165.5" font-size="5.2" text-anchor="start" font-family="'Liberation Serif','Times New Roman',serif" font-weight="normal" fill="#222" stroke="#222" stroke-width="0.06">X 101</text>
<text x="429.2" y="172.1" font-size="5.2" text-anchor="start" font-family="'Liberation Serif','Times New Roman',serif" font-weight="normal" fill="#222" stroke="#222" stroke-width="0.06">Y 3400</text>
<text x="429.2" y="178.5" font-size="5.2" text-anchor="start" font-family="'Liberation Serif','Times New Roman',serif" font-weight="normal" fill="#222" stroke="#222" stroke-width="0.06">Z 3584</text>
<circle cx="447.3" cy="181.6" r="0.9" fill="#111"/>
<text x="468.9" y="172.2" font-size="5.4" text-anchor="middle" font-family="'Liberation Sans',Arial,sans-serif" font-weight="normal" fill="#111" stroke="#111" stroke-width="0.15">Mainlobe</text>
<text x="460.4" y="198.9" font-size="5.1" text-anchor="middle" font-family="'Liberation Sans',Arial,sans-serif" font-weight="normal" fill="#111" stroke="#111" stroke-width="0.15">BSSL</text>
<line x1="458.5" y1="172.6" x2="447.6" y2="181.6" stroke="#111" stroke-width="0.55"/>
<polygon points="447.6,181.6 449,179.2 450.2,180.7" fill="#111"/>
<line x1="454.2" y1="199.4" x2="439.5" y2="206.8" stroke="#111" stroke-width="0.55"/>
<polygon points="439.5,206.8 441.4,204.7 442.3,206.5" fill="#111"/>
<line x1="454.2" y1="199.4" x2="447" y2="210.4" stroke="#111" stroke-width="0.55"/>
<polygon points="447,210.4 447.6,207.7 449.3,208.8" fill="#111"/>
<text x="403.6" y="264.4" font-size="5.3" text-anchor="middle" font-family="'Liberation Serif','Times New Roman',serif" font-weight="normal" fill="#303030" stroke="#303030" stroke-width="0.06">4000</text>
<text x="427.6" y="272.2" font-size="5.3" text-anchor="middle" font-family="'Liberation Serif','Times New Roman',serif" font-weight="normal" fill="#303030" stroke="#303030" stroke-width="0.06">2000</text>
<text x="455.5" y="280.2" font-size="5.3" text-anchor="middle" font-family="'Liberation Serif','Times New Roman',serif" font-weight="normal" fill="#303030" stroke="#303030" stroke-width="0.06">0</text>
<text x="466.2" y="280.6" font-size="5.3" text-anchor="middle" font-family="'Liberation Serif','Times New Roman',serif" font-weight="normal" fill="#303030" stroke="#303030" stroke-width="0.06">0</text>
<text x="496.1" y="274.6" font-size="5.3" text-anchor="middle" font-family="'Liberation Serif','Times New Roman',serif" font-weight="normal" fill="#303030" stroke="#303030" stroke-width="0.06">100</text>
<text x="524.1" y="268" font-size="5.3" text-anchor="middle" font-family="'Liberation Serif','Times New Roman',serif" font-weight="normal" fill="#303030" stroke="#303030" stroke-width="0.06">200</text>
<text x="414.5" y="277.3" font-size="5.35" text-anchor="middle" font-family="'Liberation Serif','Times New Roman',serif" font-weight="normal" fill="#303030" stroke="#303030" stroke-width="0.06">Searching velocity(m/s)</text>
<text x="516.3" y="276.9" font-size="5.4" text-anchor="middle" font-family="'Liberation Serif','Times New Roman',serif" font-weight="normal" fill="#303030" stroke="#303030" stroke-width="0.06">Range cell</text>
<text x="372.4" y="212.3" font-size="5.4" text-anchor="middle" font-family="'Liberation Serif','Times New Roman',serif" font-weight="normal" fill="#303030" stroke="#303030" stroke-width="0.06" transform="rotate(-90 372.4 210.5)">Amplitude</text>
<text x="455.9" y="295.2" font-size="11" text-anchor="middle" font-family="'Liberation Serif','Times New Roman',serif" font-weight="bold" fill="#303030" stroke="#303030" stroke-width="0.06">(f)</text>
<polyline points="392.5,411.6 392.9,407.1 393.2,409.8 393.6,409.5 394,408 394.3,410.2 394.7,409.4 395.1,408.5 395.4,407.9 395.8,406.2 396.2,409 396.5,407.3 396.9,407.1 397.3,406.2 397.6,408.9 398,406.4 398.4,409.6 398.7,406.4 399.1,402.6 399.5,400.8 399.9,402.6 400.2,406.4 400.6,409.9 401,409.6 401.3,409.5 401.7,407.9 402.1,406.2 402.4,409.2 402.8,408.5 403.2,409.7 403.5,407.7 403.9,410.7 404.3,411.3 404.6,410 405,408.1 405.4,409.1 405.7,407.3 406.1,406.9 406.5,409.4 406.8,407.5 407.2,407.1 407.6,407.6 407.9,405.2 408.3,383.3 408.7,406.5 409,410.8 409.4,410.2 409.8,405.7 410.1,409.5 410.5,408 410.9,400 411.2,407.1 411.6,408 412,407.7 412.3,409.4 412.7,408.1 413.1,406.5 413.4,407.5 413.8,403.8 414.2,407.7 414.6,408.2 414.9,408.3 415.3,409.3 415.7,410.2 416,407.4 416.4,409.5 416.8,410.8 417.1,411 417.5,409.6 417.9,410.1 418.2,410.8 418.6,410.7 419,410.6 419.3,408.5 419.7,407.7 420.1,406.5 420.4,406.5 420.8,406.5 421.2,407.8 421.5,409.3 421.9,407.9 422.3,407.4 422.6,409 423,407.5 423.4,406.9 423.7,408.3 424.1,407.5 424.5,409.9 424.8,411.1 425.2,410.3 425.6,410.3 425.9,405.3 426.3,397.8 426.7,405.3 427,405.4 427.4,409.6 427.8,406.6 428.1,396.1 428.5,406.6 428.9,409.5 429.2,374.1 429.6,308.5 430,371.3 430.4,410.3 430.7,404.3 431.1,389.8 431.5,404.3 431.8,405.7 432.2,405.4 432.6,408.9 432.9,408.1 433.3,408.4 433.7,410.6 434,409.4 434.4,408.8 434.8,408.3 435.1,410.2 435.5,408.3 435.9,409.7 436.2,409 436.6,405.1 437,406.8 437.3,409.9 437.7,409.9 438.1,407.7 438.4,408 438.8,410.6 439.2,410 439.5,409.8 439.9,410.7 440.3,409.3 440.6,409.7 441,408.6 441.4,409.4 441.7,408.8 442.1,405.6 442.5,408.6 442.8,410.4 443.2,408.9 443.6,408.3 443.9,409.6 444.3,408.7 444.7,408.3 445.1,406.7 445.4,409.7 445.8,406.1 446.2,404.4 446.5,406.6 446.9,407 447.3,405.8 447.6,398.9 448,405.8 448.4,408.9 448.7,408.9 449.1,406.2 449.5,408.2 449.8,410.2 450.2,410.4 450.6,406.3 450.9,382.3 451.3,406.3 451.7,407.6 452,398.9 452.4,407.6 452.8,407.6 453.1,410.1 453.5,409.1 453.9,408.3 454.2,405.1 454.6,404.3 455,407.1 455.3,407.6 455.7,407.5 456.1,405.7 456.4,403.5 456.8,408.3 457.2,409.7 457.5,409.4 457.9,410.7 458.3,410.8 458.6,410.1 459,404.8 459.4,403.9 459.8,408.2 460.1,406.9 460.5,402.6 460.9,406.7 461.2,409.3 461.6,410.8 462,409.5 462.3,408.1 462.7,409.3 463.1,408.5 463.4,409.4 463.8,409.4 464.2,406 464.5,409.6 464.9,407.1 465.3,406.8 465.6,406.4 466,407.8 466.4,404.8 466.7,408.6 467.1,410.5 467.5,407.5 467.8,407.5 468.2,408.5 468.6,408.4 468.9,409 469.3,409.5 469.7,405.3 470,405 470.4,407.8 470.8,409.4 471.1,408 471.5,410.4 471.9,408.7 472.2,393.7 472.6,408.7 473,409.6 473.4,403.4 473.7,408.5 474.1,407 474.5,406.9 474.8,409.5 475.2,406.7 475.6,404.5 475.9,409.4 476.3,407.6 476.7,403.4 477,406.1 477.4,407.7 477.8,409.5 478.1,408 478.5,409.5 478.9,409.3 479.2,408.9 479.6,409.7 480,410.1 480.3,409.5 480.7,410.2 481.1,407.5 481.4,409.4 481.8,409.4 482.2,410 482.5,407.3 482.9,408.3 483.3,409.2 483.6,410.3 484,407.9 484.4,406.3 484.7,410.1 485.1,410.3 485.5,410.2 485.8,410.2 486.2,410.4 486.6,410 486.9,408 487.3,407.5 487.7,406.7 488.1,408.2 488.4,410.1 488.8,410.9 489.2,409.9 489.5,410 489.9,409.1 490.3,407.4 490.6,407.5 491,405.2 491.4,407 491.7,410.4 492.1,408.7 492.5,406.2 492.8,405.3 493.2,408.3 493.6,410.6 493.9,410.4 494.3,410.9 494.7,408.4 495,403.7 495.4,401.1 495.8,403.7 496.1,408.4 496.5,411.3 496.9,409.8 497.2,404.4 497.6,408.4 498,410.1 498.3,410.5 498.7,410.6 499.1,408.2 499.4,408.1 499.8,408.5 500.2,408 500.5,408.4 500.9,410.1 501.3,409 501.6,408.5 502,406.2 502.4,406.9 502.8,407.1 503.1,407.4 503.5,410.3 503.9,409.1 504.2,409 504.6,409.3 505,408.6 505.3,409.9 505.7,407.4 506.1,404.8 506.4,409 506.8,407.5 507.2,407 507.5,406.5 507.9,408.4 508.3,408.3 508.6,407 509,407.6 509.4,402.9 509.7,404.9 510.1,404.3 510.5,407 510.8,409.2 511.2,408.8 511.6,405.8 511.9,408.9 512.3,410.3 512.7,407.9 513,408.3 513.4,403.5 513.8,400.8 514.1,403.5 514.5,408.3 514.9,410.1 515.2,408 515.6,407.1 516,409.1 516.3,406.1 516.7,409.6 517.1,407.4 517.5,406.7 517.8,406.6 518.2,407.8 518.6,407 518.9,409.7 519.3,409.4 519.7,406.6 520,408.5 520.4,406.7 520.8,405.9 521.1,409.9 521.5,410.9 521.9,409 522.2,408.1 522.6,404.1 523,401.7 523.3,404.1 523.7,408.6 524.1,410.1 524.4,409.9 524.8,409.6 525.2,409.8 525.5,409.1 525.9,409.1 526.3,409.8 526.6,410.7 527,409.8 527.4,402.7 527.7,402 528.1,408.7 528.5,409.6 528.8,406.9 529.2,408.5 529.6,410.5 529.9,410.5 530.3,406.9 530.7,407.8 531,409 531.4,409.6 531.8,410.5 532.1,410.1 532.5,408.5 532.9,409.4 533.3,409.6 533.6,408.6 534,408.8 534.4,394.2 534.7,408.8 535.1,407.4 535.5,408 535.8,408.5 536.2,408.2 536.6,407.9 536.9,408.9 537.3,406.3 537.7,408.6 538,410.6 538.4,409.4 538.8,409.6 539.1,407.3 539.5,406.4" fill="none" stroke="#1c1ce6" stroke-width="0.95" stroke-linejoin="round"/>
<rect x="392.5" y="302.3" width="147" height="110.4" fill="none" stroke="#444" stroke-width="0.7"/>
<line x1="392.5" y1="412.7" x2="394" y2="412.7" stroke="#444" stroke-width="0.5"/>
<line x1="539.5" y1="412.7" x2="538" y2="412.7" stroke="#444" stroke-width="0.5"/>
<text x="390.7" y="414.7" font-size="6.2" text-anchor="end" font-family="'Liberation Serif','Times New Roman',serif" font-weight="normal" fill="#303030" stroke="#303030" stroke-width="0.06">0</text>
<line x1="392.5" y1="398.9" x2="394" y2="398.9" stroke="#444" stroke-width="0.5"/>
<line x1="539.5" y1="398.9" x2="538" y2="398.9" stroke="#444" stroke-width="0.5"/>
<text x="390.7" y="400.9" font-size="6.2" text-anchor="end" font-family="'Liberation Serif','Times New Roman',serif" font-weight="normal" fill="#303030" stroke="#303030" stroke-width="0.06">500</text>
<line x1="392.5" y1="385.1" x2="394" y2="385.1" stroke="#444" stroke-width="0.5"/>
<line x1="539.5" y1="385.1" x2="538" y2="385.1" stroke="#444" stroke-width="0.5"/>
<text x="390.7" y="387.1" font-size="6.2" text-anchor="end" font-family="'Liberation Serif','Times New Roman',serif" font-weight="normal" fill="#303030" stroke="#303030" stroke-width="0.06">1000</text>
<line x1="392.5" y1="371.3" x2="394" y2="371.3" stroke="#444" stroke-width="0.5"/>
<line x1="539.5" y1="371.3" x2="538" y2="371.3" stroke="#444" stroke-width="0.5"/>
<text x="390.7" y="373.3" font-size="6.2" text-anchor="end" font-family="'Liberation Serif','Times New Roman',serif" font-weight="normal" fill="#303030" stroke="#303030" stroke-width="0.06">1500</text>
<line x1="392.5" y1="357.5" x2="394" y2="357.5" stroke="#444" stroke-width="0.5"/>
<line x1="539.5" y1="357.5" x2="538" y2="357.5" stroke="#444" stroke-width="0.5"/>
<text x="390.7" y="359.5" font-size="6.2" text-anchor="end" font-family="'Liberation Serif','Times New Roman',serif" font-weight="normal" fill="#303030" stroke="#303030" stroke-width="0.06">2000</text>
<line x1="392.5" y1="343.7" x2="394" y2="343.7" stroke="#444" stroke-width="0.5"/>
<line x1="539.5" y1="343.7" x2="538" y2="343.7" stroke="#444" stroke-width="0.5"/>
<text x="390.7" y="345.7" font-size="6.2" text-anchor="end" font-family="'Liberation Serif','Times New Roman',serif" font-weight="normal" fill="#303030" stroke="#303030" stroke-width="0.06">2500</text>
<line x1="392.5" y1="329.9" x2="394" y2="329.9" stroke="#444" stroke-width="0.5"/>
<line x1="539.5" y1="329.9" x2="538" y2="329.9" stroke="#444" stroke-width="0.5"/>
<text x="390.7" y="331.9" font-size="6.2" text-anchor="end" font-family="'Liberation Serif','Times New Roman',serif" font-weight="normal" fill="#303030" stroke="#303030" stroke-width="0.06">3000</text>
<line x1="392.5" y1="316.1" x2="394" y2="316.1" stroke="#444" stroke-width="0.5"/>
<line x1="539.5" y1="316.1" x2="538" y2="316.1" stroke="#444" stroke-width="0.5"/>
<text x="390.7" y="318.1" font-size="6.2" text-anchor="end" font-family="'Liberation Serif','Times New Roman',serif" font-weight="normal" fill="#303030" stroke="#303030" stroke-width="0.06">3500</text>
<line x1="392.5" y1="302.3" x2="394" y2="302.3" stroke="#444" stroke-width="0.5"/>
<line x1="539.5" y1="302.3" x2="538" y2="302.3" stroke="#444" stroke-width="0.5"/>
<text x="390.7" y="304.3" font-size="6.2" text-anchor="end" font-family="'Liberation Serif','Times New Roman',serif" font-weight="normal" fill="#303030" stroke="#303030" stroke-width="0.06">4000</text>
<line x1="392.5" y1="412.7" x2="392.5" y2="411.2" stroke="#444" stroke-width="0.5"/>
<line x1="392.5" y1="302.3" x2="392.5" y2="303.8" stroke="#444" stroke-width="0.5"/>
<text x="392.5" y="420.8" font-size="6.2" text-anchor="middle" font-family="'Liberation Serif','Times New Roman',serif" font-weight="normal" fill="#303030" stroke="#303030" stroke-width="0.06">0</text>
<line x1="429.2" y1="412.7" x2="429.2" y2="411.2" stroke="#444" stroke-width="0.5"/>
<line x1="429.2" y1="302.3" x2="429.2" y2="303.8" stroke="#444" stroke-width="0.5"/>
<text x="429.2" y="420.8" font-size="6.2" text-anchor="middle" font-family="'Liberation Serif','Times New Roman',serif" font-weight="normal" fill="#303030" stroke="#303030" stroke-width="0.06">100</text>
<line x1="466" y1="412.7" x2="466" y2="411.2" stroke="#444" stroke-width="0.5"/>
<line x1="466" y1="302.3" x2="466" y2="303.8" stroke="#444" stroke-width="0.5"/>
<text x="466" y="420.8" font-size="6.2" text-anchor="middle" font-family="'Liberation Serif','Times New Roman',serif" font-weight="normal" fill="#303030" stroke="#303030" stroke-width="0.06">200</text>
<line x1="502.8" y1="412.7" x2="502.8" y2="411.2" stroke="#444" stroke-width="0.5"/>
<line x1="502.8" y1="302.3" x2="502.8" y2="303.8" stroke="#444" stroke-width="0.5"/>
<text x="502.8" y="420.8" font-size="6.2" text-anchor="middle" font-family="'Liberation Serif','Times New Roman',serif" font-weight="normal" fill="#303030" stroke="#303030" stroke-width="0.06">300</text>
<line x1="539.5" y1="412.7" x2="539.5" y2="411.2" stroke="#444" stroke-width="0.5"/>
<line x1="539.5" y1="302.3" x2="539.5" y2="303.8" stroke="#444" stroke-width="0.5"/>
<text x="539.5" y="420.8" font-size="6.2" text-anchor="middle" font-family="'Liberation Serif','Times New Roman',serif" font-weight="normal" fill="#303030" stroke="#303030" stroke-width="0.06">400</text>
<rect x="431.5" y="310.2" width="20.7" height="16.8" fill="#fff" fill-opacity="0.9" stroke="#d0d0d0" stroke-width="0.4"/>
<text x="432.7" y="316.9" font-size="6.0" text-anchor="start" font-family="'Liberation Serif','Times New Roman',serif" font-weight="normal" fill="#222" stroke="#222" stroke-width="0.06">X 101</text>
<text x="432.7" y="323.8" font-size="6.0" text-anchor="start" font-family="'Liberation Serif','Times New Roman',serif" font-weight="normal" fill="#222" stroke="#222" stroke-width="0.06">Y 3776</text>
<circle cx="429.6" cy="308.5" r="0.9" fill="#111"/>
<text x="465.8" y="428.2" font-size="6.2" text-anchor="middle" font-family="'Liberation Serif','Times New Roman',serif" font-weight="normal" fill="#303030" stroke="#303030" stroke-width="0.06">Range cell</text>
<text x="373.8" y="359.5" font-size="6.2" text-anchor="middle" font-family="'Liberation Serif','Times New Roman',serif" font-weight="normal" fill="#303030" stroke="#303030" stroke-width="0.06" transform="rotate(-90 373.8 357.5)">Amplitude</text>
<text x="456" y="443" font-size="11" text-anchor="middle" font-family="'Liberation Serif','Times New Roman',serif" font-weight="bold" fill="#303030" stroke="#303030" stroke-width="0.06">(i)</text>
</svg></body></html>
